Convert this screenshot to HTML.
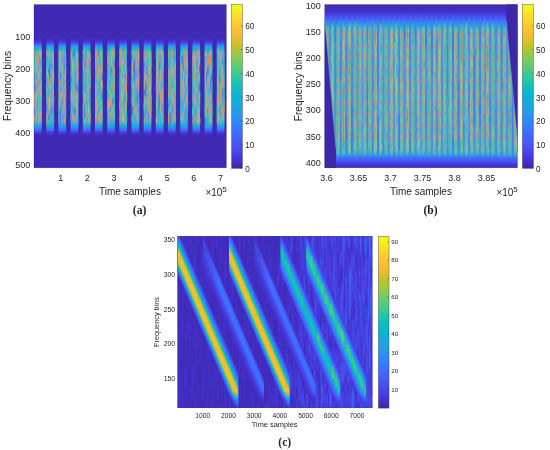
<!DOCTYPE html>
<html><head><meta charset="utf-8"><title>Spectrograms</title>
<style>html,body{margin:0;padding:0;background:#fff}svg{display:block}</style></head>
<body><svg width="550" height="450" viewBox="0 0 550 450" font-family="Liberation Sans, sans-serif">
<defs><linearGradient id="ga" x1="0" y1="0" x2="0" y2="1"><stop offset="0" stop-color="#3e26a8" stop-opacity="0"/><stop offset="0.03" stop-color="#422ebe" stop-opacity="1"/><stop offset="0.05" stop-color="#4539d9" stop-opacity="1"/><stop offset="0.07" stop-color="#484ef1" stop-opacity="1"/><stop offset="0.08" stop-color="#4367fd" stop-opacity="1"/><stop offset="0.09" stop-color="#2d88f6" stop-opacity="1"/><stop offset="0.1" stop-color="#249fe6" stop-opacity="1"/><stop offset="0.11" stop-color="#19addc" stop-opacity="1"/><stop offset="0.13" stop-color="#05b6ce" stop-opacity="1"/><stop offset="0.16" stop-color="#12beb9" stop-opacity="1"/><stop offset="0.47" stop-color="#21c1b0" stop-opacity="1"/><stop offset="0.79" stop-color="#12beb9" stop-opacity="1"/><stop offset="0.83" stop-color="#01b9c6" stop-opacity="1"/><stop offset="0.85" stop-color="#11b1d6" stop-opacity="1"/><stop offset="0.87" stop-color="#1caadf" stop-opacity="1"/><stop offset="0.89" stop-color="#259ce7" stop-opacity="1"/><stop offset="0.9" stop-color="#2e85f8" stop-opacity="1"/><stop offset="0.92" stop-color="#4367fd" stop-opacity="1"/><stop offset="0.93" stop-color="#484aee" stop-opacity="1"/><stop offset="0.95" stop-color="#4536d3" stop-opacity="1"/><stop offset="0.97" stop-color="#402bb7" stop-opacity="1"/><stop offset="1" stop-color="#3e26a8" stop-opacity="0"/></linearGradient>
<clipPath id="ca"><rect x="34" y="4.6" width="192.3" height="163.2"/></clipPath>
<filter id="bl" x="-5%" y="-5%" width="110%" height="110%"><feGaussianBlur stdDeviation="0.45 1.4"/></filter>
<filter id="bl2" x="-5%" y="-5%" width="110%" height="110%"><feGaussianBlur stdDeviation="0.5"/></filter>
<linearGradient id="cba" x1="0" y1="0" x2="0" y2="1"><stop offset="0" stop-color="#f9fb15"/><stop offset="0.06" stop-color="#f5e327"/><stop offset="0.12" stop-color="#feca33"/><stop offset="0.19" stop-color="#f1ba37"/><stop offset="0.25" stop-color="#c8c129"/><stop offset="0.31" stop-color="#94ca4a"/><stop offset="0.38" stop-color="#5ccc76"/><stop offset="0.44" stop-color="#34c79c"/><stop offset="0.5" stop-color="#12beb9"/><stop offset="0.56" stop-color="#0cb3d3"/><stop offset="0.62" stop-color="#21a3e3"/><stop offset="0.69" stop-color="#2c90f0"/><stop offset="0.75" stop-color="#347afd"/><stop offset="0.81" stop-color="#4562fc"/><stop offset="0.88" stop-color="#484cef"/><stop offset="0.94" stop-color="#4536d5"/><stop offset="1" stop-color="#3e26a8"/></linearGradient>
<linearGradient id="gb" x1="0" y1="0" x2="0" y2="1"><stop offset="0.01" stop-color="#402bb7"/><stop offset="0.04" stop-color="#4330c5"/><stop offset="0.06" stop-color="#473fe3"/><stop offset="0.09" stop-color="#465ffb"/><stop offset="0.11" stop-color="#2e85f8"/><stop offset="0.13" stop-color="#22a1e4"/><stop offset="0.15" stop-color="#0ab4d2"/><stop offset="0.17" stop-color="#04bbc2"/><stop offset="0.49" stop-color="#12beb9"/><stop offset="0.81" stop-color="#04bbc2"/><stop offset="0.87" stop-color="#01b9c6"/><stop offset="0.89" stop-color="#05b6ce"/><stop offset="0.91" stop-color="#20a4e3"/><stop offset="0.93" stop-color="#2e85f8"/><stop offset="0.94" stop-color="#4367fd"/><stop offset="0.96" stop-color="#4755f6"/><stop offset="0.97" stop-color="#4743e7"/><stop offset="0.98" stop-color="#4536d3"/><stop offset="1" stop-color="#422ebe"/></linearGradient>
<clipPath id="cpb"><rect x="324.8" y="4.6" width="192.6" height="163.2"/></clipPath>
<filter id="blb" x="-2%" y="-2%" width="104%" height="104%"><feGaussianBlur stdDeviation="0.5 1.4"/></filter>
<linearGradient id="mb" gradientUnits="userSpaceOnUse" x1="0" y1="4.5" x2="0" y2="167.8"><stop offset="0.04" stop-color="#000"/><stop offset="0.1" stop-color="#555"/><stop offset="0.155" stop-color="#fff"/><stop offset="0.89" stop-color="#fff"/><stop offset="0.945" stop-color="#000"/></linearGradient>
<mask id="mkb" maskUnits="userSpaceOnUse" x="320" y="0" width="200" height="170"><rect x="320" y="0" width="200" height="170" fill="url(#mb)"/></mask>
<linearGradient id="cbb" x1="0" y1="0" x2="0" y2="1"><stop offset="0" stop-color="#f9fb15"/><stop offset="0.06" stop-color="#f5e327"/><stop offset="0.12" stop-color="#feca33"/><stop offset="0.19" stop-color="#f1ba37"/><stop offset="0.25" stop-color="#c8c129"/><stop offset="0.31" stop-color="#94ca4a"/><stop offset="0.38" stop-color="#5ccc76"/><stop offset="0.44" stop-color="#34c79c"/><stop offset="0.5" stop-color="#12beb9"/><stop offset="0.56" stop-color="#0cb3d3"/><stop offset="0.62" stop-color="#21a3e3"/><stop offset="0.69" stop-color="#2c90f0"/><stop offset="0.75" stop-color="#347afd"/><stop offset="0.81" stop-color="#4562fc"/><stop offset="0.88" stop-color="#484cef"/><stop offset="0.94" stop-color="#4536d5"/><stop offset="1" stop-color="#3e26a8"/></linearGradient>
<clipPath id="cpc"><rect x="177.6" y="236.3" width="194.6" height="171.5"/></clipPath>
<filter id="blc" x="-5%" y="-5%" width="110%" height="110%"><feGaussianBlur stdDeviation="0.7"/></filter>
<filter id="bls" x="-5%" y="-5%" width="110%" height="110%"><feGaussianBlur stdDeviation="0.35 2"/></filter>
<linearGradient id="mg1" gradientUnits="userSpaceOnUse" x1="0" y1="391" x2="0" y2="399"><stop offset="0" stop-color="#fff"/><stop offset="1" stop-color="#000"/></linearGradient>
<linearGradient id="mg2" gradientUnits="userSpaceOnUse" x1="0" y1="396" x2="0" y2="405"><stop offset="0" stop-color="#fff"/><stop offset="1" stop-color="#000"/></linearGradient>
<linearGradient id="mg3" gradientUnits="userSpaceOnUse" x1="0" y1="402" x2="0" y2="411"><stop offset="0" stop-color="#fff"/><stop offset="1" stop-color="#000"/></linearGradient>
<mask id="mk3" maskUnits="userSpaceOnUse" x="170" y="230" width="210" height="185"><rect x="170" y="230" width="210" height="185" fill="url(#mg3)"/></mask>
<mask id="mk1" maskUnits="userSpaceOnUse" x="170" y="230" width="210" height="185"><rect x="170" y="230" width="210" height="185" fill="url(#mg1)"/></mask>
<mask id="mk2" maskUnits="userSpaceOnUse" x="170" y="230" width="210" height="185"><rect x="170" y="230" width="210" height="185" fill="url(#mg2)"/></mask>
<linearGradient id="fadeh" gradientUnits="userSpaceOnUse" x1="0" y1="0" x2="16" y2="0"><stop offset="0" stop-color="#4433cc" stop-opacity="0.7"/><stop offset="1" stop-color="#4433cc" stop-opacity="0"/></linearGradient>
<linearGradient id="gc0" x1="0" y1="0" x2="0" y2="1"><stop offset="0" stop-color="#422ebe" stop-opacity="0"/><stop offset="0.12" stop-color="#484ff2" stop-opacity="1"/><stop offset="0.22" stop-color="#327cfc" stop-opacity="1"/><stop offset="0.27" stop-color="#23a0e5" stop-opacity="1"/><stop offset="0.33" stop-color="#01b9c6" stop-opacity="1"/><stop offset="0.38" stop-color="#4ccb82" stop-opacity="1"/><stop offset="0.43" stop-color="#a8c73b" stop-opacity="1"/><stop offset="0.45" stop-color="#dabd28" stop-opacity="1"/><stop offset="0.49" stop-color="#edba34" stop-opacity="1"/><stop offset="0.53" stop-color="#fabb3d" stop-opacity="1"/><stop offset="0.56" stop-color="#fabb3d" stop-opacity="1"/><stop offset="0.59" stop-color="#fabb3d" stop-opacity="1"/><stop offset="0.64" stop-color="#edba34" stop-opacity="1"/><stop offset="0.67" stop-color="#dabd28" stop-opacity="1"/><stop offset="0.7" stop-color="#a8c73b" stop-opacity="1"/><stop offset="0.74" stop-color="#4ccb82" stop-opacity="1"/><stop offset="0.78" stop-color="#01b9c6" stop-opacity="1"/><stop offset="0.82" stop-color="#23a0e5" stop-opacity="1"/><stop offset="0.85" stop-color="#327cfc" stop-opacity="1"/><stop offset="0.92" stop-color="#484ff2" stop-opacity="1"/><stop offset="1" stop-color="#422ebe" stop-opacity="0"/></linearGradient>
<clipPath id="cc0"><rect x="177.6" y="236.3" width="60.6" height="171.5"/></clipPath>
<linearGradient id="gt0" x1="0" y1="0" x2="0" y2="1"><stop offset="0" stop-color="#03b7cb" stop-opacity="0.95"/><stop offset="0.33" stop-color="#259be8" stop-opacity="0.75"/><stop offset="0.67" stop-color="#3a73fe" stop-opacity="0.55"/><stop offset="1" stop-color="#484cef" stop-opacity="0.35"/></linearGradient>
<linearGradient id="gu0_0" x1="0" y1="0" x2="0" y2="1"><stop offset="0" stop-color="#422ebe" stop-opacity="0"/><stop offset="0.12" stop-color="#4536d3" stop-opacity="1"/><stop offset="0.22" stop-color="#4742e6" stop-opacity="1"/><stop offset="0.27" stop-color="#484df1" stop-opacity="1"/><stop offset="0.33" stop-color="#4758f8" stop-opacity="1"/><stop offset="0.38" stop-color="#4367fd" stop-opacity="1"/><stop offset="0.43" stop-color="#3b72ff" stop-opacity="1"/><stop offset="0.45" stop-color="#347afd" stop-opacity="1"/><stop offset="0.49" stop-color="#317dfc" stop-opacity="1"/><stop offset="0.53" stop-color="#3080fa" stop-opacity="1"/><stop offset="0.56" stop-color="#3080fa" stop-opacity="1"/><stop offset="0.59" stop-color="#3080fa" stop-opacity="1"/><stop offset="0.64" stop-color="#317dfc" stop-opacity="1"/><stop offset="0.67" stop-color="#347afd" stop-opacity="1"/><stop offset="0.7" stop-color="#3b72ff" stop-opacity="1"/><stop offset="0.74" stop-color="#4367fd" stop-opacity="1"/><stop offset="0.78" stop-color="#4758f8" stop-opacity="1"/><stop offset="0.82" stop-color="#484df1" stop-opacity="1"/><stop offset="0.85" stop-color="#4742e6" stop-opacity="1"/><stop offset="0.92" stop-color="#4536d3" stop-opacity="1"/><stop offset="1" stop-color="#422ebe" stop-opacity="0"/></linearGradient>
<linearGradient id="gu0_1" x1="0" y1="0" x2="0" y2="1"><stop offset="0" stop-color="#422ebe" stop-opacity="0"/><stop offset="0.12" stop-color="#473fe2" stop-opacity="1"/><stop offset="0.22" stop-color="#4757f7" stop-opacity="1"/><stop offset="0.27" stop-color="#3f6eff" stop-opacity="1"/><stop offset="0.33" stop-color="#2e84f8" stop-opacity="1"/><stop offset="0.38" stop-color="#249de7" stop-opacity="1"/><stop offset="0.43" stop-color="#18aedb" stop-opacity="1"/><stop offset="0.45" stop-color="#05b6ce" stop-opacity="1"/><stop offset="0.49" stop-color="#01b9c7" stop-opacity="1"/><stop offset="0.53" stop-color="#05bbc1" stop-opacity="1"/><stop offset="0.56" stop-color="#05bbc1" stop-opacity="1"/><stop offset="0.59" stop-color="#05bbc1" stop-opacity="1"/><stop offset="0.64" stop-color="#01b9c7" stop-opacity="1"/><stop offset="0.67" stop-color="#05b6ce" stop-opacity="1"/><stop offset="0.7" stop-color="#18aedb" stop-opacity="1"/><stop offset="0.74" stop-color="#249de7" stop-opacity="1"/><stop offset="0.78" stop-color="#2e84f8" stop-opacity="1"/><stop offset="0.82" stop-color="#3f6eff" stop-opacity="1"/><stop offset="0.85" stop-color="#4757f7" stop-opacity="1"/><stop offset="0.92" stop-color="#473fe2" stop-opacity="1"/><stop offset="1" stop-color="#422ebe" stop-opacity="0"/></linearGradient>
<linearGradient id="gc1" x1="0" y1="0" x2="0" y2="1"><stop offset="0" stop-color="#422ebe" stop-opacity="0"/><stop offset="0.08" stop-color="#463cdf" stop-opacity="1"/><stop offset="0.15" stop-color="#4756f7" stop-opacity="1"/><stop offset="0.22" stop-color="#406cfe" stop-opacity="1"/><stop offset="0.28" stop-color="#3974fe" stop-opacity="1"/><stop offset="0.39" stop-color="#3974fe" stop-opacity="1"/><stop offset="0.47" stop-color="#4465fd" stop-opacity="1"/><stop offset="0.58" stop-color="#484ff2" stop-opacity="1"/><stop offset="0.72" stop-color="#463cdf" stop-opacity="1"/><stop offset="0.86" stop-color="#4433cd" stop-opacity="1"/><stop offset="1" stop-color="#422ebe" stop-opacity="0"/></linearGradient>
<clipPath id="cc1"><rect x="203.32" y="236.3" width="60.6" height="171.5"/></clipPath>
<linearGradient id="gt1" x1="0" y1="0" x2="0" y2="1"><stop offset="0" stop-color="#484df1" stop-opacity="0.95"/><stop offset="0.33" stop-color="#4742e7" stop-opacity="0.75"/><stop offset="0.67" stop-color="#4537d7" stop-opacity="0.55"/><stop offset="1" stop-color="#4536d3" stop-opacity="0.35"/></linearGradient>
<linearGradient id="gu1_0" x1="0" y1="0" x2="0" y2="1"><stop offset="0" stop-color="#422ebe" stop-opacity="0"/><stop offset="0.08" stop-color="#4331c6" stop-opacity="1"/><stop offset="0.15" stop-color="#4435d1" stop-opacity="1"/><stop offset="0.22" stop-color="#4639d9" stop-opacity="1"/><stop offset="0.28" stop-color="#463adc" stop-opacity="1"/><stop offset="0.39" stop-color="#463adc" stop-opacity="1"/><stop offset="0.47" stop-color="#4538d7" stop-opacity="1"/><stop offset="0.58" stop-color="#4434ce" stop-opacity="1"/><stop offset="0.72" stop-color="#4331c6" stop-opacity="1"/><stop offset="0.86" stop-color="#422fc1" stop-opacity="1"/><stop offset="1" stop-color="#422ebe" stop-opacity="0"/></linearGradient>
<linearGradient id="gu1_1" x1="0" y1="0" x2="0" y2="1"><stop offset="0" stop-color="#422ebe" stop-opacity="0"/><stop offset="0.08" stop-color="#4435d1" stop-opacity="1"/><stop offset="0.15" stop-color="#4741e5" stop-opacity="1"/><stop offset="0.22" stop-color="#484cf0" stop-opacity="1"/><stop offset="0.28" stop-color="#4850f3" stop-opacity="1"/><stop offset="0.39" stop-color="#4850f3" stop-opacity="1"/><stop offset="0.47" stop-color="#4848ec" stop-opacity="1"/><stop offset="0.58" stop-color="#463de0" stop-opacity="1"/><stop offset="0.72" stop-color="#4435d1" stop-opacity="1"/><stop offset="0.86" stop-color="#4331c6" stop-opacity="1"/><stop offset="1" stop-color="#422ebe" stop-opacity="0"/></linearGradient>
<linearGradient id="gc2" x1="0" y1="0" x2="0" y2="1"><stop offset="0" stop-color="#422ebe" stop-opacity="0"/><stop offset="0.12" stop-color="#484ff2" stop-opacity="1"/><stop offset="0.22" stop-color="#327cfc" stop-opacity="1"/><stop offset="0.27" stop-color="#23a0e5" stop-opacity="1"/><stop offset="0.33" stop-color="#01b9c6" stop-opacity="1"/><stop offset="0.38" stop-color="#4ccb82" stop-opacity="1"/><stop offset="0.43" stop-color="#a8c73b" stop-opacity="1"/><stop offset="0.45" stop-color="#dabd28" stop-opacity="1"/><stop offset="0.49" stop-color="#edba34" stop-opacity="1"/><stop offset="0.53" stop-color="#fabb3d" stop-opacity="1"/><stop offset="0.56" stop-color="#fabb3d" stop-opacity="1"/><stop offset="0.59" stop-color="#fabb3d" stop-opacity="1"/><stop offset="0.64" stop-color="#edba34" stop-opacity="1"/><stop offset="0.67" stop-color="#dabd28" stop-opacity="1"/><stop offset="0.7" stop-color="#a8c73b" stop-opacity="1"/><stop offset="0.74" stop-color="#4ccb82" stop-opacity="1"/><stop offset="0.78" stop-color="#01b9c6" stop-opacity="1"/><stop offset="0.82" stop-color="#23a0e5" stop-opacity="1"/><stop offset="0.85" stop-color="#327cfc" stop-opacity="1"/><stop offset="0.92" stop-color="#484ff2" stop-opacity="1"/><stop offset="1" stop-color="#422ebe" stop-opacity="0"/></linearGradient>
<clipPath id="cc2"><rect x="229.04" y="236.3" width="60.6" height="171.5"/></clipPath>
<linearGradient id="gt2" x1="0" y1="0" x2="0" y2="1"><stop offset="0" stop-color="#03b7cb" stop-opacity="0.95"/><stop offset="0.33" stop-color="#259be8" stop-opacity="0.75"/><stop offset="0.67" stop-color="#3a73fe" stop-opacity="0.55"/><stop offset="1" stop-color="#484cef" stop-opacity="0.35"/></linearGradient>
<linearGradient id="gu2_0" x1="0" y1="0" x2="0" y2="1"><stop offset="0" stop-color="#422ebe" stop-opacity="0"/><stop offset="0.12" stop-color="#4536d3" stop-opacity="1"/><stop offset="0.22" stop-color="#4742e6" stop-opacity="1"/><stop offset="0.27" stop-color="#484df1" stop-opacity="1"/><stop offset="0.33" stop-color="#4758f8" stop-opacity="1"/><stop offset="0.38" stop-color="#4367fd" stop-opacity="1"/><stop offset="0.43" stop-color="#3b72ff" stop-opacity="1"/><stop offset="0.45" stop-color="#347afd" stop-opacity="1"/><stop offset="0.49" stop-color="#317dfc" stop-opacity="1"/><stop offset="0.53" stop-color="#3080fa" stop-opacity="1"/><stop offset="0.56" stop-color="#3080fa" stop-opacity="1"/><stop offset="0.59" stop-color="#3080fa" stop-opacity="1"/><stop offset="0.64" stop-color="#317dfc" stop-opacity="1"/><stop offset="0.67" stop-color="#347afd" stop-opacity="1"/><stop offset="0.7" stop-color="#3b72ff" stop-opacity="1"/><stop offset="0.74" stop-color="#4367fd" stop-opacity="1"/><stop offset="0.78" stop-color="#4758f8" stop-opacity="1"/><stop offset="0.82" stop-color="#484df1" stop-opacity="1"/><stop offset="0.85" stop-color="#4742e6" stop-opacity="1"/><stop offset="0.92" stop-color="#4536d3" stop-opacity="1"/><stop offset="1" stop-color="#422ebe" stop-opacity="0"/></linearGradient>
<linearGradient id="gu2_1" x1="0" y1="0" x2="0" y2="1"><stop offset="0" stop-color="#422ebe" stop-opacity="0"/><stop offset="0.12" stop-color="#473fe2" stop-opacity="1"/><stop offset="0.22" stop-color="#4757f7" stop-opacity="1"/><stop offset="0.27" stop-color="#3f6eff" stop-opacity="1"/><stop offset="0.33" stop-color="#2e84f8" stop-opacity="1"/><stop offset="0.38" stop-color="#249de7" stop-opacity="1"/><stop offset="0.43" stop-color="#18aedb" stop-opacity="1"/><stop offset="0.45" stop-color="#05b6ce" stop-opacity="1"/><stop offset="0.49" stop-color="#01b9c7" stop-opacity="1"/><stop offset="0.53" stop-color="#05bbc1" stop-opacity="1"/><stop offset="0.56" stop-color="#05bbc1" stop-opacity="1"/><stop offset="0.59" stop-color="#05bbc1" stop-opacity="1"/><stop offset="0.64" stop-color="#01b9c7" stop-opacity="1"/><stop offset="0.67" stop-color="#05b6ce" stop-opacity="1"/><stop offset="0.7" stop-color="#18aedb" stop-opacity="1"/><stop offset="0.74" stop-color="#249de7" stop-opacity="1"/><stop offset="0.78" stop-color="#2e84f8" stop-opacity="1"/><stop offset="0.82" stop-color="#3f6eff" stop-opacity="1"/><stop offset="0.85" stop-color="#4757f7" stop-opacity="1"/><stop offset="0.92" stop-color="#473fe2" stop-opacity="1"/><stop offset="1" stop-color="#422ebe" stop-opacity="0"/></linearGradient>
<linearGradient id="gc3" x1="0" y1="0" x2="0" y2="1"><stop offset="0" stop-color="#422ebe" stop-opacity="0"/><stop offset="0.08" stop-color="#463cde" stop-opacity="1"/><stop offset="0.15" stop-color="#4854f5" stop-opacity="1"/><stop offset="0.22" stop-color="#4269fe" stop-opacity="1"/><stop offset="0.28" stop-color="#3d70ff" stop-opacity="1"/><stop offset="0.39" stop-color="#3d70ff" stop-opacity="1"/><stop offset="0.47" stop-color="#4562fc" stop-opacity="1"/><stop offset="0.58" stop-color="#484df0" stop-opacity="1"/><stop offset="0.72" stop-color="#463cde" stop-opacity="1"/><stop offset="0.86" stop-color="#4433cc" stop-opacity="1"/><stop offset="1" stop-color="#422ebe" stop-opacity="0"/></linearGradient>
<clipPath id="cc3"><rect x="254.76" y="236.3" width="60.6" height="171.5"/></clipPath>
<linearGradient id="gt3" x1="0" y1="0" x2="0" y2="1"><stop offset="0" stop-color="#484bef" stop-opacity="0.95"/><stop offset="0.33" stop-color="#4741e5" stop-opacity="0.75"/><stop offset="0.67" stop-color="#4537d5" stop-opacity="0.55"/><stop offset="1" stop-color="#4536d3" stop-opacity="0.35"/></linearGradient>
<linearGradient id="gu3_0" x1="0" y1="0" x2="0" y2="1"><stop offset="0" stop-color="#422ebe" stop-opacity="0"/><stop offset="0.08" stop-color="#4331c6" stop-opacity="1"/><stop offset="0.15" stop-color="#4434d0" stop-opacity="1"/><stop offset="0.22" stop-color="#4538d8" stop-opacity="1"/><stop offset="0.28" stop-color="#4639da" stop-opacity="1"/><stop offset="0.39" stop-color="#4639da" stop-opacity="1"/><stop offset="0.47" stop-color="#4537d5" stop-opacity="1"/><stop offset="0.58" stop-color="#4433cd" stop-opacity="1"/><stop offset="0.72" stop-color="#4331c6" stop-opacity="1"/><stop offset="0.86" stop-color="#422fc1" stop-opacity="1"/><stop offset="1" stop-color="#422ebe" stop-opacity="0"/></linearGradient>
<linearGradient id="gu3_1" x1="0" y1="0" x2="0" y2="1"><stop offset="0" stop-color="#422ebe" stop-opacity="0"/><stop offset="0.08" stop-color="#4434d0" stop-opacity="1"/><stop offset="0.15" stop-color="#4740e3" stop-opacity="1"/><stop offset="0.22" stop-color="#484aee" stop-opacity="1"/><stop offset="0.28" stop-color="#484ef1" stop-opacity="1"/><stop offset="0.39" stop-color="#484ef1" stop-opacity="1"/><stop offset="0.47" stop-color="#4747eb" stop-opacity="1"/><stop offset="0.58" stop-color="#463cdf" stop-opacity="1"/><stop offset="0.72" stop-color="#4434d0" stop-opacity="1"/><stop offset="0.86" stop-color="#4330c5" stop-opacity="1"/><stop offset="1" stop-color="#422ebe" stop-opacity="0"/></linearGradient>
<linearGradient id="gc4" x1="0" y1="0" x2="0" y2="1"><stop offset="0" stop-color="#4536d3" stop-opacity="0"/><stop offset="0.11" stop-color="#4848ec" stop-opacity="1"/><stop offset="0.2" stop-color="#4466fd" stop-opacity="1"/><stop offset="0.27" stop-color="#2d88f6" stop-opacity="1"/><stop offset="0.33" stop-color="#1ea8e1" stop-opacity="1"/><stop offset="0.39" stop-color="#02bac4" stop-opacity="1"/><stop offset="0.43" stop-color="#1bc0b4" stop-opacity="1"/><stop offset="0.48" stop-color="#21c1b0" stop-opacity="1"/><stop offset="0.52" stop-color="#1bc0b4" stop-opacity="1"/><stop offset="0.57" stop-color="#02bac4" stop-opacity="1"/><stop offset="0.64" stop-color="#1ea8e1" stop-opacity="1"/><stop offset="0.7" stop-color="#2d88f6" stop-opacity="1"/><stop offset="0.8" stop-color="#4466fd" stop-opacity="1"/><stop offset="0.89" stop-color="#484cef" stop-opacity="1"/><stop offset="1" stop-color="#4536d3" stop-opacity="0"/></linearGradient>
<clipPath id="cc4"><rect x="280.48" y="236.3" width="59.6" height="171.5"/></clipPath>
<linearGradient id="gt4" x1="0" y1="0" x2="0" y2="1"><stop offset="0" stop-color="#2e87f7" stop-opacity="0.95"/><stop offset="0.33" stop-color="#3f6efe" stop-opacity="0.75"/><stop offset="0.67" stop-color="#4853f5" stop-opacity="0.55"/><stop offset="1" stop-color="#463bdd" stop-opacity="0.35"/></linearGradient>
<linearGradient id="gu4_0" x1="0" y1="0" x2="0" y2="1"><stop offset="0" stop-color="#4536d3" stop-opacity="0"/><stop offset="0.11" stop-color="#463ada" stop-opacity="1"/><stop offset="0.2" stop-color="#4740e4" stop-opacity="1"/><stop offset="0.27" stop-color="#4848ec" stop-opacity="1"/><stop offset="0.33" stop-color="#4850f3" stop-opacity="1"/><stop offset="0.39" stop-color="#4757f7" stop-opacity="1"/><stop offset="0.43" stop-color="#475af9" stop-opacity="1"/><stop offset="0.48" stop-color="#475bf9" stop-opacity="1"/><stop offset="0.52" stop-color="#475af9" stop-opacity="1"/><stop offset="0.57" stop-color="#4757f7" stop-opacity="1"/><stop offset="0.64" stop-color="#4850f3" stop-opacity="1"/><stop offset="0.7" stop-color="#4848ec" stop-opacity="1"/><stop offset="0.8" stop-color="#4740e4" stop-opacity="1"/><stop offset="0.89" stop-color="#463adc" stop-opacity="1"/><stop offset="1" stop-color="#4536d3" stop-opacity="0"/></linearGradient>
<linearGradient id="gu4_1" x1="0" y1="0" x2="0" y2="1"><stop offset="0" stop-color="#4536d3" stop-opacity="0"/><stop offset="0.11" stop-color="#473fe2" stop-opacity="1"/><stop offset="0.2" stop-color="#484ff2" stop-opacity="1"/><stop offset="0.27" stop-color="#4660fb" stop-opacity="1"/><stop offset="0.33" stop-color="#3a74fe" stop-opacity="1"/><stop offset="0.39" stop-color="#2e84f8" stop-opacity="1"/><stop offset="0.43" stop-color="#2d8bf4" stop-opacity="1"/><stop offset="0.48" stop-color="#2d8cf3" stop-opacity="1"/><stop offset="0.52" stop-color="#2d8bf4" stop-opacity="1"/><stop offset="0.57" stop-color="#2e84f8" stop-opacity="1"/><stop offset="0.64" stop-color="#3a74fe" stop-opacity="1"/><stop offset="0.7" stop-color="#4660fb" stop-opacity="1"/><stop offset="0.8" stop-color="#484ff2" stop-opacity="1"/><stop offset="0.89" stop-color="#4741e5" stop-opacity="1"/><stop offset="1" stop-color="#4536d3" stop-opacity="0"/></linearGradient>
<linearGradient id="gc5" x1="0" y1="0" x2="0" y2="1"><stop offset="0" stop-color="#4536d3" stop-opacity="0"/><stop offset="0.11" stop-color="#484bee" stop-opacity="1"/><stop offset="0.2" stop-color="#416cfe" stop-opacity="1"/><stop offset="0.27" stop-color="#2b91ef" stop-opacity="1"/><stop offset="0.33" stop-color="#12b1d6" stop-opacity="1"/><stop offset="0.39" stop-color="#20c1b1" stop-opacity="1"/><stop offset="0.43" stop-color="#33c69d" stop-opacity="1"/><stop offset="0.48" stop-color="#37c898" stop-opacity="1"/><stop offset="0.52" stop-color="#33c69d" stop-opacity="1"/><stop offset="0.57" stop-color="#20c1b1" stop-opacity="1"/><stop offset="0.64" stop-color="#12b1d6" stop-opacity="1"/><stop offset="0.7" stop-color="#2b91ef" stop-opacity="1"/><stop offset="0.8" stop-color="#416cfe" stop-opacity="1"/><stop offset="0.89" stop-color="#484ef1" stop-opacity="1"/><stop offset="1" stop-color="#4536d3" stop-opacity="0"/></linearGradient>
<clipPath id="cc5"><rect x="306.2" y="236.3" width="59.6" height="171.5"/></clipPath>
<linearGradient id="gt5" x1="0" y1="0" x2="0" y2="1"><stop offset="0" stop-color="#2c90f0" stop-opacity="0.95"/><stop offset="0.33" stop-color="#3876fe" stop-opacity="0.75"/><stop offset="0.67" stop-color="#4758f8" stop-opacity="0.55"/><stop offset="1" stop-color="#463ee1" stop-opacity="0.35"/></linearGradient>
<linearGradient id="gu5_0" x1="0" y1="0" x2="0" y2="1"><stop offset="0" stop-color="#4536d3" stop-opacity="0"/><stop offset="0.11" stop-color="#463adc" stop-opacity="1"/><stop offset="0.2" stop-color="#4742e6" stop-opacity="1"/><stop offset="0.27" stop-color="#484bee" stop-opacity="1"/><stop offset="0.33" stop-color="#4854f5" stop-opacity="1"/><stop offset="0.39" stop-color="#475cfa" stop-opacity="1"/><stop offset="0.43" stop-color="#465ffb" stop-opacity="1"/><stop offset="0.48" stop-color="#4660fc" stop-opacity="1"/><stop offset="0.52" stop-color="#465ffb" stop-opacity="1"/><stop offset="0.57" stop-color="#475cfa" stop-opacity="1"/><stop offset="0.64" stop-color="#4854f5" stop-opacity="1"/><stop offset="0.7" stop-color="#484bee" stop-opacity="1"/><stop offset="0.8" stop-color="#4742e6" stop-opacity="1"/><stop offset="0.89" stop-color="#463bdd" stop-opacity="1"/><stop offset="1" stop-color="#4536d3" stop-opacity="0"/></linearGradient>
<linearGradient id="gu5_1" x1="0" y1="0" x2="0" y2="1"><stop offset="0" stop-color="#4536d3" stop-opacity="0"/><stop offset="0.11" stop-color="#4740e4" stop-opacity="1"/><stop offset="0.2" stop-color="#4852f4" stop-opacity="1"/><stop offset="0.27" stop-color="#4465fd" stop-opacity="1"/><stop offset="0.33" stop-color="#327cfc" stop-opacity="1"/><stop offset="0.39" stop-color="#2d8df2" stop-opacity="1"/><stop offset="0.43" stop-color="#2994ed" stop-opacity="1"/><stop offset="0.48" stop-color="#2896ec" stop-opacity="1"/><stop offset="0.52" stop-color="#2994ed" stop-opacity="1"/><stop offset="0.57" stop-color="#2d8df2" stop-opacity="1"/><stop offset="0.64" stop-color="#327cfc" stop-opacity="1"/><stop offset="0.7" stop-color="#4465fd" stop-opacity="1"/><stop offset="0.8" stop-color="#4852f4" stop-opacity="1"/><stop offset="0.89" stop-color="#4742e6" stop-opacity="1"/><stop offset="1" stop-color="#4536d3" stop-opacity="0"/></linearGradient>
<linearGradient id="cbc" x1="0" y1="0" x2="0" y2="1"><stop offset="0" stop-color="#f9fb15"/><stop offset="0.06" stop-color="#f5e327"/><stop offset="0.12" stop-color="#feca33"/><stop offset="0.19" stop-color="#f1ba37"/><stop offset="0.25" stop-color="#c8c129"/><stop offset="0.31" stop-color="#94ca4a"/><stop offset="0.38" stop-color="#5ccc76"/><stop offset="0.44" stop-color="#34c79c"/><stop offset="0.5" stop-color="#12beb9"/><stop offset="0.56" stop-color="#0cb3d3"/><stop offset="0.62" stop-color="#21a3e3"/><stop offset="0.69" stop-color="#2c90f0"/><stop offset="0.75" stop-color="#347afd"/><stop offset="0.81" stop-color="#4562fc"/><stop offset="0.88" stop-color="#484cef"/><stop offset="0.94" stop-color="#4536d5"/><stop offset="1" stop-color="#3e26a8"/></linearGradient></defs>
<rect width="550" height="450" fill="#fff"/>
<g id="pa">
<rect x="34" y="4.6" width="192.3" height="163.2" fill="#402ab4"/>
<g clip-path="url(#ca)">
<g filter="url(#bl2)">
<rect x="34.12" y="36.26" width="7.6" height="102.24" fill="url(#ga)"/>
<rect x="46.3" y="36.26" width="7.6" height="102.24" fill="url(#ga)"/>
<rect x="58.48" y="36.26" width="7.6" height="102.24" fill="url(#ga)"/>
<rect x="70.66" y="36.26" width="7.6" height="102.24" fill="url(#ga)"/>
<rect x="82.84" y="36.26" width="7.6" height="102.24" fill="url(#ga)"/>
<rect x="95.02" y="36.26" width="7.6" height="102.24" fill="url(#ga)"/>
<rect x="107.2" y="36.26" width="7.6" height="102.24" fill="url(#ga)"/>
<rect x="119.38" y="36.26" width="7.6" height="102.24" fill="url(#ga)"/>
<rect x="131.56" y="36.26" width="7.6" height="102.24" fill="url(#ga)"/>
<rect x="143.74" y="36.26" width="7.6" height="102.24" fill="url(#ga)"/>
<rect x="155.92" y="36.26" width="7.6" height="102.24" fill="url(#ga)"/>
<rect x="168.1" y="36.26" width="7.6" height="102.24" fill="url(#ga)"/>
<rect x="180.28" y="36.26" width="7.6" height="102.24" fill="url(#ga)"/>
<rect x="192.46" y="36.26" width="7.6" height="102.24" fill="url(#ga)"/>
<rect x="204.64" y="36.26" width="7.6" height="102.24" fill="url(#ga)"/>
<rect x="216.82" y="36.26" width="7.6" height="102.24" fill="url(#ga)"/>
</g>
<g filter="url(#bl)">
<path fill="#38b0d0" d="M35.4 51.3h1.4v6.3h-1.4zM36.8 77.1h1.4v5.6h-1.4zM40.6 62.6h1.4v4.8h-1.4zM40.4 72.3h1.4v8h-1.4zM40.5 120.9h1.4v2.6h-1.4zM47.7 59.3h1.4v10h-1.4zM48.8 60.3h1.4v7.7h-1.4zM48.7 108.6h1.4v9.8h-1.4zM50.2 50.5h1.4v9.7h-1.4zM49.9 89.6h1.4v3.7h-1.4zM50.1 112.8h1.4v3.8h-1.4zM52.7 111.6h1.4v9.3h-1.4zM60.9 105.8h1.4v6h-1.4zM63.6 50.7h1.4v3.5h-1.4zM63.6 80.5h1.4v4.4h-1.4zM63.7 113h1.4v5.9h-1.4zM70.6 85.9h1.4v5.4h-1.4zM70.7 101.4h1.4v5.4h-1.4zM73.3 81h1.4v5.2h-1.4zM74.5 70.9h1.4v6.4h-1.4zM75.8 49.8h1.4v4.3h-1.4zM77.1 115h1.4v4.6h-1.4zM82.8 70.9h1.4v9.7h-1.4zM82.6 80.6h1.4v5.2h-1.4zM84 67.4h1.4v9.9h-1.4zM84.1 81.7h1.4v7.1h-1.4zM85.5 79.3h1.4v9.5h-1.4zM86.4 102.3h1.4v7.9h-1.4zM89 87.5h1.4v10h-1.4zM89 97.5h1.4v10.2h-1.4zM98.8 77.7h1.4v9.8h-1.4zM100.3 95.8h1.4v5h-1.4zM101.5 97.7h1.4v3.9h-1.4zM107.3 109.8h1.4v10.4h-1.4zM109.8 66.6h1.4v10.4h-1.4zM113.5 74.6h1.4v3.9h-1.4zM119.4 87.1h1.4v7.2h-1.4zM123.4 95.3h1.4v5.6h-1.4zM123 100.9h1.4v8.8h-1.4zM125.7 49.4h1.4v6.9h-1.4zM125.7 65.2h1.4v4.7h-1.4zM125.9 114.6h1.4v7.3h-1.4zM131.8 53.9h1.4v8.7h-1.4zM131.5 74.9h1.4v4.1h-1.4zM132.8 60.4h1.4v4.4h-1.4zM133 72h1.4v8.6h-1.4zM132.9 103h1.4v5.9h-1.4zM133.9 98.4h1.4v5.6h-1.4zM136.8 84.9h1.4v9.9h-1.4zM136.5 108.6h1.4v4.8h-1.4zM143.8 110.2h1.4v8.6h-1.4zM145.1 118.3h1.4v5.2h-1.4zM147.5 73.8h1.4v5h-1.4zM149 105.4h1.4v4.4h-1.4zM157.3 100.6h1.4v5.1h-1.4zM158.3 70.3h1.4v10h-1.4zM159.6 113.2h1.4v4.7h-1.4zM159.7 117.9h1.4v5.6h-1.4zM161 103h1.4v7.9h-1.4zM162.4 49.7h1.4v3.6h-1.4zM167.9 97.7h1.4v5.5h-1.4zM169.3 89.8h1.4v10.3h-1.4zM170.6 78h1.4v5.3h-1.4zM170.6 83.3h1.4v5.5h-1.4zM170.6 116h1.4v7.5h-1.4zM173.2 56.4h1.4v9.5h-1.4zM174.2 56.8h1.4v5.7h-1.4zM180.3 50.8h1.4v5.6h-1.4zM180.4 98.4h1.4v8.5h-1.4zM181.5 105h1.4v8h-1.4zM184 92.5h1.4v10.5h-1.4zM184.2 117.2h1.4v6.3h-1.4zM185.2 103.7h1.4v9.3h-1.4zM185.4 113h1.4v8.3h-1.4zM185.4 121.3h1.4v2.2h-1.4zM186.6 108h1.4v6h-1.4zM186.5 114h1.4v5.8h-1.4zM193.9 108.9h1.4v9.8h-1.4zM197.7 72.3h1.4v4h-1.4zM197.6 100.4h1.4v5.5h-1.4zM204.6 89.9h1.4v7.5h-1.4zM208.5 64.5h1.4v3.7h-1.4zM211 54.1h1.4v7.1h-1.4zM218.2 74.3h1.4v5.4h-1.4zM221.8 102.3h1.4v3.9h-1.4zM222 116.1h1.4v6.5h-1.4zM223.1 61.5h1.4v10h-1.4zM223.1 87.1h1.4v6.5h-1.4z"/>
<path fill="#46bcc0" d="M33.9 56.5h1.4v7.9h-1.4zM36.7 105.4h1.4v5.7h-1.4zM36.5 114.7h1.4v7.8h-1.4zM37.9 90.9h1.4v7.3h-1.4zM38 98.3h1.4v7.6h-1.4zM38 105.8h1.4v7.9h-1.4zM39.2 77.3h1.4v8.9h-1.4zM40.5 57.6h1.4v5.1h-1.4zM40.6 96.5h1.4v4.6h-1.4zM46.5 59.6h1.4v9.2h-1.4zM47.4 83.9h1.4v8.9h-1.4zM47.4 92.8h1.4v4.4h-1.4zM49 118.4h1.4v5.1h-1.4zM50 68.8h1.4v7.6h-1.4zM49.9 76.4h1.4v8.9h-1.4zM50.2 116.6h1.4v6.9h-1.4zM51.4 89h1.4v8.7h-1.4zM51.5 113.4h1.4v4.5h-1.4zM52.8 95.8h1.4v8.9h-1.4zM58.6 97.2h1.4v4.1h-1.4zM58.4 106.8h1.4v8.2h-1.4zM60.9 111.8h1.4v5.4h-1.4zM62.4 78h1.4v9h-1.4zM64.6 50h1.4v4.3h-1.4zM64.8 54.2h1.4v4.9h-1.4zM64.7 100.3h1.4v5.1h-1.4zM64.8 105.3h1.4v9h-1.4zM64.6 119.2h1.4v4.3h-1.4zM70.6 57.2h1.4v8.4h-1.4zM70.8 65.6h1.4v6.3h-1.4zM70.6 71.9h1.4v5h-1.4zM70.8 81.6h1.4v4.4h-1.4zM70.7 106.7h1.4v5.9h-1.4zM71.8 74.4h1.4v10.1h-1.4zM71.9 84.5h1.4v9.4h-1.4zM73.2 63.8h1.4v8.5h-1.4zM73.2 105.6h1.4v6.1h-1.4zM73.2 111.7h1.4v10.2h-1.4zM73.3 121.9h1.4v1.6h-1.4zM74.5 49.2h1.4v3.8h-1.4zM74.4 53.1h1.4v7.6h-1.4zM74.6 86.4h1.4v4.7h-1.4zM74.6 91.1h1.4v4.3h-1.4zM75.6 97.4h1.4v6.5h-1.4zM77.1 80h1.4v4.8h-1.4zM82.7 90.2h1.4v4.7h-1.4zM82.8 112.8h1.4v4.8h-1.4zM82.9 117.6h1.4v5.9h-1.4zM83.9 88.8h1.4v5.5h-1.4zM85.4 88.8h1.4v7.8h-1.4zM86.5 121h1.4v2.5h-1.4zM88 66.3h1.4v4.5h-1.4zM88.1 75.6h1.4v9.6h-1.4zM87.8 98.7h1.4v4.4h-1.4zM95 62.9h1.4v8.9h-1.4zM95.1 71.7h1.4v6.6h-1.4zM95 109.5h1.4v5.4h-1.4zM96.4 78h1.4v8.9h-1.4zM97.7 79.6h1.4v8.3h-1.4zM97.4 99.6h1.4v7.7h-1.4zM97.7 107.3h1.4v6h-1.4zM99 50.5h1.4v6.6h-1.4zM98.8 57h1.4v8.3h-1.4zM99 98.8h1.4v8h-1.4zM100.1 57.7h1.4v9.8h-1.4zM100.1 85.2h1.4v4.9h-1.4zM100 117.1h1.4v6.4h-1.4zM107.3 120.2h1.4v3.3h-1.4zM108.5 61.9h1.4v6.2h-1.4zM108.3 80.1h1.4v7.5h-1.4zM108.5 94.5h1.4v4.7h-1.4zM108.4 109.1h1.4v6.3h-1.4zM109.8 77h1.4v9.8h-1.4zM111 113.6h1.4v8.7h-1.4zM112.4 56.8h1.4v3.5h-1.4zM112.3 77.9h1.4v4.7h-1.4zM113.5 90.6h1.4v10.5h-1.4zM113.5 101.1h1.4v10.5h-1.4zM113.5 118.5h1.4v5h-1.4zM119.6 72h1.4v10.2h-1.4zM119.5 82.3h1.4v4.8h-1.4zM119.4 94.4h1.4v7.9h-1.4zM122 50.4h1.4v8.6h-1.4zM123.4 55.5h1.4v5.3h-1.4zM123.3 66.5h1.4v5.5h-1.4zM124.4 112h1.4v5.8h-1.4zM131.4 79h1.4v8.1h-1.4zM131.6 87.1h1.4v8.5h-1.4zM131.4 114.4h1.4v8.4h-1.4zM133 108.8h1.4v5.6h-1.4zM135.2 114.8h1.4v3.8h-1.4zM136.7 50.6h1.4v7.9h-1.4zM138 115.6h1.4v7.9h-1.4zM146.3 48.7h1.4v9.2h-1.4zM146.2 58h1.4v6.9h-1.4zM146.5 83.8h1.4v6.3h-1.4zM146.2 121.1h1.4v2.4h-1.4zM147.7 58.2h1.4v8.9h-1.4zM147.6 78.7h1.4v5.1h-1.4zM147.4 121.6h1.4v1.9h-1.4zM148.9 50.4h1.4v3.7h-1.4zM155.8 50.1h1.4v7.9h-1.4zM156 108.4h1.4v9.2h-1.4zM157 105.7h1.4v9.6h-1.4zM158.5 49.4h1.4v9h-1.4zM158.4 58.4h1.4v4.8h-1.4zM159.9 63.1h1.4v7.9h-1.4zM159.5 81.1h1.4v8.8h-1.4zM161 59.6h1.4v9.6h-1.4zM161.1 121.1h1.4v2.4h-1.4zM162.2 115h1.4v5.9h-1.4zM168.1 59.2h1.4v4.4h-1.4zM167.9 86.9h1.4v4.3h-1.4zM168.1 106.8h1.4v7.2h-1.4zM169.3 50.4h1.4v8.4h-1.4zM170.7 71.9h1.4v6.1h-1.4zM170.5 99.4h1.4v8.1h-1.4zM171.9 83.2h1.4v7.7h-1.4zM173.3 73.2h1.4v9.2h-1.4zM173.3 119h1.4v4.3h-1.4zM180.3 56.4h1.4v6.8h-1.4zM180.2 106.8h1.4v6.5h-1.4zM181.7 65.3h1.4v9.2h-1.4zM182.9 99.6h1.4v4.9h-1.4zM182.6 104.5h1.4v8.8h-1.4zM185.4 68.7h1.4v8.4h-1.4zM185.2 90.9h1.4v4.1h-1.4zM186.5 51.1h1.4v7.3h-1.4zM186.6 84.8h1.4v4.9h-1.4zM186.7 89.7h1.4v7.2h-1.4zM186.8 101.1h1.4v6.8h-1.4zM193.9 67.3h1.4v4.1h-1.4zM193.5 102.8h1.4v6.1h-1.4zM194.9 72.2h1.4v7.9h-1.4zM195 80.1h1.4v7.9h-1.4zM196.3 67.1h1.4v8.2h-1.4zM197.6 76.3h1.4v10.3h-1.4zM197.6 86.6h1.4v9h-1.4zM204.5 103.8h1.4v8.6h-1.4zM206 118.6h1.4v4.9h-1.4zM207.1 86.5h1.4v5.6h-1.4zM207.2 92.1h1.4v7h-1.4zM208.6 50.8h1.4v4.4h-1.4zM208.6 87.4h1.4v7.7h-1.4zM209.5 100.2h1.4v7h-1.4zM211 49.4h1.4v4.8h-1.4zM211.1 61.2h1.4v7.3h-1.4zM211 81.4h1.4v5.3h-1.4zM210.9 86.7h1.4v8.5h-1.4zM216.6 107.2h1.4v9.2h-1.4zM218 58.6h1.4v9.1h-1.4zM218.2 67.6h1.4v6.6h-1.4zM218.1 85.1h1.4v4.9h-1.4zM219.5 49.5h1.4v4.6h-1.4zM219.3 116h1.4v7.5h-1.4zM220.6 104.7h1.4v10.3h-1.4zM223 55.4h1.4v6h-1.4zM223.3 71.5h1.4v7.8h-1.4zM223.3 93.6h1.4v4h-1.4zM223.2 97.7h1.4v5.4h-1.4z"/>
<path fill="#4a7ae0" d="M34 84.2h1.4v6.8h-1.4zM35.3 72h1.4v6.6h-1.4zM36.5 82.6h1.4v3.8h-1.4zM46.2 103.7h1.4v10.1h-1.4zM47.7 69.3h1.4v3.6h-1.4zM47.6 114.5h1.4v6h-1.4zM48.8 68.1h1.4v9.1h-1.4zM51.5 64.5h1.4v5.2h-1.4zM51.5 106.5h1.4v6.9h-1.4zM59.9 71.8h1.4v8.2h-1.4zM59.6 108.8h1.4v8h-1.4zM59.6 116.9h1.4v6.6h-1.4zM63.5 66h1.4v7h-1.4zM70.6 76.9h1.4v4.7h-1.4zM72.1 52.7h1.4v3.9h-1.4zM73.3 49h1.4v8.5h-1.4zM74.6 107.1h1.4v7.8h-1.4zM75.6 83.4h1.4v8h-1.4zM84.2 60.9h1.4v6.5h-1.4zM84.3 102.3h1.4v6.8h-1.4zM84.1 109h1.4v9.2h-1.4zM97.4 49.2h1.4v6.1h-1.4zM101.2 73h1.4v8.2h-1.4zM101.3 90h1.4v7.7h-1.4zM109.6 105.9h1.4v4.7h-1.4zM110.9 66.5h1.4v4.7h-1.4zM110.9 122.2h1.4v1.3h-1.4zM112.2 97.5h1.4v6.6h-1.4zM113.6 59.7h1.4v7.7h-1.4zM119.2 67.6h1.4v4.4h-1.4zM124.3 74.4h1.4v5.7h-1.4zM131.7 105.7h1.4v8.7h-1.4zM132.7 64.8h1.4v7.2h-1.4zM134 57.9h1.4v6h-1.4zM134.1 63.8h1.4v10.1h-1.4zM134.1 74h1.4v8.1h-1.4zM136.8 94.9h1.4v8.4h-1.4zM143.6 61.4h1.4v4.9h-1.4zM143.7 89.3h1.4v6.5h-1.4zM145 81.1h1.4v9h-1.4zM144.9 90.1h1.4v5.7h-1.4zM146.2 64.9h1.4v9.7h-1.4zM147.7 112.1h1.4v9.6h-1.4zM158.4 63.2h1.4v7.1h-1.4zM158.6 92.8h1.4v6h-1.4zM158.5 98.8h1.4v9.1h-1.4zM158.5 107.9h1.4v5.7h-1.4zM167.9 103.2h1.4v3.6h-1.4zM169.3 111.8h1.4v8.7h-1.4zM169.4 120.5h1.4v3h-1.4zM172.1 105.3h1.4v9h-1.4zM181.6 55.3h1.4v10h-1.4zM181.5 74.5h1.4v5.8h-1.4zM183 65.6h1.4v4.9h-1.4zM184 77.4h1.4v7h-1.4zM186.8 119.8h1.4v3.7h-1.4zM195.1 121.3h1.4v2.2h-1.4zM196.1 59.7h1.4v7.5h-1.4zM198.8 64.9h1.4v8.5h-1.4zM198.7 83.1h1.4v8.7h-1.4zM204.8 116.2h1.4v7.3h-1.4zM206.1 72.4h1.4v9.8h-1.4zM207.2 65.8h1.4v10.5h-1.4zM207.1 109.3h1.4v4.3h-1.4zM209.7 80.6h1.4v9.5h-1.4zM210.9 73.8h1.4v7.6h-1.4zM219.2 76.5h1.4v7.5h-1.4zM222.1 58.7h1.4v5.4h-1.4zM221.7 87.8h1.4v10h-1.4z"/>
<path fill="#5cc4a8" d="M34 64.4h1.4v9.4h-1.4zM35.6 67.6h1.4v4.5h-1.4zM36.6 111h1.4v3.7h-1.4zM39.1 94.9h1.4v9.1h-1.4zM40.6 67.5h1.4v4.8h-1.4zM46.2 86.9h1.4v8.7h-1.4zM47.7 50.1h1.4v9.2h-1.4zM47.5 72.8h1.4v3.8h-1.4zM47.5 120.5h1.4v3h-1.4zM48.8 56.3h1.4v4.1h-1.4zM51.2 55.2h1.4v9.3h-1.4zM52.5 50.7h1.4v4.8h-1.4zM52.5 79.8h1.4v7.6h-1.4zM58.6 58.3h1.4v5.1h-1.4zM58.4 71.7h1.4v5.2h-1.4zM58.6 81.7h1.4v9.8h-1.4zM59.8 50.1h1.4v4.3h-1.4zM62.3 64.2h1.4v6.3h-1.4zM62.2 70.5h1.4v7.5h-1.4zM64.7 114.3h1.4v4.9h-1.4zM71.7 48.6h1.4v4.1h-1.4zM74.5 60.7h1.4v10.3h-1.4zM74.6 100.3h1.4v6.8h-1.4zM75.7 54.1h1.4v9.2h-1.4zM84.2 48.8h1.4v5.7h-1.4zM83.9 54.5h1.4v6.4h-1.4zM84 118.2h1.4v5.3h-1.4zM86.6 49.1h1.4v9.9h-1.4zM86.5 90h1.4v5.1h-1.4zM88 70.8h1.4v4.7h-1.4zM87.8 113.9h1.4v9.6h-1.4zM89.2 78.1h1.4v9.3h-1.4zM89 107.7h1.4v5.4h-1.4zM97.7 94.1h1.4v5.5h-1.4zM97.5 113.2h1.4v4.8h-1.4zM100 50.5h1.4v7.2h-1.4zM100.2 90.1h1.4v5.7h-1.4zM99.9 105.2h1.4v5h-1.4zM101.3 49.7h1.4v4.7h-1.4zM107.3 51.5h1.4v6.9h-1.4zM107 82h1.4v9.3h-1.4zM108.4 73.8h1.4v6.3h-1.4zM108.5 87.6h1.4v6.9h-1.4zM109.8 49.3h1.4v10.2h-1.4zM109.6 59.5h1.4v7.1h-1.4zM109.7 86.8h1.4v8.8h-1.4zM111 49.8h1.4v9.1h-1.4zM110.9 93.2h1.4v9.9h-1.4zM112.3 66.6h1.4v7.8h-1.4zM112.2 109.2h1.4v5.9h-1.4zM113.6 52.3h1.4v7.5h-1.4zM113.7 111.6h1.4v6.9h-1.4zM120.6 54.2h1.4v6.8h-1.4zM120.6 69.1h1.4v6.8h-1.4zM120.7 75.9h1.4v3.9h-1.4zM120.5 79.8h1.4v7.8h-1.4zM120.6 87.6h1.4v4.2h-1.4zM120.5 111.6h1.4v8.6h-1.4zM120.7 120.2h1.4v3.3h-1.4zM121.9 65.9h1.4v6.5h-1.4zM122 119.9h1.4v3.6h-1.4zM123.4 71.9h1.4v5.2h-1.4zM123.2 82.3h1.4v5.6h-1.4zM123 109.7h1.4v5.3h-1.4zM124.4 54.5h1.4v9.8h-1.4zM124.6 64.3h1.4v10.1h-1.4zM125.9 92.7h1.4v8.5h-1.4zM125.5 105.5h1.4v9.1h-1.4zM131.6 95.6h1.4v10.1h-1.4zM132.9 50.1h1.4v10.3h-1.4zM132.7 80.6h1.4v5.5h-1.4zM133.9 51.4h1.4v6.5h-1.4zM134.2 89.1h1.4v9.3h-1.4zM133.9 110.9h1.4v4.9h-1.4zM136.8 63.7h1.4v5.5h-1.4zM143.6 101.4h1.4v8.8h-1.4zM145.2 95.8h1.4v7.2h-1.4zM146.4 90.1h1.4v4h-1.4zM147.4 49.2h1.4v9.1h-1.4zM147.6 102h1.4v4.6h-1.4zM148.8 78.5h1.4v4.1h-1.4zM148.8 118.8h1.4v4.3h-1.4zM150.2 54.9h1.4v10.3h-1.4zM149.9 91h1.4v4h-1.4zM156 58h1.4v8.3h-1.4zM158.5 83.9h1.4v4.2h-1.4zM160.9 53.7h1.4v5.9h-1.4zM161.1 77.1h1.4v6.3h-1.4zM160.9 93.2h1.4v9.9h-1.4zM162.4 120.9h1.4v2.6h-1.4zM168.1 49.4h1.4v9.8h-1.4zM168.3 79.4h1.4v7.5h-1.4zM169.5 64.9h1.4v8.1h-1.4zM169.2 73h1.4v6h-1.4zM169.5 79h1.4v4.4h-1.4zM169.3 105.8h1.4v5.9h-1.4zM170.5 88.8h1.4v4.1h-1.4zM172 59.6h1.4v4.8h-1.4zM171.8 64.4h1.4v5.9h-1.4zM171.9 77.5h1.4v5.8h-1.4zM173 82.4h1.4v7.9h-1.4zM173.3 115.3h1.4v3.7h-1.4zM174.5 85.3h1.4v8.9h-1.4zM174.3 94.3h1.4v10.1h-1.4zM180.5 71.6h1.4v4.1h-1.4zM180.3 113.4h1.4v3.6h-1.4zM180.1 116.9h1.4v5.4h-1.4zM181.4 51.3h1.4v4h-1.4zM182.9 113.3h1.4v5.7h-1.4zM185.4 58.7h1.4v3.6h-1.4zM192.5 69.3h1.4v9.7h-1.4zM192.5 79.1h1.4v8.4h-1.4zM192.5 87.4h1.4v7.9h-1.4zM195.1 95.6h1.4v9.4h-1.4zM196.4 82h1.4v10.4h-1.4zM196.2 99.2h1.4v9.5h-1.4zM196.2 108.7h1.4v5.6h-1.4zM197.6 57.9h1.4v6.3h-1.4zM197.3 95.5h1.4v4.8h-1.4zM198.8 59.6h1.4v5.3h-1.4zM199 118.2h1.4v5.3h-1.4zM205.9 51h1.4v5.6h-1.4zM205.8 110.3h1.4v8.3h-1.4zM207.1 79.9h1.4v6.6h-1.4zM208.4 114.8h1.4v5.3h-1.4zM209.7 94.8h1.4v5.4h-1.4zM209.6 113.3h1.4v3.6h-1.4zM209.9 116.9h1.4v6.6h-1.4zM210.8 68.5h1.4v5.2h-1.4zM216.7 49h1.4v4.4h-1.4zM218.2 89.9h1.4v5.1h-1.4zM217.9 103.7h1.4v8.8h-1.4zM219.4 54.1h1.4v9.2h-1.4zM219.4 84h1.4v3.8h-1.4zM219.3 98.1h1.4v8.5h-1.4zM220.8 79.7h1.4v6.1h-1.4zM220.7 85.8h1.4v6.1h-1.4z"/>
<path fill="#6a98dc" d="M34.3 73.8h1.4v10.5h-1.4zM34 107.7h1.4v8.8h-1.4zM35.5 85.6h1.4v7.6h-1.4zM36.9 95h1.4v10.4h-1.4zM37.9 62.9h1.4v8h-1.4zM39.1 56.9h1.4v6.7h-1.4zM46.2 55.6h1.4v4h-1.4zM46.1 77.1h1.4v9.8h-1.4zM46.3 95.6h1.4v8.1h-1.4zM48.9 77.2h1.4v6.1h-1.4zM48.9 89.7h1.4v5.2h-1.4zM49.9 60.2h1.4v8.6h-1.4zM50.2 102.6h1.4v10.2h-1.4zM51.3 117.9h1.4v5.6h-1.4zM52.6 87.4h1.4v3.7h-1.4zM52.6 104.7h1.4v6.9h-1.4zM58.4 115h1.4v6.6h-1.4zM59.6 85.4h1.4v8.2h-1.4zM59.6 100.6h1.4v8.2h-1.4zM61.1 55.8h1.4v7.7h-1.4zM60.9 86.8h1.4v3.8h-1.4zM61.1 99.5h1.4v6.3h-1.4zM62.1 55.5h1.4v8.7h-1.4zM62.3 96.7h1.4v7.4h-1.4zM62.3 114.4h1.4v9.1h-1.4zM63.5 54.2h1.4v6.9h-1.4zM63.4 61.1h1.4v4.9h-1.4zM63.7 88.8h1.4v4h-1.4zM64.8 59.1h1.4v8.4h-1.4zM64.9 94.2h1.4v6.1h-1.4zM70.5 48.8h1.4v4.7h-1.4zM70.5 112.6h1.4v10.3h-1.4zM72.1 104.5h1.4v9.3h-1.4zM71.8 119.9h1.4v3.6h-1.4zM73.1 57.6h1.4v6.2h-1.4zM74.3 77.4h1.4v9h-1.4zM75.6 70.1h1.4v5.9h-1.4zM75.7 118.1h1.4v5.4h-1.4zM77 84.8h1.4v5.6h-1.4zM82.8 54.2h1.4v7.2h-1.4zM82.9 85.8h1.4v4.4h-1.4zM85.3 50.6h1.4v10.4h-1.4zM85.3 73.6h1.4v5.7h-1.4zM85.3 96.6h1.4v7.3h-1.4zM86.5 115.7h1.4v5.4h-1.4zM89.2 61.9h1.4v9h-1.4zM95 78.3h1.4v5.8h-1.4zM96.4 93.2h1.4v5h-1.4zM96.1 117h1.4v6.5h-1.4zM97.7 59.3h1.4v3.7h-1.4zM97.7 87.9h1.4v6.1h-1.4zM98.8 74.1h1.4v3.6h-1.4zM99 87.5h1.4v6.4h-1.4zM98.7 106.8h1.4v7.2h-1.4zM101.3 101.6h1.4v6.9h-1.4zM107.3 64.2h1.4v4.3h-1.4zM107.3 68.5h1.4v6.8h-1.4zM107.2 75.3h1.4v6.6h-1.4zM107.1 91.2h1.4v8.8h-1.4zM108.5 50.7h1.4v6h-1.4zM108.4 121.1h1.4v2.4h-1.4zM109.8 117.6h1.4v5.9h-1.4zM111.2 71.2h1.4v8.8h-1.4zM111.1 89.4h1.4v3.8h-1.4zM112.2 119.2h1.4v4.3h-1.4zM124.3 89.9h1.4v8.1h-1.4zM124.3 98h1.4v4.4h-1.4zM125.6 56.3h1.4v8.9h-1.4zM125.9 69.8h1.4v6.2h-1.4zM125.7 82.1h1.4v3.6h-1.4zM132.8 114.4h1.4v8.6h-1.4zM134.1 82.1h1.4v7h-1.4zM133.9 115.8h1.4v7.4h-1.4zM135.2 70.6h1.4v6.6h-1.4zM135.4 86.2h1.4v7.9h-1.4zM135.3 94.1h1.4v9.5h-1.4zM135.3 103.6h1.4v4h-1.4zM135.3 118.6h1.4v4.9h-1.4zM136.5 69.2h1.4v9.2h-1.4zM137.8 90.4h1.4v8h-1.4zM138.1 98.5h1.4v7.5h-1.4zM138 106h1.4v9.7h-1.4zM143.9 66.4h1.4v8.8h-1.4zM145.1 103h1.4v9.1h-1.4zM144.9 112.1h1.4v6.2h-1.4zM146.4 94.1h1.4v4.3h-1.4zM146.3 106.1h1.4v9.3h-1.4zM150 116.8h1.4v4.6h-1.4zM155.9 93.2h1.4v7.1h-1.4zM157.3 115.2h1.4v6.2h-1.4zM158.6 113.5h1.4v7.6h-1.4zM159.5 53.9h1.4v9.2h-1.4zM161 69.2h1.4v7.9h-1.4zM160.9 83.4h1.4v9.8h-1.4zM162.2 79h1.4v8.3h-1.4zM162.3 104.7h1.4v10.3h-1.4zM168 63.6h1.4v6.1h-1.4zM169.3 58.8h1.4v6.1h-1.4zM169.3 100h1.4v5.8h-1.4zM170.6 112.4h1.4v3.7h-1.4zM171.9 55.7h1.4v3.9h-1.4zM173.1 49.1h1.4v7.3h-1.4zM174.5 49.6h1.4v7.2h-1.4zM180.3 122.4h1.4v1.1h-1.4zM181.7 98.9h1.4v6.1h-1.4zM182.8 52.7h1.4v8.6h-1.4zM183 61.2h1.4v4.3h-1.4zM182.8 119h1.4v4.5h-1.4zM184.2 84.3h1.4v4h-1.4zM184.1 108h1.4v9.1h-1.4zM185.5 85.6h1.4v5.3h-1.4zM186.4 78h1.4v6.8h-1.4zM192.5 103.2h1.4v4.7h-1.4zM192.3 114.9h1.4v7.1h-1.4zM193.7 88.2h1.4v9.9h-1.4zM195 50.9h1.4v5.6h-1.4zM195 105h1.4v8.8h-1.4zM196.1 92.4h1.4v6.8h-1.4zM196.2 114.3h1.4v5.5h-1.4zM198.8 105.3h1.4v4h-1.4zM204.6 97.4h1.4v6.4h-1.4zM205.7 56.5h1.4v5.1h-1.4zM205.8 82.2h1.4v7.2h-1.4zM207.2 50.5h1.4v4.6h-1.4zM207.3 113.5h1.4v10h-1.4zM209.5 73.2h1.4v7.5h-1.4zM209.8 90.1h1.4v4.7h-1.4zM216.8 53.4h1.4v9.7h-1.4zM216.8 63.1h1.4v6.1h-1.4zM216.7 91.9h1.4v6h-1.4zM219.2 68.2h1.4v8.4h-1.4zM219.4 106.6h1.4v9.4h-1.4zM222 48.9h1.4v9.8h-1.4zM221.8 97.8h1.4v4.5h-1.4zM223.1 50.2h1.4v5.3h-1.4zM223 122.3h1.4v1.2h-1.4z"/>
<path fill="#8cc49c" d="M35.5 93.2h1.4v8.3h-1.4zM40.3 110.7h1.4v10.2h-1.4zM46.5 68.7h1.4v8.4h-1.4zM48.8 98.9h1.4v9.7h-1.4zM72.1 61.5h1.4v9.1h-1.4zM74.3 95.4h1.4v4.9h-1.4zM75.8 103.9h1.4v4.7h-1.4zM84.3 94.3h1.4v8h-1.4zM85.2 103.9h1.4v8.5h-1.4zM87.8 51.4h1.4v4.5h-1.4zM87.7 103.1h1.4v6h-1.4zM88.1 109h1.4v4.8h-1.4zM95.2 89.8h1.4v10.4h-1.4zM97.5 70.3h1.4v9.4h-1.4zM100 100.8h1.4v4.3h-1.4zM113.6 78.5h1.4v4.2h-1.4zM122 80.4h1.4v4.9h-1.4zM121.8 93.8h1.4v8.9h-1.4zM121.9 110.4h1.4v9.5h-1.4zM123.1 77.2h1.4v5.1h-1.4zM123.3 114.9h1.4v8.6h-1.4zM131.4 70.8h1.4v4.1h-1.4zM147.7 67.1h1.4v6.7h-1.4zM148.7 87h1.4v8.7h-1.4zM149.9 50.7h1.4v4.1h-1.4zM156 100.3h1.4v8.1h-1.4zM155.7 117.6h1.4v5.9h-1.4zM159.9 71h1.4v5.6h-1.4zM170.8 92.9h1.4v6.5h-1.4zM174.3 114.4h1.4v8.9h-1.4zM180.4 75.8h1.4v8.7h-1.4zM183 78.5h1.4v8.6h-1.4zM185.4 62.2h1.4v6.5h-1.4zM185.5 77.1h1.4v8.5h-1.4zM192.3 107.9h1.4v6.9h-1.4zM196.4 119.8h1.4v3.7h-1.4zM197.6 114.9h1.4v8.6h-1.4zM205.9 93.3h1.4v4.1h-1.4zM206 97.4h1.4v7.6h-1.4zM218 112.6h1.4v8.8h-1.4z"/>
<path fill="#90a8b8" d="M35.5 111.9h1.4v9.5h-1.4zM36.5 58.5h1.4v9.5h-1.4zM38.1 51.1h1.4v5.7h-1.4zM37.9 71h1.4v7.8h-1.4zM37.9 85.3h1.4v5.6h-1.4zM39.1 48.7h1.4v8.2h-1.4zM40.4 101.1h1.4v9.7h-1.4zM51.3 82h1.4v7h-1.4zM52.6 63.1h1.4v8.3h-1.4zM58.5 49.7h1.4v8.6h-1.4zM58.6 63.4h1.4v8.2h-1.4zM58.4 121.6h1.4v1.9h-1.4zM59.7 58.8h1.4v4.2h-1.4zM62.2 87h1.4v9.7h-1.4zM63.7 73h1.4v7.5h-1.4zM71.9 56.6h1.4v4.9h-1.4zM75.7 91.4h1.4v6h-1.4zM75.8 108.5h1.4v9.6h-1.4zM77 51.3h1.4v9.8h-1.4zM77.1 119.6h1.4v3.9h-1.4zM82.7 103.8h1.4v9h-1.4zM85.2 67h1.4v6.7h-1.4zM85.4 120.6h1.4v2.9h-1.4zM86.6 68.3h1.4v10.1h-1.4zM86.5 84.7h1.4v5.3h-1.4zM86.5 110.2h1.4v5.5h-1.4zM87.8 92.4h1.4v6.2h-1.4zM96.2 87h1.4v6.2h-1.4zM98.6 65.4h1.4v8.8h-1.4zM101.3 118.3h1.4v5.2h-1.4zM108.3 115.4h1.4v5.7h-1.4zM112.1 82.6h1.4v5.8h-1.4zM119.2 102.3h1.4v7.1h-1.4zM121.8 85.3h1.4v8.5h-1.4zM121.8 102.7h1.4v7.7h-1.4zM125.5 121.9h1.4v1.6h-1.4zM135.3 49h1.4v4.9h-1.4zM136.5 58.6h1.4v5.1h-1.4zM143.9 95.9h1.4v5.5h-1.4zM144.9 57.2h1.4v8.8h-1.4zM145.1 66h1.4v7.5h-1.4zM148.8 82.6h1.4v4.3h-1.4zM148.7 95.7h1.4v9.7h-1.4zM150.1 65.1h1.4v9.2h-1.4zM150 87h1.4v3.9h-1.4zM155.9 76.6h1.4v7.8h-1.4zM157.2 67h1.4v7.4h-1.4zM157.2 91.2h1.4v4.1h-1.4zM158.4 80.3h1.4v3.5h-1.4zM159.6 48.6h1.4v5.3h-1.4zM159.7 100h1.4v6.4h-1.4zM160.8 110.9h1.4v4.3h-1.4zM161.1 115.2h1.4v5.9h-1.4zM162.4 62.9h1.4v6.6h-1.4zM172.1 90.9h1.4v5.7h-1.4zM174.3 104.4h1.4v10h-1.4zM180.4 88.9h1.4v9.5h-1.4zM181.6 113h1.4v9.6h-1.4zM184 88.3h1.4v4.2h-1.4zM185.4 49.4h1.4v9.3h-1.4zM192.4 95.3h1.4v7.9h-1.4zM193.6 50.8h1.4v10.4h-1.4zM193.6 61.2h1.4v6.1h-1.4zM193.8 78.5h1.4v9.7h-1.4zM197.4 105.8h1.4v9.1h-1.4zM205.8 89.4h1.4v3.9h-1.4zM209.9 66.5h1.4v6.7h-1.4zM211 114.3h1.4v5.7h-1.4zM211.1 120.1h1.4v3.4h-1.4zM220.6 64.4h1.4v9h-1.4zM220.6 114.9h1.4v7.1h-1.4zM221.8 64.2h1.4v5.1h-1.4zM221.9 69.3h1.4v8.5h-1.4z"/>
<path fill="#a49cac" d="M33.9 99h1.4v8.7h-1.4zM35.3 101.5h1.4v10.4h-1.4zM35.3 121.5h1.4v2h-1.4zM37.8 78.8h1.4v6.5h-1.4zM37.9 113.7h1.4v6.8h-1.4zM37.7 120.5h1.4v3h-1.4zM39 104h1.4v6.5h-1.4zM48.8 48.9h1.4v7.4h-1.4zM48.8 83.3h1.4v6.4h-1.4zM50.2 93.2h1.4v9.4h-1.4zM51.4 97.7h1.4v8.8h-1.4zM52.8 120.9h1.4v2.6h-1.4zM58.6 76.9h1.4v4.8h-1.4zM59.7 62.9h1.4v8.9h-1.4zM59.9 80.1h1.4v5.4h-1.4zM61.1 70.2h1.4v4h-1.4zM61 74.2h1.4v7.3h-1.4zM60.9 117.2h1.4v6.3h-1.4zM62.4 49.1h1.4v6.4h-1.4zM62.2 104.1h1.4v10.3h-1.4zM63.6 103h1.4v10h-1.4zM64.8 84.4h1.4v9.8h-1.4zM72.1 93.9h1.4v5.8h-1.4zM72 99.8h1.4v4.7h-1.4zM73 72.2h1.4v8.8h-1.4zM73.1 95.9h1.4v9.8h-1.4zM75.6 63.3h1.4v6.7h-1.4zM75.7 76h1.4v7.4h-1.4zM76.9 90.4h1.4v3.8h-1.4zM84.2 77.3h1.4v4.4h-1.4zM86.8 95.1h1.4v7.2h-1.4zM88 55.9h1.4v10.4h-1.4zM89.1 51.4h1.4v6.9h-1.4zM95 52.4h1.4v10.4h-1.4zM97.7 63h1.4v7.2h-1.4zM101.2 67.8h1.4v5.2h-1.4zM101.2 108.5h1.4v9.8h-1.4zM107.2 58.4h1.4v5.9h-1.4zM108.5 56.7h1.4v5.2h-1.4zM108.3 68.1h1.4v5.7h-1.4zM110.9 80h1.4v9.4h-1.4zM111 103.2h1.4v10.4h-1.4zM119.3 57h1.4v3.8h-1.4zM119.6 109.4h1.4v4h-1.4zM119.4 113.3h1.4v6.5h-1.4zM120.5 48.6h1.4v5.6h-1.4zM120.8 61h1.4v8.1h-1.4zM120.6 103h1.4v8.6h-1.4zM122.1 72.4h1.4v8h-1.4zM131.5 49.6h1.4v4.2h-1.4zM132.8 95.8h1.4v7.1h-1.4zM135.2 61.4h1.4v9.2h-1.4zM136.4 78.4h1.4v6.5h-1.4zM136.8 122.1h1.4v1.4h-1.4zM137.8 62.2h1.4v10h-1.4zM138 72.2h1.4v7.1h-1.4zM143.7 51h1.4v10.4h-1.4zM143.7 118.8h1.4v4.7h-1.4zM150.3 94.9h1.4v5.5h-1.4zM155.8 84.4h1.4v8.8h-1.4zM157.3 83.5h1.4v7.7h-1.4zM157.2 121.4h1.4v2.1h-1.4zM158.6 121.1h1.4v2.4h-1.4zM162.1 69.5h1.4v9.5h-1.4zM170.6 58h1.4v10.2h-1.4zM171.8 96.6h1.4v4.4h-1.4zM172 114.3h1.4v7.4h-1.4zM173 66h1.4v7.2h-1.4zM173.2 102.1h1.4v6.6h-1.4zM174.4 72h1.4v5.6h-1.4zM181.5 89.1h1.4v5.2h-1.4zM183 48.6h1.4v4.1h-1.4zM182.9 87.2h1.4v6.3h-1.4zM182.8 93.5h1.4v6.1h-1.4zM184.1 67.2h1.4v10.2h-1.4zM186.7 68.4h1.4v9.6h-1.4zM192.3 64h1.4v5.4h-1.4zM195.1 113.8h1.4v7.5h-1.4zM196.4 75.3h1.4v6.7h-1.4zM197.6 49.6h1.4v8.3h-1.4zM198.8 54.2h1.4v5.3h-1.4zM198.8 73.3h1.4v9.8h-1.4zM204.8 56.5h1.4v9.9h-1.4zM205.8 61.6h1.4v6.2h-1.4zM205.8 67.9h1.4v4.5h-1.4zM207.1 59.2h1.4v6.7h-1.4zM207.4 99.1h1.4v10.1h-1.4zM208.6 68.2h1.4v6.1h-1.4zM208.6 74.3h1.4v3.6h-1.4zM209.7 107.2h1.4v6.1h-1.4zM210.8 95.2h1.4v8.8h-1.4zM211.1 103.9h1.4v10.4h-1.4zM219.3 63.3h1.4v4.8h-1.4zM220.5 50.1h1.4v7.5h-1.4zM223.1 79.3h1.4v7.8h-1.4z"/>
<path fill="#c49c8a" d="M34.2 49.2h1.4v7.3h-1.4zM35.3 78.6h1.4v7.1h-1.4zM36.5 51h1.4v7.5h-1.4zM36.5 68h1.4v9.1h-1.4zM36.8 86.5h1.4v8.5h-1.4zM39.1 63.6h1.4v6h-1.4zM39.1 69.7h1.4v7.7h-1.4zM39.1 86.2h1.4v8.6h-1.4zM39.3 110.6h1.4v5.8h-1.4zM40.6 80.3h1.4v4.4h-1.4zM40.4 84.7h1.4v5.4h-1.4zM40.6 90.1h1.4v6.4h-1.4zM46.2 50.1h1.4v5.5h-1.4zM46.2 119.1h1.4v4.4h-1.4zM47.5 107.5h1.4v7h-1.4zM51.4 51.3h1.4v3.9h-1.4zM51.3 69.8h1.4v6.3h-1.4zM51.2 76h1.4v6h-1.4zM52.5 55.5h1.4v7.6h-1.4zM52.8 71.4h1.4v8.4h-1.4zM52.6 91.1h1.4v4.7h-1.4zM58.5 101.3h1.4v5.5h-1.4zM59.8 93.6h1.4v7h-1.4zM61.1 51.3h1.4v4.5h-1.4zM60.9 63.5h1.4v6.7h-1.4zM61.2 81.5h1.4v5.4h-1.4zM60.9 90.6h1.4v8.9h-1.4zM63.4 84.9h1.4v3.9h-1.4zM64.8 67.5h1.4v8h-1.4zM64.7 75.6h1.4v8.8h-1.4zM70.6 91.3h1.4v10h-1.4zM72 70.6h1.4v3.7h-1.4zM71.8 113.9h1.4v6h-1.4zM74.5 114.9h1.4v8.6h-1.4zM77.2 61.2h1.4v8.9h-1.4zM77.2 70.1h1.4v9.9h-1.4zM77.1 94.2h1.4v6.5h-1.4zM76.8 100.7h1.4v8.7h-1.4zM76.8 109.4h1.4v5.6h-1.4zM82.8 49.6h1.4v4.6h-1.4zM82.8 61.4h1.4v9.5h-1.4zM85.4 112.4h1.4v8.2h-1.4zM86.5 59h1.4v9.3h-1.4zM86.5 78.5h1.4v6.2h-1.4zM87.7 85.2h1.4v7.2h-1.4zM89.3 58.2h1.4v3.6h-1.4zM89.3 113.1h1.4v10.3h-1.4zM95.1 84.1h1.4v5.7h-1.4zM95.2 100.2h1.4v9.3h-1.4zM95.1 114.9h1.4v8.6h-1.4zM96.3 104.7h1.4v6h-1.4zM96.3 110.7h1.4v6.3h-1.4zM97.5 55.3h1.4v4.1h-1.4zM98.7 93.9h1.4v4.9h-1.4zM99 119.1h1.4v4.4h-1.4zM100.2 67.5h1.4v7.8h-1.4zM100.2 110.1h1.4v7h-1.4zM101.2 54.4h1.4v8.4h-1.4zM101.4 81.2h1.4v8.8h-1.4zM109.8 95.6h1.4v10.3h-1.4zM109.9 110.5h1.4v7.1h-1.4zM110.8 58.9h1.4v7.6h-1.4zM112.3 74.3h1.4v3.5h-1.4zM112.4 88.4h1.4v9.1h-1.4zM112.3 115.1h1.4v4.2h-1.4zM113.4 48.6h1.4v3.7h-1.4zM119.3 60.8h1.4v6.8h-1.4zM121.9 59h1.4v6.8h-1.4zM123.4 60.8h1.4v5.7h-1.4zM123.2 87.9h1.4v7.4h-1.4zM124.4 80.1h1.4v9.8h-1.4zM124.3 102.4h1.4v9.6h-1.4zM124.4 117.8h1.4v5.7h-1.4zM125.7 76h1.4v6.1h-1.4zM135.4 53.9h1.4v7.5h-1.4zM135.3 77.2h1.4v9h-1.4zM135.2 107.5h1.4v7.3h-1.4zM136.5 103.2h1.4v5.4h-1.4zM136.8 113.4h1.4v8.7h-1.4zM137.9 48.6h1.4v5.4h-1.4zM137.9 79.2h1.4v6.1h-1.4zM143.9 75.2h1.4v6h-1.4zM143.8 81.2h1.4v8.1h-1.4zM146.4 74.6h1.4v9.2h-1.4zM146.4 98.4h1.4v7.6h-1.4zM146.5 115.3h1.4v5.8h-1.4zM147.7 83.8h1.4v7.4h-1.4zM148.8 109.7h1.4v9.1h-1.4zM150.2 74.4h1.4v8.4h-1.4zM150 108.3h1.4v8.5h-1.4zM150.1 121.4h1.4v2.1h-1.4zM156.1 66.4h1.4v10.3h-1.4zM157.3 49h1.4v10.3h-1.4zM157.2 59.3h1.4v7.6h-1.4zM157.3 74.4h1.4v9h-1.4zM158.5 88.1h1.4v4.7h-1.4zM159.6 76.6h1.4v4.5h-1.4zM162.4 57.1h1.4v5.8h-1.4zM162.1 87.3h1.4v7.5h-1.4zM162.1 94.8h1.4v9.9h-1.4zM168.3 69.6h1.4v5.7h-1.4zM168.2 75.3h1.4v4.1h-1.4zM170.7 107.5h1.4v4.9h-1.4zM171.8 70.3h1.4v7.1h-1.4zM173.2 108.7h1.4v6.6h-1.4zM174.5 62.6h1.4v9.4h-1.4zM174.6 77.6h1.4v7.7h-1.4zM180.1 63.2h1.4v8.4h-1.4zM180.5 84.5h1.4v4.4h-1.4zM181.5 80.4h1.4v8.7h-1.4zM181.6 94.3h1.4v4.6h-1.4zM182.7 70.5h1.4v8.1h-1.4zM184 59h1.4v8.2h-1.4zM185.4 95h1.4v8.6h-1.4zM186.6 58.4h1.4v10h-1.4zM186.4 96.9h1.4v4.2h-1.4zM192.3 54.5h1.4v9.5h-1.4zM193.6 98.1h1.4v4.8h-1.4zM194.8 56.5h1.4v9.4h-1.4zM195.1 88h1.4v7.6h-1.4zM196.3 49.9h1.4v9.8h-1.4zM197.6 64.2h1.4v8.1h-1.4zM198.9 91.8h1.4v4.7h-1.4zM198.8 96.5h1.4v8.8h-1.4zM204.5 51.5h1.4v5.1h-1.4zM204.7 66.4h1.4v9.1h-1.4zM204.6 75.5h1.4v6h-1.4zM204.7 81.5h1.4v8.4h-1.4zM204.8 112.5h1.4v3.8h-1.4zM206 105h1.4v5.3h-1.4zM207 76.3h1.4v3.6h-1.4zM208.3 95.2h1.4v8.1h-1.4zM208.6 103.3h1.4v4.8h-1.4zM208.4 120.1h1.4v3.4h-1.4zM217 69.2h1.4v8.6h-1.4zM216.8 97.9h1.4v9.3h-1.4zM218.1 79.7h1.4v5.4h-1.4zM217.9 95h1.4v8.7h-1.4zM220.6 73.4h1.4v6.4h-1.4zM220.6 91.9h1.4v3.5h-1.4zM220.4 95.4h1.4v9.2h-1.4zM220.6 122h1.4v1.5h-1.4zM221.9 77.8h1.4v10h-1.4zM221.8 106.2h1.4v9.8h-1.4z"/>
<path fill="#cca074" d="M34.1 91.1h1.4v7.9h-1.4zM34.1 116.5h1.4v3.7h-1.4zM34.2 120.2h1.4v3.3h-1.4zM35.2 57.5h1.4v10h-1.4zM39.1 116.3h1.4v6.6h-1.4zM40.4 49.5h1.4v8.1h-1.4zM46.3 113.8h1.4v5.3h-1.4zM47.4 97.2h1.4v10.3h-1.4zM50 85.4h1.4v4.2h-1.4zM59.9 54.5h1.4v4.3h-1.4zM63.6 92.8h1.4v5.8h-1.4zM63.6 98.6h1.4v4.4h-1.4zM73.2 86.2h1.4v9.6h-1.4zM95.1 48.8h1.4v3.6h-1.4zM96.5 59.6h1.4v7.2h-1.4zM96.4 98.2h1.4v6.5h-1.4zM100.2 75.3h1.4v9.9h-1.4zM107.2 100.1h1.4v9.7h-1.4zM108.5 99.2h1.4v10h-1.4zM112.1 48.9h1.4v7.9h-1.4zM119.5 48.5h1.4v8.5h-1.4zM120.7 91.8h1.4v5.3h-1.4zM125.6 101.2h1.4v4.3h-1.4zM131.6 62.6h1.4v8.2h-1.4zM138 54h1.4v8.2h-1.4zM137.7 85.3h1.4v5.1h-1.4zM144.8 73.5h1.4v7.6h-1.4zM147.5 96.1h1.4v6h-1.4zM147.4 106.6h1.4v5.4h-1.4zM148.9 54.1h1.4v9.6h-1.4zM148.9 63.7h1.4v7.4h-1.4zM150.1 82.8h1.4v4.3h-1.4zM150.2 100.4h1.4v7.9h-1.4zM159.6 89.9h1.4v4.3h-1.4zM159.6 106.3h1.4v6.8h-1.4zM161 49.5h1.4v4.2h-1.4zM168 91.2h1.4v6.6h-1.4zM172.1 101h1.4v4.3h-1.4zM171.8 121.7h1.4v1.8h-1.4zM173.1 97.9h1.4v4.2h-1.4zM184.3 103h1.4v5h-1.4zM194.9 65.9h1.4v6.3h-1.4zM198.6 109.3h1.4v8.9h-1.4zM208.4 77.8h1.4v9.6h-1.4zM208.3 108h1.4v6.8h-1.4zM209.8 50.5h1.4v6.6h-1.4zM216.9 77.8h1.4v9.4h-1.4zM218.3 49.7h1.4v8.9h-1.4zM218.1 121.3h1.4v2.2h-1.4zM223 112.7h1.4v9.6h-1.4z"/>
<path fill="#d89450" d="M37.9 56.8h1.4v6.1h-1.4zM47.6 76.7h1.4v7.2h-1.4zM48.8 94.9h1.4v4h-1.4zM58.6 91.5h1.4v5.7h-1.4zM63.6 118.9h1.4v4.6h-1.4zM70.6 53.5h1.4v3.7h-1.4zM83 94.9h1.4v8.9h-1.4zM85.5 61h1.4v6h-1.4zM89.2 70.9h1.4v7.3h-1.4zM96.3 49.3h1.4v10.3h-1.4zM96.3 66.8h1.4v7.2h-1.4zM96.4 74h1.4v4h-1.4zM97.6 118h1.4v5.5h-1.4zM99 114h1.4v5.1h-1.4zM101.4 62.8h1.4v5h-1.4zM112.5 60.3h1.4v6.2h-1.4zM112.4 104.1h1.4v5.1h-1.4zM113.5 67.5h1.4v7.2h-1.4zM113.4 82.7h1.4v7.9h-1.4zM119.4 119.8h1.4v3.7h-1.4zM120.5 97.1h1.4v5.9h-1.4zM123.4 49.8h1.4v5.7h-1.4zM124.3 50.2h1.4v4.3h-1.4zM125.7 85.7h1.4v7h-1.4zM132.8 86h1.4v9.8h-1.4zM134.2 104h1.4v6.9h-1.4zM145.1 49.6h1.4v7.6h-1.4zM147.4 91.2h1.4v4.9h-1.4zM148.6 71.1h1.4v7.4h-1.4zM157 95.2h1.4v5.3h-1.4zM159.7 94.2h1.4v5.8h-1.4zM162.4 53.3h1.4v3.8h-1.4zM168 114h1.4v9.5h-1.4zM169.6 83.4h1.4v6.4h-1.4zM170.6 48.6h1.4v9.4h-1.4zM170.6 68.2h1.4v3.7h-1.4zM172 50.3h1.4v5.4h-1.4zM173.2 90.2h1.4v7.7h-1.4zM184.1 49.5h1.4v9.5h-1.4zM192.6 50.6h1.4v3.9h-1.4zM192.4 121.9h1.4v1.6h-1.4zM193.6 71.5h1.4v7h-1.4zM193.7 118.7h1.4v4.8h-1.4zM198.7 49.5h1.4v4.7h-1.4zM207.3 55h1.4v4.1h-1.4zM208.2 55.3h1.4v9.2h-1.4zM209.7 57.2h1.4v9.3h-1.4zM217 87.2h1.4v4.7h-1.4zM216.7 116.4h1.4v6.5h-1.4zM219.5 87.8h1.4v10.3h-1.4zM220.5 57.5h1.4v6.8h-1.4zM223.3 103.1h1.4v4.4h-1.4zM223.3 107.5h1.4v5.1h-1.4z"/>
</g>
</g>
</g>
<rect x="34" y="4.6" width="192.3" height="163.2" fill="none" stroke="#1c1060" stroke-opacity="0.55" stroke-width="0.5"/>
<text x="30.2" y="39.75" font-size="9" text-anchor="end" fill="#262626">100</text>
<text x="30.2" y="71.7" font-size="9" text-anchor="end" fill="#262626">200</text>
<text x="30.2" y="103.65" font-size="9" text-anchor="end" fill="#262626">300</text>
<text x="30.2" y="135.6" font-size="9" text-anchor="end" fill="#262626">400</text>
<text x="30.2" y="167.55" font-size="9" text-anchor="end" fill="#262626">500</text>
<text x="60.72" y="180.9" font-size="9" text-anchor="middle" fill="#262626">1</text>
<text x="87.34" y="180.9" font-size="9" text-anchor="middle" fill="#262626">2</text>
<text x="113.96" y="180.9" font-size="9" text-anchor="middle" fill="#262626">3</text>
<text x="140.58" y="180.9" font-size="9" text-anchor="middle" fill="#262626">4</text>
<text x="167.2" y="180.9" font-size="9" text-anchor="middle" fill="#262626">5</text>
<text x="193.82" y="180.9" font-size="9" text-anchor="middle" fill="#262626">6</text>
<text x="220.44" y="180.9" font-size="9" text-anchor="middle" fill="#262626">7</text>
<text x="130" y="194.5" font-size="10" text-anchor="middle" fill="#262626">Time samples</text>
<text transform="translate(10.8,86) rotate(-90)" font-size="10.25" text-anchor="middle" fill="#262626">Frequency bins</text>
<text x="205.4" y="196.3" font-size="10" fill="#262626">×10<tspan dy="-4.6" font-size="8">5</tspan></text>
<rect x="231.6" y="4.5" width="10.8" height="163.8" fill="url(#cba)" stroke="#3a3a3a" stroke-width="0.4"/>
<line x1="240.9" x2="242.4" y1="168.3" y2="168.3" stroke="#262626" stroke-width="0.4"/>
<text x="245.3" y="171.74" font-size="8.2" fill="#262626">0</text>
<line x1="240.9" x2="242.4" y1="144.56" y2="144.56" stroke="#262626" stroke-width="0.4"/>
<text x="245.3" y="148" font-size="8.2" fill="#262626">10</text>
<line x1="240.9" x2="242.4" y1="120.82" y2="120.82" stroke="#262626" stroke-width="0.4"/>
<text x="245.3" y="124.27" font-size="8.2" fill="#262626">20</text>
<line x1="240.9" x2="242.4" y1="97.08" y2="97.08" stroke="#262626" stroke-width="0.4"/>
<text x="245.3" y="100.53" font-size="8.2" fill="#262626">30</text>
<line x1="240.9" x2="242.4" y1="73.34" y2="73.34" stroke="#262626" stroke-width="0.4"/>
<text x="245.3" y="76.79" font-size="8.2" fill="#262626">40</text>
<line x1="240.9" x2="242.4" y1="49.6" y2="49.6" stroke="#262626" stroke-width="0.4"/>
<text x="245.3" y="53.05" font-size="8.2" fill="#262626">50</text>
<line x1="240.9" x2="242.4" y1="25.87" y2="25.87" stroke="#262626" stroke-width="0.4"/>
<text x="245.3" y="29.31" font-size="8.2" fill="#262626">60</text>
<text x="139.6" y="213.7" font-size="11.6" font-weight="bold" text-anchor="middle" font-family="Liberation Serif, serif" fill="#222">(a)</text>
<g id="pb">
<rect x="324.8" y="4.6" width="192.6" height="163.2" fill="url(#gb)"/>
<g clip-path="url(#cpb)"><g mask="url(#mkb)"><g filter="url(#blb)">
<path fill="#48a8d0" d="M342.9 102.6h1.1v15h-1.1zM342.9 117.6h1.1v17.6h-1.1zM354.5 59.9h1.1v8.3h-1.1zM354.5 68.1h1.1v22.3h-1.1zM369.3 22h1.1v19.5h-1.1zM369.3 144.4h1.1v18.3h-1.1zM374.9 22h1.1v21.8h-1.1zM380.1 42.9h1.1v12.3h-1.1zM380.1 110h1.1v9.7h-1.1zM385.5 132h1.1v10.3h-1.1zM395.9 56.3h1.1v21.5h-1.1zM428.5 147.8h1.1v9.6h-1.1zM444.2 44.3h1.1v24.5h-1.1zM460.9 22h1.1v17.3h-1.1zM460.9 39.3h1.1v14.1h-1.1zM465.8 117.4h1.1v21h-1.1zM509.4 50.7h1.1v23.9h-1.1zM520.1 87.9h1.1v17.3h-1.1z"/>
<path fill="#4c7ce0" d="M328.6 91h2.1v49.5h-2.1zM334.4 14h2.1v25.6h-2.1zM339.6 39.8h2.2v40.7h-2.2zM345.3 115.8h2.4v24.9h-2.4zM350.8 107.3h2.6v44.4h-2.6zM366.3 78.3h1.9v20.8h-1.9zM366.3 99.1h1.9v43.8h-1.9zM377 14h2v35.8h-2zM377 49.8h2v39.6h-2zM377 116.4h2v49h-2zM392.7 151.3h2.1v43.9h-2.1zM398.1 114.3h1.9v34.7h-1.9zM403.5 14h2.2v26.6h-2.2zM414.7 14h2.1v31.3h-2.1zM424.8 14h2.6v33.6h-2.6zM430.6 14h2.4v34.4h-2.4zM435.7 40.3h2.1v21.6h-2.1zM435.7 109.8h2.1v23.2h-2.1zM435.7 133h2.1v46h-2.1zM452.1 14h1.9v48h-1.9zM452.1 135.3h1.9v31h-1.9zM457.5 83h2.3v41.9h-2.3zM462.7 122.4h2v22.2h-2zM473 54.9h2.6v36.5h-2.6zM473 91.4h2.6v35.3h-2.6zM478.7 14h2.5v32.9h-2.5zM478.7 102.5h2.5v23.5h-2.5zM489.3 97h2v27.2h-2zM500.2 14h2.5v42.6h-2.5zM511.6 79.2h2.1v41.8h-2.1zM511.6 121h2.1v46.5h-2.1zM516.8 14h2.2v36.2h-2.2zM516.8 50.2h2.2v25.7h-2.2z"/>
<path fill="#4e88dc" d="M322.8 37.7h2.6v20.9h-2.6zM322.8 58.6h2.6v36.7h-2.6zM322.8 133.6h2.6v44.2h-2.6zM328.6 46.9h2.1v22.9h-2.1zM334.4 39.6h2.1v29.4h-2.1zM339.6 14h2.2v25.8h-2.2zM339.6 121.3h2.2v26.8h-2.2zM345.3 47.2h2.4v22.5h-2.4zM350.8 62h2.6v45.3h-2.6zM350.8 151.6h2.6v38.6h-2.6zM361.2 93.3h2v23.3h-2zM361.2 158.5h2v22.8h-2zM366.3 142.9h1.9v45h-1.9zM371.8 55.1h2v39.8h-2zM387.6 14h2.2v25.5h-2.2zM398.1 14h1.9v36.5h-1.9zM398.1 50.5h1.9v37.6h-1.9zM408.9 66.8h2.2v25.3h-2.2zM419.7 14h1.9v49.6h-1.9zM424.8 96.5h2.6v35.2h-2.6zM440.7 63.3h2.4v36.1h-2.4zM446.5 148.5h2.1v26.6h-2.1zM457.5 14h2.3v42.9h-2.3zM457.5 154.7h2.3v23.7h-2.3zM462.7 144.6h2v44.3h-2zM467.8 14h2.2v36.8h-2.2zM467.8 155.4h2.2v20.3h-2.2zM478.7 46.9h2.5v34.3h-2.5zM483.8 63.3h2.2v26.5h-2.2zM489.3 124.2h2v37.5h-2zM489.3 161.7h2v44.8h-2zM494.7 14h2.5v46.4h-2.5zM494.7 105.1h2.5v41.5h-2.5zM494.7 146.7h2.5v45.5h-2.5zM500.2 163.6h2.5v38.3h-2.5zM516.8 109.4h2.2v36.1h-2.2z"/>
<path fill="#5084dc" d="M322.8 95.3h2.6v38.3h-2.6zM328.6 14h2.1v32.9h-2.1zM334.4 69h2.1v24.2h-2.1zM339.6 148.2h2.2v27.8h-2.2zM345.3 140.7h2.4v26.8h-2.4zM361.2 14h2v31.9h-2zM366.3 14h1.9v30h-1.9zM371.8 133.1h2v22.1h-2zM382.3 142.6h2.2v24.2h-2.2zM387.6 145.1h2.2v45.9h-2.2zM408.9 14h2.2v22.8h-2.2zM408.9 36.8h2.2v30h-2.2zM408.9 133.9h2.2v25.5h-2.2zM419.7 63.6h1.9v42.8h-1.9zM430.6 48.4h2.4v27.9h-2.4zM446.5 14h2.1v20.9h-2.1zM446.5 34.9h2.1v22.4h-2.1zM446.5 57.3h2.1v37.5h-2.1zM452.1 62h1.9v38.7h-1.9zM457.5 124.9h2.3v29.8h-2.3zM462.7 57.8h2v40.4h-2zM467.8 82.8h2.2v30.5h-2.2zM467.8 134.1h2.2v21.2h-2.2zM478.7 81.3h2.5v21.3h-2.5zM478.7 149.4h2.5v46.5h-2.5zM483.8 124.3h2.2v41.6h-2.2zM489.3 14h2v39.3h-2zM500.2 56.6h2.5v31.4h-2.5zM500.2 118.9h2.5v44.7h-2.5zM511.6 14h2.1v25.1h-2.1z"/>
<path fill="#52b2c4" d="M325.4 93.8h1.1v5.8h-1.1zM325.4 149.7h1.1v5.8h-1.1zM326.5 26.6h1.1v5.6h-1.1zM326.5 61.3h1.1v6h-1.1zM326.5 72.6h1.1v5.5h-1.1zM326.5 84.2h1.1v6h-1.1zM326.5 146.7h1.1v5.7h-1.1zM327.6 48.1h1.1v5.4h-1.1zM330.8 68.7h1.1v5.5h-1.1zM330.8 103.4h1.1v5.6h-1.1zM330.8 148.3h1.1v5.4h-1.1zM330.8 153.7h1.1v5.9h-1.1zM333 82.7h1.1v5.6h-1.1zM333 105.2h1.1v5.8h-1.1zM333 139.1h1.1v5.8h-1.1zM333 144.9h1.1v5.4h-1.1zM336.5 71.9h1.1v5.2h-1.1zM336.5 82.5h1.1v6h-1.1zM336.5 143.1h1.1v5.8h-1.1zM338.7 60.5h1.1v5.9h-1.1zM338.7 72.3h1.1v5.3h-1.1zM344 72h1.1v6.1h-1.1zM344 83.3h1.1v5.5h-1.1zM344 94.1h1.1v5.8h-1.1zM344 138.9h1.1v5.6h-1.1zM344 144.5h1.1v5.2h-1.1zM349.9 48.5h1.1v5.3h-1.1zM349.9 59.5h1.1v5.9h-1.1zM349.9 92.2h1.1v5.4h-1.1zM349.9 103.7h1.1v5.9h-1.1zM349.9 137.2h1.1v5.6h-1.1zM353.4 37.4h1.1v5.4h-1.1zM353.4 139.5h1.1v5.2h-1.1zM353.4 150.7h1.1v5.5h-1.1zM354.5 106.3h1.1v12.9h-1.1zM354.5 146.3h1.1v16.2h-1.1zM359.6 25.7h1.1v5.2h-1.1zM359.6 94.2h1.1v5.5h-1.1zM359.6 116.1h1.1v5.7h-1.1zM359.6 144.6h1.1v5.8h-1.1zM359.6 150.4h1.1v5.5h-1.1zM360.7 126.2h1.1v5.5h-1.1zM363.2 83.5h1.1v5.4h-1.1zM363.2 94.8h1.1v5.5h-1.1zM363.2 140.1h1.1v5.9h-1.1zM364.3 25.6h1.1v5.2h-1.1zM364.3 71.2h1.1v6.1h-1.1zM364.3 94.4h1.1v5.5h-1.1zM365.4 70.7h1.1v5.7h-1.1zM365.4 93.1h1.1v5.3h-1.1zM365.4 138h1.1v5.5h-1.1zM368.2 105.2h1.1v6.1h-1.1zM368.2 127.9h1.1v5.3h-1.1zM368.2 150.3h1.1v6h-1.1zM373.8 59.2h1.1v5.7h-1.1zM373.8 82.3h1.1v5.9h-1.1zM373.8 104.6h1.1v6h-1.1zM376 151.1h1.1v5.8h-1.1zM381.2 115.3h1.1v5.3h-1.1zM381.2 138.6h1.1v5.2h-1.1zM384.4 128.5h1.1v5.4h-1.1zM385.5 50.1h1.1v22.4h-1.1zM385.5 72.5h1.1v22.1h-1.1zM386.6 130h1.1v5.4h-1.1zM390.9 71.6h1.1v5.4h-1.1zM390.9 126h1.1v5.2h-1.1zM390.9 142.8h1.1v5.8h-1.1zM394.8 37.7h1.1v5.2h-1.1zM395.9 93.4h1.1v11.6h-1.1zM397 38h1.1v5.9h-1.1zM397 49.4h1.1v5.2h-1.1zM397 72.2h1.1v5.6h-1.1zM397 151h1.1v6.1h-1.1zM401.2 27.1h1.1v5.8h-1.1zM402.3 72.8h1.1v5.9h-1.1zM402.3 95.1h1.1v5.2h-1.1zM405.8 82.4h1.1v5.2h-1.1zM411.2 38.9h1.1v6.1h-1.1zM413.4 27.5h1.1v6.1h-1.1zM413.4 75.6h1.1v6h-1.1zM416.8 116.3h1.1v5.9h-1.1zM416.8 127.7h1.1v5.6h-1.1zM416.8 138.7h1.1v5.2h-1.1zM416.8 149.1h1.1v5.7h-1.1zM417.9 27.5h1.1v5.8h-1.1zM417.9 62.2h1.1v5.5h-1.1zM417.9 151.9h1.1v5.8h-1.1zM422.7 38.1h1.1v5.5h-1.1zM422.7 60.9h1.1v5.4h-1.1zM422.7 139.5h1.1v6h-1.1zM423.8 61h1.1v5.7h-1.1zM423.8 151.6h1.1v6.1h-1.1zM427.4 85.2h1.1v5.4h-1.1zM428.5 83.3h1.1v15.8h-1.1zM428.5 99.1h1.1v12.8h-1.1zM433 37.6h1.1v5.6h-1.1zM433 60.2h1.1v5.4h-1.1zM433 105.1h1.1v5.8h-1.1zM434.1 71.3h1.1v5.4h-1.1zM434.1 82.7h1.1v6h-1.1zM434.1 105.7h1.1v5.5h-1.1zM434.1 127.4h1.1v5.5h-1.1zM435.2 49.6h1.1v5.9h-1.1zM435.2 72h1.1v5.4h-1.1zM435.2 105.7h1.1v6h-1.1zM437.8 128.1h1.1v5.5h-1.1zM437.8 138.8h1.1v5.7h-1.1zM438.9 22h1.1v23h-1.1zM440 130h1.1v5.3h-1.1zM448.6 72.9h1.1v6h-1.1zM448.6 95.9h1.1v5.9h-1.1zM450.8 38.1h1.1v5.3h-1.1zM450.8 81.5h1.1v5.8h-1.1zM450.8 127.2h1.1v5.3h-1.1zM454 144.5h1.1v5.6h-1.1zM455.1 73.2h1.1v5.9h-1.1zM456.2 72.3h1.1v6h-1.1zM459.8 38.5h1.1v5.4h-1.1zM459.8 138.4h1.1v5.9h-1.1zM465.8 46h1.1v15.7h-1.1zM466.9 27.7h1.1v5.9h-1.1zM466.9 106.7h1.1v5.5h-1.1zM469.9 50h1.1v5.4h-1.1zM469.9 145.8h1.1v5.9h-1.1zM471 72.9h1.1v5.5h-1.1zM471 117.9h1.1v5.5h-1.1zM471 150.9h1.1v5.6h-1.1zM472.1 95.9h1.1v5.3h-1.1zM475.6 49.3h1.1v5.8h-1.1zM476.7 150.9h1.1v5.6h-1.1zM477.8 60.1h1.1v5.3h-1.1zM477.8 82.1h1.1v5.4h-1.1zM477.8 104.6h1.1v5.5h-1.1zM477.8 138.4h1.1v5.3h-1.1zM481.2 71.5h1.1v5.2h-1.1zM481.2 127.8h1.1v5.6h-1.1zM482.3 117.7h1.1v6.1h-1.1zM482.3 140.8h1.1v5.8h-1.1zM483.4 91.1h1.1v6h-1.1zM483.4 114h1.1v5.9h-1.1zM485.9 37.9h1.1v5.5h-1.1zM485.9 81.5h1.1v5.5h-1.1zM485.9 148.6h1.1v5.9h-1.1zM487 149.5h1.1v19.1h-1.1zM488.1 50h1.1v5.8h-1.1zM488.1 60.9h1.1v6.1h-1.1zM488.1 84.6h1.1v5.2h-1.1zM488.1 140.5h1.1v6h-1.1zM492.4 79.4h1.1v24h-1.1zM492.4 103.4h1.1v21.7h-1.1zM493.5 108.8h1.1v5.5h-1.1zM497.2 27.5h1.1v5.3h-1.1zM497.2 73.3h1.1v5.7h-1.1zM502.7 27.3h1.1v6.1h-1.1zM502.7 82.1h1.1v5.9h-1.1zM502.7 115.9h1.1v5.9h-1.1zM503.8 27.1h1.1v5.5h-1.1zM503.8 49h1.1v6h-1.1zM503.8 72.5h1.1v5.7h-1.1zM504.9 49.2h1.1v5.4h-1.1zM504.9 105.4h1.1v6h-1.1zM508.3 49.4h1.1v5.2h-1.1zM508.3 60.1h1.1v5.9h-1.1zM508.3 71.4h1.1v5.2h-1.1zM508.3 116.2h1.1v6h-1.1zM510.5 83.6h1.1v5.2h-1.1zM510.5 106.1h1.1v6.1h-1.1zM510.5 118.3h1.1v5.5h-1.1zM513.7 83.4h1.1v5.9h-1.1zM513.7 94.8h1.1v5.5h-1.1zM513.7 106.3h1.1v5.9h-1.1zM514.8 49.6h1.1v6.1h-1.1zM515.9 38.7h1.1v5.3h-1.1zM515.9 49.6h1.1v6.1h-1.1zM515.9 131.1h1.1v5.9h-1.1zM519 25.8h1.1v5.2h-1.1zM519 125.4h1.1v5.5h-1.1zM519 153.7h1.1v5.8h-1.1zM520.1 31.3h1.1v15.2h-1.1zM521.2 47.5h1.1v5.8h-1.1zM521.2 138.8h1.1v5.2h-1.1z"/>
<path fill="#5490d8" d="M328.6 69.8h2.1v21.2h-2.1zM339.6 80.5h2.2v40.9h-2.2zM345.3 14h2.4v33.2h-2.4zM345.3 69.7h2.4v46h-2.4zM356.2 14h2.3v23.5h-2.3zM356.2 80.7h2.3v40.8h-2.3zM356.2 121.5h2.3v27.7h-2.3zM356.2 149.1h2.3v21.9h-2.3zM361.2 116.6h2v41.8h-2zM377 89.4h2v27h-2zM382.3 14h2.2v44.7h-2.2zM387.6 39.5h2.2v40.4h-2.2zM387.6 79.9h2.2v22.7h-2.2zM387.6 102.5h2.2v42.5h-2.2zM392.7 14h2.1v44.4h-2.1zM398.1 88.1h1.9v26.2h-1.9zM403.5 40.6h2.2v24.3h-2.2zM403.5 64.9h2.2v30.6h-2.2zM403.5 95.6h2.2v47h-2.2zM403.5 142.6h2.2v41.4h-2.2zM408.9 159.4h2.2v35h-2.2zM414.7 45.3h2.1v39.6h-2.1zM414.7 84.9h2.1v37.2h-2.1zM419.7 106.3h1.9v42.2h-1.9zM424.8 47.6h2.6v48.9h-2.6zM440.7 37h2.4v26.3h-2.4zM440.7 124.3h2.4v46.2h-2.4zM446.5 94.9h2.1v22.1h-2.1zM446.5 117h2.1v31.5h-2.1zM452.1 100.7h1.9v34.6h-1.9zM462.7 14h2v43.8h-2zM462.7 98.2h2v24.2h-2zM467.8 50.8h2.2v31.9h-2.2zM467.8 113.2h2.2v20.9h-2.2zM473 14h2.6v40.9h-2.6zM473 126.7h2.6v44.6h-2.6zM478.7 126h2.5v23.4h-2.5zM483.8 14h2.2v49.3h-2.2zM494.7 60.4h2.5v44.7h-2.5zM506.1 14h2.2v33.8h-2.2zM506.1 91.2h2.2v48.7h-2.2zM511.6 39.1h2.1v40.1h-2.1zM516.8 75.8h2.2v33.6h-2.2zM516.8 145.5h2.2v48.7h-2.2z"/>
<path fill="#5898d8" d="M342.9 82.7h1.1v19.9h-1.1zM342.9 135.2h1.1v13.3h-1.1zM348.8 50.6h1.1v24.8h-1.1zM354.5 45.1h1.1v14.8h-1.1zM385.5 22h1.1v11.7h-1.1zM385.5 94.6h1.1v14.9h-1.1zM395.9 105h1.1v23.4h-1.1zM406.9 22h1.1v17.3h-1.1zM406.9 108.5h1.1v13.9h-1.1zM412.3 22h1.1v22.9h-1.1zM428.5 22h1.1v14.5h-1.1zM444.2 136.2h1.1v13.4h-1.1zM460.9 53.4h1.1v10.7h-1.1zM487 45.7h1.1v24.8h-1.1zM487 94.1h1.1v10.4h-1.1zM509.4 94.9h1.1v17.4h-1.1zM509.4 112.4h1.1v22.5h-1.1z"/>
<path fill="#5c8cd4" d="M322.8 14h2.6v23.7h-2.6zM328.6 140.5h2.1v24h-2.1zM334.4 93.2h2.1v40.9h-2.1zM334.4 134.1h2.1v45h-2.1zM350.8 14h2.6v48h-2.6zM356.2 37.5h2.3v43.2h-2.3zM361.2 45.9h2v47.4h-2zM366.3 44h1.9v34.3h-1.9zM371.8 14h2v41.1h-2zM371.8 94.9h2v38.1h-2zM371.8 155.2h2v26.4h-2zM382.3 58.7h2.2v37.9h-2.2zM382.3 96.6h2.2v46h-2.2zM392.7 58.4h2.1v46h-2.1zM392.7 104.3h2.1v46.9h-2.1zM398.1 149.1h1.9v42.5h-1.9zM408.9 92.2h2.2v41.7h-2.2zM414.7 122.1h2.1v35.8h-2.1zM414.7 157.9h2.1v27.2h-2.1zM419.7 148.5h1.9v39.1h-1.9zM424.8 131.7h2.6v36.1h-2.6zM430.6 76.3h2.4v47.5h-2.4zM430.6 123.8h2.4v46.9h-2.4zM435.7 14h2.1v26.3h-2.1zM435.7 61.9h2.1v21h-2.1zM435.7 82.9h2.1v26.9h-2.1zM440.7 14h2.4v23h-2.4zM440.7 99.4h2.4v25h-2.4zM457.5 56.9h2.3v26h-2.3zM483.8 89.9h2.2v34.4h-2.2zM489.3 53.3h2v43.8h-2zM500.2 88h2.5v30.9h-2.5zM506.1 47.8h2.2v43.4h-2.2zM506.1 139.9h2.2v33.7h-2.2z"/>
<path fill="#5cb8b8" d="M342.9 22h1.1v17.3h-1.1zM348.8 75.3h1.1v14.1h-1.1zM369.3 65.5h1.1v11.4h-1.1zM369.3 77h1.1v23.5h-1.1zM374.9 126.4h1.1v14.1h-1.1zM395.9 22h1.1v8.9h-1.1zM395.9 41.3h1.1v15h-1.1zM406.9 39.3h1.1v8.7h-1.1zM428.5 46.5h1.1v12.5h-1.1zM438.9 112.8h1.1v21.1h-1.1zM444.2 126.3h1.1v9.9h-1.1zM449.7 134.3h1.1v15.4h-1.1zM460.9 135.1h1.1v24.5h-1.1zM487 104.5h1.1v9.8h-1.1zM487 128.1h1.1v21.4h-1.1zM492.4 41.4h1.1v13.9h-1.1zM509.4 134.9h1.1v16.5h-1.1zM520.1 22h1.1v9.3h-1.1z"/>
<path fill="#60b8b4" d="M325.4 37.2h1.1v5.5h-1.1zM325.4 104.8h1.1v5.4h-1.1zM325.4 128.1h1.1v5.3h-1.1zM326.5 38h1.1v5.9h-1.1zM327.6 71h1.1v5.6h-1.1zM330.8 25.6h1.1v5.4h-1.1zM330.8 36.2h1.1v5.2h-1.1zM331.9 22h1.1v16.8h-1.1zM333 59.3h1.1v5.8h-1.1zM333 71.1h1.1v6h-1.1zM336.5 26.2h1.1v5.8h-1.1zM336.5 37.8h1.1v5.7h-1.1zM336.5 60.7h1.1v5.9h-1.1zM337.6 38.7h1.1v5.7h-1.1zM337.6 106.8h1.1v6.1h-1.1zM337.6 118.1h1.1v5.9h-1.1zM338.7 25.7h1.1v5.5h-1.1zM338.7 106.1h1.1v5.4h-1.1zM341.8 50.3h1.1v5.5h-1.1zM341.8 61.1h1.1v5.6h-1.1zM341.8 94.8h1.1v6.1h-1.1zM341.8 106.6h1.1v5.2h-1.1zM342.9 59.3h1.1v23.4h-1.1zM342.9 148.5h1.1v23h-1.1zM347.7 93.9h1.1v6h-1.1zM347.7 105.7h1.1v5.3h-1.1zM349.9 70.8h1.1v5.2h-1.1zM353.4 83.1h1.1v6.1h-1.1zM353.4 94.7h1.1v5.2h-1.1zM354.5 90.4h1.1v15.9h-1.1zM355.6 36.7h1.1v5.4h-1.1zM355.6 83.1h1.1v5.5h-1.1zM355.6 105.1h1.1v5.9h-1.1zM358.5 70.5h1.1v5.5h-1.1zM358.5 125.6h1.1v5.8h-1.1zM360.7 36.1h1.1v5.5h-1.1zM360.7 47.7h1.1v6h-1.1zM360.7 104.1h1.1v5.2h-1.1zM360.7 148.7h1.1v5.6h-1.1zM363.2 60.3h1.1v5.5h-1.1zM363.2 151.9h1.1v5.4h-1.1zM364.3 106h1.1v5.9h-1.1zM364.3 117.7h1.1v5.3h-1.1zM365.4 81.6h1.1v5.4h-1.1zM365.4 115.1h1.1v5.9h-1.1zM368.2 60.4h1.1v5.6h-1.1zM368.2 82.5h1.1v6h-1.1zM373.8 116.5h1.1v5.7h-1.1zM374.9 75.7h1.1v19.8h-1.1zM374.9 95.5h1.1v15.5h-1.1zM376 26.4h1.1v5.8h-1.1zM376 105.4h1.1v6.1h-1.1zM379 25.5h1.1v5.4h-1.1zM379 47.5h1.1v6h-1.1zM379 92.8h1.1v5.6h-1.1zM380.1 85.2h1.1v24.8h-1.1zM381.2 149.5h1.1v5.2h-1.1zM384.4 83.3h1.1v5.2h-1.1zM385.5 33.7h1.1v16.5h-1.1zM386.6 72.6h1.1v5.7h-1.1zM390.9 103.9h1.1v5.7h-1.1zM390.9 115.4h1.1v5.3h-1.1zM392 60.5h1.1v5.3h-1.1zM392 71.4h1.1v5.9h-1.1zM392 94.4h1.1v5.6h-1.1zM392 127.1h1.1v5.9h-1.1zM392 139h1.1v5.3h-1.1zM394.8 105.6h1.1v5.3h-1.1zM394.8 116.7h1.1v6h-1.1zM395.9 128.4h1.1v18.6h-1.1zM397 26.7h1.1v5.9h-1.1zM397 94.9h1.1v5.9h-1.1zM397 118.1h1.1v5.7h-1.1zM400.1 95.3h1.1v5.6h-1.1zM401.2 38.2h1.1v5.7h-1.1zM402.3 105.9h1.1v5.3h-1.1zM402.3 151.7h1.1v5.8h-1.1zM405.8 93.3h1.1v5.8h-1.1zM405.8 104.4h1.1v6h-1.1zM411.2 50.5h1.1v5.9h-1.1zM411.2 62h1.1v5.8h-1.1zM411.2 94.9h1.1v5.7h-1.1zM411.2 116.9h1.1v5.8h-1.1zM413.4 51.2h1.1v6.1h-1.1zM413.4 98.3h1.1v5.9h-1.1zM413.4 109.9h1.1v5.9h-1.1zM413.4 121h1.1v5.4h-1.1zM416.8 82.7h1.1v5.8h-1.1zM417.9 39.4h1.1v5.6h-1.1zM417.9 118.4h1.1v5.5h-1.1zM417.9 129.5h1.1v5.5h-1.1zM419 73.2h1.1v5.2h-1.1zM419 106h1.1v5.5h-1.1zM419 116.7h1.1v5.4h-1.1zM419 128.1h1.1v5.8h-1.1zM421.6 142.8h1.1v5.7h-1.1zM422.7 128h1.1v5.9h-1.1zM427.4 73.5h1.1v6.1h-1.1zM427.4 107.3h1.1v5.5h-1.1zM429.6 27.4h1.1v5.3h-1.1zM429.6 49.4h1.1v5.5h-1.1zM433 49.1h1.1v5.2h-1.1zM433 116.5h1.1v6h-1.1zM433 127.8h1.1v5.6h-1.1zM434.1 48.9h1.1v6h-1.1zM434.1 94.5h1.1v5.6h-1.1zM434.1 144.5h1.1v5.8h-1.1zM434.1 150.3h1.1v5.7h-1.1zM435.2 61.3h1.1v5.6h-1.1zM435.2 141.1h1.1v6.1h-1.1zM440 72.2h1.1v5.7h-1.1zM440 141.2h1.1v5.4h-1.1zM440 146.6h1.1v5.5h-1.1zM440 152.1h1.1v5.7h-1.1zM443.1 38h1.1v5.8h-1.1zM443.1 71.3h1.1v5.6h-1.1zM443.1 126.9h1.1v5.9h-1.1zM443.1 149.6h1.1v5.4h-1.1zM448.6 142.6h1.1v5.8h-1.1zM448.6 148.4h1.1v5.8h-1.1zM449.7 149.7h1.1v20.7h-1.1zM454 105h1.1v6.1h-1.1zM454 138.9h1.1v5.6h-1.1zM455.1 26.5h1.1v5.6h-1.1zM455.1 108.5h1.1v5.9h-1.1zM455.1 143.2h1.1v5.9h-1.1zM456.2 84.2h1.1v5.2h-1.1zM456.2 138.7h1.1v5.9h-1.1zM459.8 105.6h1.1v5.3h-1.1zM459.8 144.3h1.1v5.5h-1.1zM462 106.8h1.1v5.6h-1.1zM462 152h1.1v5.9h-1.1zM464.7 61.1h1.1v5.9h-1.1zM466.9 39.1h1.1v5.7h-1.1zM466.9 128.2h1.1v5.8h-1.1zM469.9 72.3h1.1v6h-1.1zM469.9 117.9h1.1v5.5h-1.1zM471 84.2h1.1v5.2h-1.1zM471 140.3h1.1v5.3h-1.1zM471 145.5h1.1v5.3h-1.1zM472.1 27.7h1.1v5.8h-1.1zM472.1 83.8h1.1v5.9h-1.1zM472.1 117.9h1.1v6h-1.1zM475.6 116.1h1.1v5.5h-1.1zM475.6 138.3h1.1v6h-1.1zM475.6 144.3h1.1v5.4h-1.1zM476.7 94.8h1.1v5.9h-1.1zM477.8 26.8h1.1v5.9h-1.1zM481.2 25.6h1.1v5.9h-1.1zM482.3 94.3h1.1v5.8h-1.1zM482.3 106.1h1.1v5.8h-1.1zM483.4 80.5h1.1v5.2h-1.1zM485.9 27h1.1v5.8h-1.1zM485.9 71h1.1v5.2h-1.1zM488.1 118.4h1.1v5.7h-1.1zM491.3 48.9h1.1v6h-1.1zM491.3 106.2h1.1v5.7h-1.1zM491.3 117.3h1.1v6.1h-1.1zM491.3 139.3h1.1v5.8h-1.1zM492.4 55.3h1.1v24.1h-1.1zM493.5 27.4h1.1v6.1h-1.1zM493.5 119.8h1.1v5.6h-1.1zM498.3 139.2h1.1v6h-1.1zM499.4 152.9h1.1v5.3h-1.1zM502.7 104.5h1.1v5.9h-1.1zM502.7 149.5h1.1v6h-1.1zM503.8 60.5h1.1v6.1h-1.1zM503.8 84h1.1v5.2h-1.1zM504.9 27.2h1.1v5.3h-1.1zM504.9 144.6h1.1v5.6h-1.1zM508.3 139.8h1.1v5.3h-1.1zM508.3 150.6h1.1v6h-1.1zM509.4 22h1.1v16.8h-1.1zM510.5 147.3h1.1v5.8h-1.1zM513.7 37.5h1.1v5.7h-1.1zM513.7 48.5h1.1v5.7h-1.1zM514.8 73h1.1v5.6h-1.1zM515.9 27.1h1.1v6h-1.1zM515.9 73h1.1v6.1h-1.1zM515.9 147.6h1.1v6.1h-1.1zM515.9 153.8h1.1v5.5h-1.1zM519 92.1h1.1v5.5h-1.1z"/>
<path fill="#68b4bc" d="M325.4 59.8h1.1v5.5h-1.1zM325.4 138.9h1.1v5.3h-1.1zM327.6 93.8h1.1v5.8h-1.1zM330.8 114.9h1.1v5.4h-1.1zM331.9 133.7h1.1v8.2h-1.1zM333 25.7h1.1v5.5h-1.1zM333 37h1.1v5.6h-1.1zM333 48h1.1v6h-1.1zM336.5 105.8h1.1v5.5h-1.1zM337.6 50.1h1.1v5.7h-1.1zM337.6 95.1h1.1v5.5h-1.1zM337.6 129.5h1.1v5.5h-1.1zM338.7 83h1.1v6h-1.1zM338.7 146.4h1.1v5.5h-1.1zM341.8 26.9h1.1v5.5h-1.1zM341.8 38.2h1.1v6h-1.1zM344 105.3h1.1v6.1h-1.1zM347.7 26.7h1.1v5.5h-1.1zM347.7 49.4h1.1v5.9h-1.1zM353.4 59.8h1.1v6.1h-1.1zM353.4 105.9h1.1v5.8h-1.1zM353.4 127.8h1.1v6h-1.1zM355.6 94.4h1.1v5.2h-1.1zM358.5 58.6h1.1v6h-1.1zM358.5 81.2h1.1v5.5h-1.1zM359.6 82.1h1.1v6.1h-1.1zM359.6 105.4h1.1v5.2h-1.1zM360.7 25.2h1.1v5.3h-1.1zM360.7 81.4h1.1v6.1h-1.1zM360.7 137h1.1v5.9h-1.1zM363.2 37h1.1v6.1h-1.1zM364.3 48.6h1.1v5.9h-1.1zM365.4 37.1h1.1v5.2h-1.1zM368.2 26.6h1.1v5.8h-1.1zM368.2 49.6h1.1v5.2h-1.1zM368.2 71.4h1.1v5.6h-1.1zM368.2 139.1h1.1v6h-1.1zM369.3 129.9h1.1v14.5h-1.1zM370.4 127.9h1.1v5.4h-1.1zM370.4 150.8h1.1v5.2h-1.1zM374.9 63.3h1.1v12.4h-1.1zM376 49.2h1.1v5.4h-1.1zM376 59.9h1.1v6h-1.1zM376 71.5h1.1v5.7h-1.1zM376 117.1h1.1v5.5h-1.1zM379 59.1h1.1v6h-1.1zM379 114.2h1.1v5.3h-1.1zM379 152.9h1.1v6.1h-1.1zM380.1 22h1.1v20.9h-1.1zM380.1 69.5h1.1v15.7h-1.1zM381.2 47.4h1.1v5.2h-1.1zM381.2 126.5h1.1v6h-1.1zM384.4 71.5h1.1v5.8h-1.1zM384.4 94.2h1.1v5.3h-1.1zM384.4 145.5h1.1v5.5h-1.1zM384.4 151h1.1v5.2h-1.1zM386.6 83.9h1.1v5.7h-1.1zM386.6 106.3h1.1v6h-1.1zM386.6 146h1.1v5.8h-1.1zM389.8 26.3h1.1v5.3h-1.1zM389.8 49.2h1.1v5.6h-1.1zM389.8 94.5h1.1v5.7h-1.1zM389.8 140.5h1.1v6.1h-1.1zM389.8 152h1.1v5.5h-1.1zM392 49.1h1.1v6h-1.1zM394.8 94.1h1.1v5.4h-1.1zM394.8 127.9h1.1v5.2h-1.1zM395.9 147h1.1v18.8h-1.1zM400.1 60.7h1.1v6.1h-1.1zM400.1 128.3h1.1v6.1h-1.1zM400.1 145.8h1.1v5.2h-1.1zM400.1 150.9h1.1v6h-1.1zM401.2 71.7h1.1v5.7h-1.1zM401.2 94.7h1.1v5.9h-1.1zM402.3 27.2h1.1v6.1h-1.1zM402.3 49.8h1.1v5.9h-1.1zM402.3 61.1h1.1v6h-1.1zM402.3 128.5h1.1v5.6h-1.1zM405.8 70.6h1.1v5.9h-1.1zM408 71.9h1.1v6.1h-1.1zM408 127.3h1.1v5.2h-1.1zM408 138.4h1.1v6h-1.1zM408 149.9h1.1v5.5h-1.1zM412.3 63.7h1.1v13.9h-1.1zM412.3 105.9h1.1v23.9h-1.1zM413.4 132h1.1v6h-1.1zM417.9 145.9h1.1v6.1h-1.1zM419 27.3h1.1v5.4h-1.1zM419 61.4h1.1v6.1h-1.1zM419 95h1.1v5.5h-1.1zM419 144.4h1.1v5.3h-1.1zM421.6 83.5h1.1v5.4h-1.1zM421.6 105.2h1.1v5.6h-1.1zM421.6 137.5h1.1v5.3h-1.1zM422.7 151.1h1.1v6.1h-1.1zM423.8 106.6h1.1v5.4h-1.1zM423.8 117.4h1.1v6.1h-1.1zM427.4 50h1.1v5.9h-1.1zM427.4 95.9h1.1v5.8h-1.1zM427.4 140.4h1.1v6.1h-1.1zM428.5 36.5h1.1v10h-1.1zM428.5 133.3h1.1v14.5h-1.1zM429.6 128.7h1.1v5.5h-1.1zM433 70.9h1.1v6h-1.1zM433 144.7h1.1v5.2h-1.1zM434.1 38.5h1.1v5.2h-1.1zM435.2 38.7h1.1v5.4h-1.1zM435.2 117.2h1.1v6h-1.1zM435.2 147.2h1.1v5.6h-1.1zM435.2 152.8h1.1v6.1h-1.1zM437.8 37.5h1.1v5.4h-1.1zM437.8 82.4h1.1v5.3h-1.1zM438.9 153h1.1v11.8h-1.1zM440 26.8h1.1v5.8h-1.1zM440 38.1h1.1v5.5h-1.1zM443.1 27.3h1.1v5.2h-1.1zM445.3 127.4h1.1v5.5h-1.1zM448.6 119.1h1.1v5.9h-1.1zM449.7 35.8h1.1v13.2h-1.1zM449.7 61h1.1v14.6h-1.1zM450.8 115.1h1.1v6h-1.1zM450.8 138.1h1.1v5.7h-1.1zM454 62.1h1.1v5.2h-1.1zM454 83.1h1.1v5.7h-1.1zM454 94.5h1.1v5.2h-1.1zM454 127.4h1.1v5.9h-1.1zM455.1 85.1h1.1v5.3h-1.1zM455.1 120.3h1.1v6.1h-1.1zM459.8 27.2h1.1v5.8h-1.1zM459.8 83.1h1.1v5.3h-1.1zM459.8 149.8h1.1v5.7h-1.1zM460.9 102.4h1.1v18.7h-1.1zM462 49.6h1.1v5.5h-1.1zM462 60.7h1.1v6.1h-1.1zM462 129.4h1.1v5.5h-1.1zM462 140.8h1.1v6.1h-1.1zM464.7 38.3h1.1v5.9h-1.1zM464.7 72.2h1.1v5.3h-1.1zM464.7 105h1.1v6.1h-1.1zM464.7 139.7h1.1v5.8h-1.1zM465.8 61.7h1.1v17.6h-1.1zM466.9 139.5h1.1v5.7h-1.1zM469.9 27.4h1.1v5.9h-1.1zM471 50.3h1.1v5.5h-1.1zM471 106.5h1.1v6h-1.1zM471 129.2h1.1v5.2h-1.1zM472.1 39.2h1.1v5.9h-1.1zM476.7 27.7h1.1v5.7h-1.1zM476.7 50.1h1.1v5.6h-1.1zM481.2 48.3h1.1v5.8h-1.1zM481.2 138.6h1.1v5.9h-1.1zM482.3 152.7h1.1v5.9h-1.1zM483.4 26.1h1.1v5.2h-1.1zM483.4 125.8h1.1v5.6h-1.1zM483.4 136.8h1.1v5.8h-1.1zM485.9 143.3h1.1v5.2h-1.1zM488.1 38.4h1.1v5.8h-1.1zM488.1 95.7h1.1v5.8h-1.1zM491.3 37.9h1.1v5.3h-1.1zM491.3 145.1h1.1v6h-1.1zM493.5 50.7h1.1v5.6h-1.1zM497.2 106.2h1.1v5.2h-1.1zM497.2 128.5h1.1v5.9h-1.1zM498.3 26.9h1.1v5.8h-1.1zM498.3 145.2h1.1v5.2h-1.1zM499.4 72.6h1.1v5.3h-1.1zM499.4 106.3h1.1v5.7h-1.1zM502.7 49.6h1.1v5.5h-1.1zM502.7 144.2h1.1v5.2h-1.1zM504.9 60.5h1.1v5.2h-1.1zM504.9 71h1.1v6.1h-1.1zM504.9 82.8h1.1v5.3h-1.1zM504.9 94.2h1.1v5.7h-1.1zM504.9 150.2h1.1v5.2h-1.1zM508.3 38.7h1.1v5.6h-1.1zM513.7 151.7h1.1v5.4h-1.1zM514.8 38.7h1.1v5.4h-1.1zM514.8 83.9h1.1v5.7h-1.1zM514.8 95.4h1.1v5.3h-1.1zM514.8 118h1.1v6h-1.1zM514.8 129.1h1.1v5.6h-1.1zM519 114h1.1v5.6h-1.1zM520.1 46.6h1.1v9.5h-1.1zM520.1 56.1h1.1v23.5h-1.1zM520.1 79.5h1.1v8.3h-1.1zM520.1 105.1h1.1v18.8h-1.1zM521.2 36.9h1.1v5.3h-1.1zM521.2 93.6h1.1v5.4h-1.1zM521.2 104.7h1.1v5.5h-1.1zM521.2 116.1h1.1v6h-1.1zM521.2 127.5h1.1v6.1h-1.1z"/>
<path fill="#74c0a4" d="M325.4 71.2h1.1v5.4h-1.1zM326.5 96h1.1v5.2h-1.1zM326.5 118.3h1.1v5.6h-1.1zM327.6 25.6h1.1v5.7h-1.1zM327.6 82.2h1.1v6.1h-1.1zM327.6 127.9h1.1v6.1h-1.1zM327.6 139.3h1.1v5.6h-1.1zM327.6 144.9h1.1v5.2h-1.1zM327.6 150.1h1.1v5.5h-1.1zM330.8 80.1h1.1v5.6h-1.1zM330.8 91.8h1.1v5.5h-1.1zM331.9 58.2h1.1v24.3h-1.1zM331.9 115.4h1.1v18.2h-1.1zM338.7 129.2h1.1v6h-1.1zM338.7 140.5h1.1v6h-1.1zM338.7 152h1.1v5.5h-1.1zM341.8 117.5h1.1v5.2h-1.1zM341.8 145h1.1v6h-1.1zM344 127.9h1.1v5.3h-1.1zM347.7 127.9h1.1v5.8h-1.1zM347.7 150.2h1.1v5.4h-1.1zM348.8 112.5h1.1v21.2h-1.1zM349.9 142.8h1.1v5.4h-1.1zM353.4 48.4h1.1v5.8h-1.1zM355.6 116.7h1.1v5.9h-1.1zM355.6 151.5h1.1v6.1h-1.1zM358.5 25.1h1.1v5.5h-1.1zM358.5 92.1h1.1v5.9h-1.1zM358.5 142.9h1.1v5.6h-1.1zM359.6 36.5h1.1v5.2h-1.1zM363.2 146h1.1v5.9h-1.1zM364.3 150.8h1.1v5.7h-1.1zM365.4 47.8h1.1v5.5h-1.1zM368.2 145h1.1v5.3h-1.1zM370.4 60.3h1.1v6.1h-1.1zM373.8 48.1h1.1v5.2h-1.1zM373.8 70.8h1.1v6.1h-1.1zM374.9 140.5h1.1v15.5h-1.1zM379 147.5h1.1v5.3h-1.1zM380.1 55.2h1.1v14.3h-1.1zM384.4 26.8h1.1v5.6h-1.1zM384.4 38h1.1v5.9h-1.1zM384.4 60.6h1.1v5.3h-1.1zM386.6 94.8h1.1v5.4h-1.1zM386.6 140.8h1.1v5.3h-1.1zM389.8 37.4h1.1v5.9h-1.1zM389.8 129.3h1.1v5.6h-1.1zM390.9 26.7h1.1v5.3h-1.1zM392 27.1h1.1v5.4h-1.1zM394.8 25.9h1.1v6h-1.1zM394.8 144.4h1.1v5.3h-1.1zM394.8 149.7h1.1v5.8h-1.1zM397 60.4h1.1v6h-1.1zM397 83.1h1.1v5.9h-1.1zM397 140.1h1.1v5.7h-1.1zM400.1 117.4h1.1v5.4h-1.1zM401.2 61h1.1v5.4h-1.1zM401.2 106.6h1.1v5.4h-1.1zM401.2 128.7h1.1v6h-1.1zM402.3 146h1.1v5.8h-1.1zM405.8 116.5h1.1v5.2h-1.1zM405.8 127.6h1.1v6h-1.1zM411.2 27.3h1.1v6.1h-1.1zM411.2 105.9h1.1v5.4h-1.1zM411.2 128.1h1.1v5.2h-1.1zM411.2 138.4h1.1v5.3h-1.1zM411.2 143.7h1.1v5.6h-1.1zM411.2 149.3h1.1v5.5h-1.1zM412.3 129.8h1.1v24.9h-1.1zM413.4 149h1.1v5.3h-1.1zM416.8 49.7h1.1v5.5h-1.1zM419 49.6h1.1v6.1h-1.1zM421.6 50h1.1v5.8h-1.1zM421.6 148.5h1.1v5.3h-1.1zM422.7 49.7h1.1v5.8h-1.1zM422.7 72.1h1.1v5.3h-1.1zM422.7 104.8h1.1v6.1h-1.1zM423.8 129.1h1.1v5.7h-1.1zM423.8 140.2h1.1v6h-1.1zM427.4 38.8h1.1v5.7h-1.1zM429.6 61h1.1v5.8h-1.1zM429.6 84.4h1.1v5.5h-1.1zM429.6 151.4h1.1v6.1h-1.1zM433 82.1h1.1v6h-1.1zM433 139h1.1v5.7h-1.1zM434.1 26.5h1.1v6h-1.1zM435.2 129.2h1.1v5.9h-1.1zM437.8 116.5h1.1v6h-1.1zM438.9 87.3h1.1v9.3h-1.1zM438.9 96.6h1.1v16.2h-1.1zM440 49.5h1.1v6h-1.1zM440 61.1h1.1v5.6h-1.1zM440 106.4h1.1v5.6h-1.1zM443.1 82.3h1.1v5.6h-1.1zM443.1 115.8h1.1v5.7h-1.1zM444.2 68.8h1.1v12.1h-1.1zM445.3 49.8h1.1v5.6h-1.1zM448.6 38.4h1.1v5.8h-1.1zM448.6 84.5h1.1v5.7h-1.1zM448.6 130.9h1.1v5.8h-1.1zM449.7 88.2h1.1v11.5h-1.1zM450.8 49h1.1v5.4h-1.1zM450.8 60.2h1.1v5.3h-1.1zM450.8 149.6h1.1v5.3h-1.1zM454 26.5h1.1v5.9h-1.1zM454 38.1h1.1v6h-1.1zM455.1 38h1.1v5.5h-1.1zM455.1 149.1h1.1v6.1h-1.1zM456.2 49.1h1.1v5.7h-1.1zM456.2 60.3h1.1v5.8h-1.1zM456.2 116.5h1.1v5.3h-1.1zM456.2 127.3h1.1v5.6h-1.1zM456.2 144.6h1.1v5.4h-1.1zM459.8 49.4h1.1v6.1h-1.1zM459.8 60.8h1.1v6.1h-1.1zM459.8 116.7h1.1v5.2h-1.1zM460.9 88.7h1.1v13.6h-1.1zM462 118.5h1.1v5.3h-1.1zM464.7 128.5h1.1v5.4h-1.1zM465.8 138.3h1.1v12.2h-1.1zM469.9 140h1.1v5.8h-1.1zM472.1 72.8h1.1v5.8h-1.1zM472.1 140.6h1.1v6h-1.1zM472.1 152.3h1.1v5.6h-1.1zM475.6 71.9h1.1v6.1h-1.1zM475.6 83.3h1.1v5.4h-1.1zM475.6 149.7h1.1v5.5h-1.1zM476.7 139.5h1.1v5.7h-1.1zM477.8 38.1h1.1v5.6h-1.1zM477.8 143.8h1.1v5.5h-1.1zM481.2 37.5h1.1v5.2h-1.1zM481.2 144.6h1.1v5.2h-1.1zM482.3 25.7h1.1v5.4h-1.1zM482.3 48.7h1.1v5.8h-1.1zM482.3 60.2h1.1v5.6h-1.1zM482.3 71.2h1.1v5.8h-1.1zM482.3 129.7h1.1v5.7h-1.1zM483.4 69.2h1.1v5.5h-1.1zM483.4 148.5h1.1v5.3h-1.1zM485.9 92.7h1.1v5.9h-1.1zM485.9 137.8h1.1v5.5h-1.1zM488.1 130h1.1v5.2h-1.1zM488.1 146.5h1.1v5.2h-1.1zM491.3 27.2h1.1v5.4h-1.1zM491.3 83.2h1.1v5.4h-1.1zM492.4 22h1.1v19.4h-1.1zM492.4 140.6h1.1v23.2h-1.1zM493.5 74h1.1v6h-1.1zM497.2 38.6h1.1v5.7h-1.1zM497.2 146h1.1v5.5h-1.1zM498.3 83.1h1.1v5.9h-1.1zM498.3 105.5h1.1v5.8h-1.1zM498.3 150.4h1.1v5.4h-1.1zM499.4 140.7h1.1v6.1h-1.1zM503.8 38.2h1.1v5.2h-1.1zM509.4 151.3h1.1v19.9h-1.1zM510.5 129.3h1.1v6h-1.1zM510.5 141.3h1.1v6h-1.1zM510.5 153.1h1.1v5.9h-1.1zM513.7 59.8h1.1v5.6h-1.1zM513.7 118h1.1v5.8h-1.1zM513.7 145.9h1.1v5.8h-1.1zM514.8 61.6h1.1v6h-1.1zM519 69.6h1.1v5.3h-1.1zM519 80.7h1.1v5.3h-1.1zM519 102.8h1.1v5.6h-1.1zM519 136.6h1.1v6.1h-1.1zM520.1 123.9h1.1v8.3h-1.1zM521.2 70.6h1.1v5.9h-1.1zM521.2 149.9h1.1v5.3h-1.1z"/>
<path fill="#78bcac" d="M326.5 49.5h1.1v6.1h-1.1zM330.8 46.7h1.1v5.4h-1.1zM331.9 38.8h1.1v19.5h-1.1zM331.9 93.9h1.1v21.5h-1.1zM333 127.9h1.1v5.2h-1.1zM336.5 94.4h1.1v6.1h-1.1zM337.6 26.7h1.1v6h-1.1zM337.6 61.2h1.1v5.2h-1.1zM337.6 71.9h1.1v6h-1.1zM337.6 83.6h1.1v6.1h-1.1zM337.6 146.2h1.1v5.2h-1.1zM337.6 151.4h1.1v5.3h-1.1zM338.7 37.2h1.1v5.5h-1.1zM341.8 128.1h1.1v5.2h-1.1zM344 149.6h1.1v5.7h-1.1zM348.8 42h1.1v8.6h-1.1zM348.8 133.7h1.1v21.1h-1.1zM349.9 25.8h1.1v5.7h-1.1zM349.9 114.8h1.1v5.2h-1.1zM349.9 148.1h1.1v5.7h-1.1zM355.6 25.3h1.1v5.8h-1.1zM355.6 47.9h1.1v5.5h-1.1zM358.5 36.4h1.1v5.5h-1.1zM358.5 103.7h1.1v5.2h-1.1zM359.6 139.4h1.1v5.2h-1.1zM360.7 69.7h1.1v5.8h-1.1zM360.7 93.4h1.1v5.3h-1.1zM363.2 117.5h1.1v5.7h-1.1zM364.3 36.7h1.1v5.9h-1.1zM365.4 59h1.1v6.1h-1.1zM365.4 104.5h1.1v5.2h-1.1zM365.4 143.5h1.1v6h-1.1zM365.4 149.5h1.1v6.1h-1.1zM369.3 41.5h1.1v24h-1.1zM369.3 100.5h1.1v14.3h-1.1zM369.3 114.8h1.1v15.2h-1.1zM370.4 38h1.1v5.9h-1.1zM370.4 94.7h1.1v5.3h-1.1zM370.4 117.3h1.1v5.5h-1.1zM370.4 139.2h1.1v5.7h-1.1zM373.8 138.9h1.1v5.4h-1.1zM374.9 43.8h1.1v19.5h-1.1zM379 37h1.1v5.3h-1.1zM379 103.8h1.1v5.2h-1.1zM379 136.4h1.1v5.3h-1.1zM379 141.7h1.1v5.8h-1.1zM381.2 69.7h1.1v5.3h-1.1zM385.5 142.3h1.1v12.6h-1.1zM386.6 38.4h1.1v5.2h-1.1zM386.6 49.6h1.1v5.9h-1.1zM386.6 151.9h1.1v5.3h-1.1zM390.9 60.6h1.1v5.8h-1.1zM390.9 148.7h1.1v5.2h-1.1zM390.9 153.8h1.1v6h-1.1zM392 83.1h1.1v5.3h-1.1zM392 116.4h1.1v5.2h-1.1zM392 144.3h1.1v6h-1.1zM394.8 82.6h1.1v6.1h-1.1zM400.1 27.7h1.1v5.5h-1.1zM400.1 72h1.1v5.6h-1.1zM400.1 140.2h1.1v5.5h-1.1zM401.2 152h1.1v5.7h-1.1zM402.3 116.8h1.1v6.1h-1.1zM402.3 140h1.1v6h-1.1zM405.8 150.7h1.1v5.2h-1.1zM406.9 48.1h1.1v10.3h-1.1zM406.9 145.1h1.1v9.6h-1.1zM412.3 44.9h1.1v9.3h-1.1zM413.4 63.4h1.1v6.1h-1.1zM413.4 143.3h1.1v5.6h-1.1zM416.8 38.1h1.1v6h-1.1zM416.8 72h1.1v5.5h-1.1zM416.8 105.1h1.1v5.8h-1.1zM417.9 51.1h1.1v5.6h-1.1zM417.9 73.8h1.1v5.8h-1.1zM421.6 116.2h1.1v5.2h-1.1zM421.6 126.9h1.1v5.4h-1.1zM421.6 153.8h1.1v5.6h-1.1zM422.7 93.8h1.1v5.5h-1.1zM422.7 145.5h1.1v5.6h-1.1zM423.8 26.6h1.1v6.1h-1.1zM423.8 38.2h1.1v5.6h-1.1zM423.8 83.2h1.1v5.7h-1.1zM423.8 146.3h1.1v5.4h-1.1zM427.4 118.2h1.1v5.9h-1.1zM427.4 129.5h1.1v5.2h-1.1zM428.5 111.9h1.1v21.3h-1.1zM433 26.4h1.1v5.8h-1.1zM434.1 138.8h1.1v5.7h-1.1zM437.8 59.3h1.1v6h-1.1zM437.8 105h1.1v6.1h-1.1zM438.9 133.9h1.1v19.1h-1.1zM443.1 49.6h1.1v5.6h-1.1zM443.1 105h1.1v5.6h-1.1zM443.1 144.2h1.1v5.4h-1.1zM444.2 80.9h1.1v15.2h-1.1zM444.2 112.2h1.1v14.1h-1.1zM444.2 149.5h1.1v10.3h-1.1zM445.3 26.8h1.1v5.8h-1.1zM445.3 38.6h1.1v5.8h-1.1zM445.3 72.4h1.1v5.5h-1.1zM445.3 83.2h1.1v5.6h-1.1zM445.3 94.6h1.1v5.4h-1.1zM445.3 105.5h1.1v5.4h-1.1zM445.3 138.8h1.1v5.3h-1.1zM445.3 150h1.1v5.8h-1.1zM448.6 50h1.1v6.1h-1.1zM449.7 22h1.1v13.8h-1.1zM450.8 27.1h1.1v5.5h-1.1zM450.8 143.8h1.1v5.8h-1.1zM454 50.2h1.1v6.1h-1.1zM454 116.7h1.1v5.4h-1.1zM454 150.1h1.1v5.9h-1.1zM455.1 49.3h1.1v6h-1.1zM455.1 96.5h1.1v6h-1.1zM460.9 121.1h1.1v14h-1.1zM462 26.7h1.1v5.7h-1.1zM462 38.4h1.1v5.8h-1.1zM462 72.2h1.1v6.1h-1.1zM462 95.9h1.1v5.3h-1.1zM464.7 49.8h1.1v5.3h-1.1zM464.7 83.1h1.1v5.6h-1.1zM465.8 30.3h1.1v15.7h-1.1zM465.8 79.3h1.1v23.9h-1.1zM465.8 103.2h1.1v14.2h-1.1zM465.8 150.5h1.1v10.7h-1.1zM466.9 50h1.1v6.1h-1.1zM466.9 73.5h1.1v6.1h-1.1zM466.9 85.4h1.1v5.6h-1.1zM466.9 96.1h1.1v5.2h-1.1zM466.9 117.7h1.1v5.3h-1.1zM469.9 128.9h1.1v5.4h-1.1zM471 95.1h1.1v6.1h-1.1zM472.1 50.7h1.1v5.3h-1.1zM472.1 106.7h1.1v5.6h-1.1zM475.6 60.9h1.1v5.4h-1.1zM475.6 105.6h1.1v5.4h-1.1zM476.7 39.3h1.1v5.5h-1.1zM476.7 61.4h1.1v5.7h-1.1zM476.7 106.5h1.1v5.6h-1.1zM476.7 117.4h1.1v5.6h-1.1zM477.8 70.8h1.1v5.7h-1.1zM481.2 82.6h1.1v5.5h-1.1zM481.2 93.9h1.1v5.7h-1.1zM481.2 105.5h1.1v5.7h-1.1zM481.2 116.9h1.1v5.5h-1.1zM483.4 58.6h1.1v5.2h-1.1zM485.9 48.8h1.1v5.6h-1.1zM485.9 59.8h1.1v5.8h-1.1zM487 22h1.1v23.7h-1.1zM487 114.3h1.1v13.8h-1.1zM488.1 73h1.1v5.9h-1.1zM491.3 71.5h1.1v5.9h-1.1zM491.3 94.6h1.1v5.7h-1.1zM491.3 128.6h1.1v5.5h-1.1zM493.5 62.4h1.1v6h-1.1zM493.5 98h1.1v5.5h-1.1zM493.5 142.8h1.1v5.5h-1.1zM497.2 49.6h1.1v6h-1.1zM497.2 117.2h1.1v5.3h-1.1zM497.2 151.5h1.1v5.3h-1.1zM498.3 49.3h1.1v5.5h-1.1zM498.3 60.8h1.1v5.7h-1.1zM498.3 72.1h1.1v5.8h-1.1zM498.3 94.2h1.1v5.6h-1.1zM499.4 128.7h1.1v5.9h-1.1zM502.7 60.7h1.1v5.2h-1.1zM502.7 127.8h1.1v5.9h-1.1zM503.8 95.4h1.1v5.9h-1.1zM503.8 106.5h1.1v5.8h-1.1zM503.8 117.8h1.1v5.5h-1.1zM504.9 117.3h1.1v5.8h-1.1zM504.9 128.3h1.1v5.4h-1.1zM504.9 139.4h1.1v5.2h-1.1zM508.3 105.3h1.1v5.7h-1.1zM508.3 145.1h1.1v5.5h-1.1zM509.4 38.8h1.1v11.9h-1.1zM510.5 49.4h1.1v5.8h-1.1zM510.5 61.1h1.1v5.8h-1.1zM513.7 26.4h1.1v5.4h-1.1zM513.7 71.5h1.1v6h-1.1zM513.7 129.8h1.1v5.2h-1.1zM513.7 140.5h1.1v5.4h-1.1zM514.8 146.4h1.1v5.8h-1.1zM514.8 152.3h1.1v5.9h-1.1zM515.9 96h1.1v6.1h-1.1zM519 36.5h1.1v5.3h-1.1zM519 47.6h1.1v5.5h-1.1zM521.2 25.4h1.1v5.6h-1.1zM521.2 82.5h1.1v5.9h-1.1z"/>
<path fill="#84c0a0" d="M325.4 25.4h1.1v6h-1.1zM325.4 48.8h1.1v5.5h-1.1zM325.4 81.9h1.1v5.9h-1.1zM325.4 116.3h1.1v5.9h-1.1zM326.5 129.8h1.1v5.7h-1.1zM327.6 115.9h1.1v5.9h-1.1zM333 93.9h1.1v5.7h-1.1zM336.5 49.5h1.1v6h-1.1zM336.5 148.8h1.1v5.4h-1.1zM338.7 94.9h1.1v5.5h-1.1zM338.7 117.1h1.1v6h-1.1zM341.8 72.5h1.1v5.6h-1.1zM341.8 84.2h1.1v5.2h-1.1zM341.8 139.1h1.1v5.9h-1.1zM342.9 50.7h1.1v8.6h-1.1zM344 48.9h1.1v6h-1.1zM344 117.4h1.1v5.3h-1.1zM347.7 38.2h1.1v5.4h-1.1zM347.7 116.8h1.1v5.4h-1.1zM347.7 145.1h1.1v5.2h-1.1zM349.9 37.4h1.1v5.6h-1.1zM349.9 81.3h1.1v5.5h-1.1zM349.9 125.8h1.1v5.7h-1.1zM349.9 153.8h1.1v5.4h-1.1zM353.4 26.1h1.1v5.5h-1.1zM353.4 117.1h1.1v5.5h-1.1zM354.5 119.2h1.1v17.9h-1.1zM355.6 71.2h1.1v5.9h-1.1zM355.6 140.2h1.1v5.9h-1.1zM358.5 148.5h1.1v6.1h-1.1zM359.6 47.1h1.1v5.8h-1.1zM359.6 58.5h1.1v5.5h-1.1zM359.6 70.1h1.1v6h-1.1zM360.7 143h1.1v5.7h-1.1zM363.2 26.3h1.1v5.5h-1.1zM363.2 105.9h1.1v5.8h-1.1zM363.2 128.7h1.1v5.7h-1.1zM364.3 82.9h1.1v6.1h-1.1zM364.3 145.1h1.1v5.7h-1.1zM365.4 26h1.1v5.7h-1.1zM368.2 38.4h1.1v5.3h-1.1zM368.2 94.3h1.1v5.3h-1.1zM368.2 116.7h1.1v5.9h-1.1zM370.4 27.4h1.1v5.3h-1.1zM370.4 49.2h1.1v5.5h-1.1zM370.4 71.9h1.1v6h-1.1zM370.4 105.8h1.1v5.4h-1.1zM370.4 144.9h1.1v6h-1.1zM373.8 37.2h1.1v5.5h-1.1zM373.8 128.1h1.1v5.3h-1.1zM376 82.8h1.1v5.5h-1.1zM376 127.9h1.1v6.1h-1.1zM376 140h1.1v5.7h-1.1zM376 145.7h1.1v5.4h-1.1zM379 70.2h1.1v6h-1.1zM380.1 119.7h1.1v22.6h-1.1zM381.2 25.8h1.1v5.5h-1.1zM381.2 36.6h1.1v5.6h-1.1zM381.2 80.5h1.1v5.9h-1.1zM381.2 92.4h1.1v5.7h-1.1zM381.2 103.5h1.1v6h-1.1zM384.4 49.4h1.1v5.6h-1.1zM384.4 105.5h1.1v5.7h-1.1zM384.4 116.8h1.1v6.1h-1.1zM386.6 118h1.1v6.1h-1.1zM389.8 72.3h1.1v5.4h-1.1zM389.8 106.2h1.1v6h-1.1zM390.9 48.6h1.1v6.1h-1.1zM390.9 92.9h1.1v5.3h-1.1zM390.9 137.3h1.1v5.5h-1.1zM392 38h1.1v5.5h-1.1zM392 150.2h1.1v5.8h-1.1zM394.8 59.9h1.1v6.1h-1.1zM395.9 77.7h1.1v15.7h-1.1zM397 129.2h1.1v5.2h-1.1zM397 145.7h1.1v5.3h-1.1zM400.1 38.7h1.1v5.7h-1.1zM400.1 83.2h1.1v6.1h-1.1zM401.2 82.9h1.1v6.1h-1.1zM401.2 140.5h1.1v5.7h-1.1zM402.3 39.2h1.1v5.2h-1.1zM402.3 84.4h1.1v5.2h-1.1zM405.8 36.9h1.1v5.7h-1.1zM406.9 66.9h1.1v21.8h-1.1zM406.9 122.4h1.1v22.7h-1.1zM408 26.7h1.1v6.1h-1.1zM408 38.6h1.1v5.3h-1.1zM408 60.6h1.1v6h-1.1zM408 83.4h1.1v5.8h-1.1zM408 105.5h1.1v5.2h-1.1zM408 144.4h1.1v5.5h-1.1zM411.2 84.2h1.1v5.2h-1.1zM412.3 54.2h1.1v9.5h-1.1zM412.3 87.6h1.1v18.3h-1.1zM416.8 27.1h1.1v5.8h-1.1zM416.8 93.9h1.1v5.5h-1.1zM417.9 95.6h1.1v5.7h-1.1zM419 84.4h1.1v5.3h-1.1zM421.6 27.3h1.1v6h-1.1zM421.6 38.5h1.1v5.7h-1.1zM421.6 71.8h1.1v5.9h-1.1zM421.6 94.4h1.1v5.5h-1.1zM422.7 26.6h1.1v5.9h-1.1zM422.7 83.4h1.1v5.2h-1.1zM423.8 72.1h1.1v6h-1.1zM428.5 59h1.1v24.4h-1.1zM429.6 38.2h1.1v5.5h-1.1zM429.6 72.4h1.1v5.9h-1.1zM429.6 95.4h1.1v5.5h-1.1zM429.6 117.2h1.1v5.9h-1.1zM429.6 140h1.1v5.5h-1.1zM429.6 145.5h1.1v5.9h-1.1zM435.2 94.8h1.1v5.3h-1.1zM437.8 48.2h1.1v5.8h-1.1zM437.8 93.2h1.1v6h-1.1zM437.8 144.5h1.1v6h-1.1zM440 95.3h1.1v5.4h-1.1zM440 117.8h1.1v6.1h-1.1zM443.1 60.4h1.1v5.3h-1.1zM443.1 93.9h1.1v5.3h-1.1zM443.1 138.1h1.1v6.1h-1.1zM445.3 60.9h1.1v6.1h-1.1zM448.6 26.9h1.1v6h-1.1zM448.6 61.8h1.1v5.9h-1.1zM449.7 49h1.1v12h-1.1zM449.7 75.6h1.1v12.6h-1.1zM449.7 116.6h1.1v17.7h-1.1zM455.1 61.3h1.1v5.9h-1.1zM455.1 132h1.1v5.4h-1.1zM456.2 38.4h1.1v5.4h-1.1zM456.2 94.9h1.1v5.2h-1.1zM456.2 105.3h1.1v5.8h-1.1zM460.9 64h1.1v24.7h-1.1zM462 84.2h1.1v5.6h-1.1zM464.7 94.1h1.1v5.7h-1.1zM466.9 62h1.1v5.8h-1.1zM469.9 61.2h1.1v5.5h-1.1zM469.9 94.9h1.1v6.1h-1.1zM469.9 151.7h1.1v5.2h-1.1zM471 27.7h1.1v5.4h-1.1zM471 39h1.1v5.9h-1.1zM472.1 129h1.1v5.8h-1.1zM475.6 38.1h1.1v5.9h-1.1zM475.6 94.6h1.1v5.5h-1.1zM475.6 127.1h1.1v5.2h-1.1zM476.7 72.5h1.1v5.5h-1.1zM476.7 83.7h1.1v5.3h-1.1zM476.7 128.5h1.1v5.8h-1.1zM476.7 145.2h1.1v5.7h-1.1zM477.8 149.3h1.1v5.5h-1.1zM482.3 146.6h1.1v6.1h-1.1zM483.4 48.1h1.1v5.3h-1.1zM483.4 102.4h1.1v5.5h-1.1zM483.4 142.6h1.1v5.9h-1.1zM485.9 104.1h1.1v5.9h-1.1zM485.9 115.5h1.1v5.3h-1.1zM487 70.5h1.1v23.6h-1.1zM488.1 151.7h1.1v5.7h-1.1zM491.3 151.1h1.1v5.5h-1.1zM492.4 125.1h1.1v15.5h-1.1zM493.5 39.6h1.1v5.6h-1.1zM493.5 86.1h1.1v6h-1.1zM493.5 130.8h1.1v6.1h-1.1zM493.5 148.3h1.1v6.1h-1.1zM497.2 95.1h1.1v5.4h-1.1zM497.2 139.9h1.1v6.1h-1.1zM498.3 116.7h1.1v6.1h-1.1zM498.3 128.1h1.1v5.8h-1.1zM499.4 27.4h1.1v5.9h-1.1zM499.4 39.1h1.1v5.5h-1.1zM499.4 50.6h1.1v5.7h-1.1zM499.4 146.9h1.1v6h-1.1zM502.7 139h1.1v5.2h-1.1zM503.8 128.9h1.1v5.8h-1.1zM503.8 140.4h1.1v5.2h-1.1zM503.8 145.6h1.1v5.9h-1.1zM508.3 27.2h1.1v5.5h-1.1zM508.3 82.5h1.1v6.1h-1.1zM509.4 74.6h1.1v20.3h-1.1zM510.5 27.1h1.1v5.2h-1.1zM514.8 106.4h1.1v5.7h-1.1zM515.9 61.5h1.1v5.3h-1.1zM515.9 142.4h1.1v5.3h-1.1zM519 58.6h1.1v5.6h-1.1zM519 147.9h1.1v5.8h-1.1zM520.1 132.3h1.1v11.6h-1.1z"/>
<path fill="#88c49c" d="M325.4 144.2h1.1v5.5h-1.1zM326.5 106.5h1.1v5.8h-1.1zM326.5 141h1.1v5.6h-1.1zM326.5 152.4h1.1v5.6h-1.1zM327.6 36.8h1.1v5.3h-1.1zM327.6 59.5h1.1v5.7h-1.1zM327.6 105h1.1v5.2h-1.1zM330.8 58.1h1.1v5.3h-1.1zM330.8 126.4h1.1v5.5h-1.1zM330.8 137.3h1.1v5.2h-1.1zM330.8 142.5h1.1v5.8h-1.1zM331.9 82.5h1.1v11.4h-1.1zM331.9 141.8h1.1v21.1h-1.1zM333 117.1h1.1v5.4h-1.1zM333 150.3h1.1v5.4h-1.1zM336.5 116.8h1.1v5.3h-1.1zM336.5 127.3h1.1v5.2h-1.1zM336.5 137.6h1.1v5.4h-1.1zM337.6 140.9h1.1v5.4h-1.1zM338.7 48.7h1.1v5.7h-1.1zM341.8 151h1.1v6.1h-1.1zM342.9 39.3h1.1v11.4h-1.1zM344 26.5h1.1v6.1h-1.1zM344 37.7h1.1v5.9h-1.1zM344 60.2h1.1v6.1h-1.1zM347.7 60.5h1.1v5.8h-1.1zM347.7 72.4h1.1v5.8h-1.1zM347.7 83.4h1.1v5.2h-1.1zM347.7 139.1h1.1v6h-1.1zM348.8 22h1.1v20h-1.1zM348.8 89.4h1.1v23.1h-1.1zM353.4 71.9h1.1v5.6h-1.1zM353.4 144.7h1.1v6h-1.1zM354.5 22h1.1v23.1h-1.1zM354.5 137.1h1.1v9.1h-1.1zM355.6 59.4h1.1v5.7h-1.1zM355.6 128.3h1.1v6.1h-1.1zM355.6 146.1h1.1v5.4h-1.1zM358.5 47.2h1.1v6.1h-1.1zM358.5 114.3h1.1v5.6h-1.1zM358.5 137.1h1.1v5.7h-1.1zM359.6 127.3h1.1v5.9h-1.1zM360.7 59.1h1.1v5.3h-1.1zM360.7 114.7h1.1v5.8h-1.1zM363.2 48.8h1.1v5.7h-1.1zM363.2 71.9h1.1v5.9h-1.1zM364.3 60h1.1v5.5h-1.1zM364.3 128.6h1.1v5.5h-1.1zM364.3 139.3h1.1v5.8h-1.1zM365.4 127h1.1v5.4h-1.1zM370.4 83.3h1.1v5.8h-1.1zM373.8 25.7h1.1v5.9h-1.1zM373.8 93.7h1.1v5.4h-1.1zM373.8 144.3h1.1v5.6h-1.1zM373.8 149.9h1.1v5.2h-1.1zM374.9 111h1.1v15.4h-1.1zM376 37.8h1.1v5.8h-1.1zM376 93.6h1.1v5.8h-1.1zM379 81.4h1.1v5.6h-1.1zM379 125.4h1.1v5.9h-1.1zM380.1 142.3h1.1v13.2h-1.1zM381.2 58.8h1.1v5.4h-1.1zM381.2 143.7h1.1v5.8h-1.1zM384.4 140h1.1v5.5h-1.1zM385.5 109.5h1.1v22.6h-1.1zM386.6 27.1h1.1v5.7h-1.1zM386.6 61.5h1.1v5.6h-1.1zM389.8 60.2h1.1v6h-1.1zM389.8 82.9h1.1v5.5h-1.1zM389.8 118h1.1v5.3h-1.1zM389.8 146.7h1.1v5.3h-1.1zM390.9 37.2h1.1v5.7h-1.1zM390.9 82.6h1.1v5.2h-1.1zM392 105.1h1.1v5.9h-1.1zM394.8 49h1.1v5.4h-1.1zM394.8 71.6h1.1v5.7h-1.1zM394.8 138.4h1.1v6h-1.1zM395.9 30.9h1.1v10.4h-1.1zM397 106.8h1.1v5.5h-1.1zM400.1 49.8h1.1v5.4h-1.1zM400.1 106.1h1.1v5.7h-1.1zM401.2 49.8h1.1v5.9h-1.1zM401.2 117.9h1.1v5.3h-1.1zM401.2 146.2h1.1v5.8h-1.1zM405.8 26.3h1.1v5.2h-1.1zM405.8 47.9h1.1v5.7h-1.1zM405.8 59.7h1.1v5.4h-1.1zM405.8 139.1h1.1v5.8h-1.1zM405.8 144.9h1.1v5.8h-1.1zM406.9 58.3h1.1v8.5h-1.1zM406.9 88.7h1.1v19.9h-1.1zM408 49.4h1.1v5.8h-1.1zM408 94.9h1.1v5.2h-1.1zM408 115.9h1.1v5.4h-1.1zM411.2 73.1h1.1v5.5h-1.1zM412.3 77.5h1.1v10h-1.1zM413.4 39.5h1.1v5.9h-1.1zM413.4 87.4h1.1v5.4h-1.1zM416.8 60.9h1.1v5.3h-1.1zM416.8 143.9h1.1v5.2h-1.1zM417.9 84.8h1.1v5.5h-1.1zM417.9 107h1.1v5.7h-1.1zM417.9 140.6h1.1v5.3h-1.1zM419 38.7h1.1v5.7h-1.1zM419 139.2h1.1v5.2h-1.1zM419 149.7h1.1v5.7h-1.1zM421.6 61h1.1v5.6h-1.1zM422.7 116.5h1.1v6h-1.1zM423.8 49.9h1.1v5.9h-1.1zM423.8 95.1h1.1v6.1h-1.1zM427.4 27.3h1.1v5.9h-1.1zM427.4 61.9h1.1v6h-1.1zM427.4 146.5h1.1v5.5h-1.1zM427.4 152h1.1v5.3h-1.1zM429.6 106.3h1.1v5.4h-1.1zM433 93.7h1.1v5.6h-1.1zM433 149.9h1.1v5.3h-1.1zM434.1 60.6h1.1v5.3h-1.1zM434.1 116.5h1.1v5.7h-1.1zM435.2 26.5h1.1v6h-1.1zM435.2 83.2h1.1v6.1h-1.1zM437.8 26.3h1.1v5.9h-1.1zM437.8 70.7h1.1v6h-1.1zM437.8 150.5h1.1v6.1h-1.1zM438.9 45h1.1v23.5h-1.1zM438.9 68.4h1.1v18.8h-1.1zM440 83.4h1.1v6h-1.1zM444.2 22h1.1v22.3h-1.1zM444.2 96.1h1.1v16.1h-1.1zM445.3 116.2h1.1v5.3h-1.1zM445.3 144.2h1.1v5.8h-1.1zM448.6 107.7h1.1v5.9h-1.1zM449.7 99.8h1.1v16.8h-1.1zM450.8 70.9h1.1v5.3h-1.1zM450.8 92.7h1.1v5.7h-1.1zM450.8 103.9h1.1v5.7h-1.1zM454 72.5h1.1v5.2h-1.1zM456.2 27h1.1v6h-1.1zM456.2 150.1h1.1v6.1h-1.1zM459.8 72.1h1.1v5.6h-1.1zM459.8 94.1h1.1v6.1h-1.1zM459.8 127.5h1.1v5.3h-1.1zM462 146.8h1.1v5.2h-1.1zM464.7 27.2h1.1v5.5h-1.1zM464.7 117.1h1.1v6.1h-1.1zM464.7 145.5h1.1v5.5h-1.1zM464.7 151.1h1.1v5.2h-1.1zM465.8 22h1.1v8.3h-1.1zM466.9 145.1h1.1v5.2h-1.1zM466.9 150.4h1.1v5.8h-1.1zM469.9 39.1h1.1v5.6h-1.1zM469.9 84.1h1.1v5.2h-1.1zM469.9 106.6h1.1v6.1h-1.1zM471 61.3h1.1v5.6h-1.1zM472.1 61.2h1.1v5.6h-1.1zM472.1 146.6h1.1v5.7h-1.1zM475.6 26.7h1.1v5.9h-1.1zM477.8 49.4h1.1v5.3h-1.1zM477.8 93h1.1v5.6h-1.1zM477.8 116h1.1v5.2h-1.1zM477.8 126.7h1.1v6h-1.1zM481.2 59.8h1.1v5.6h-1.1zM481.2 149.7h1.1v6h-1.1zM482.3 36.6h1.1v6.1h-1.1zM482.3 82.6h1.1v5.9h-1.1zM483.4 37.3h1.1v5.3h-1.1zM483.4 153.8h1.1v5.8h-1.1zM485.9 126.9h1.1v5.2h-1.1zM488.1 27.6h1.1v5.4h-1.1zM488.1 106.8h1.1v5.9h-1.1zM491.3 60.7h1.1v5.5h-1.1zM497.2 61.6h1.1v6.1h-1.1zM497.2 84.3h1.1v5.5h-1.1zM498.3 37.9h1.1v6h-1.1zM499.4 62h1.1v5.2h-1.1zM499.4 83.5h1.1v5.9h-1.1zM499.4 94.8h1.1v5.9h-1.1zM499.4 117.3h1.1v6h-1.1zM502.7 38.6h1.1v5.6h-1.1zM502.7 71.3h1.1v5.5h-1.1zM502.7 93.7h1.1v5.2h-1.1zM503.8 151.5h1.1v5.6h-1.1zM504.9 37.9h1.1v5.6h-1.1zM508.3 94.6h1.1v5.4h-1.1zM508.3 128.3h1.1v5.4h-1.1zM510.5 37.9h1.1v5.4h-1.1zM510.5 72.2h1.1v5.5h-1.1zM510.5 94.7h1.1v5.6h-1.1zM514.8 27h1.1v5.7h-1.1zM514.8 140.7h1.1v5.7h-1.1zM515.9 84.6h1.1v5.2h-1.1zM515.9 108h1.1v5.6h-1.1zM515.9 119.4h1.1v6.1h-1.1zM519 142.7h1.1v5.2h-1.1zM520.1 143.9h1.1v21.8h-1.1zM521.2 59.1h1.1v6h-1.1zM521.2 144h1.1v5.9h-1.1z"/>
<path fill="#a898a4" d="M326.5 135.5h1.1v5.6h-1.1zM327.6 31.3h1.1v5.4h-1.1zM327.6 121.8h1.1v6.1h-1.1zM330.8 41.3h1.1v5.4h-1.1zM330.8 63.3h1.1v5.3h-1.1zM330.8 85.7h1.1v6.1h-1.1zM330.8 131.9h1.1v5.4h-1.1zM333 31.2h1.1v5.8h-1.1zM333 54h1.1v5.3h-1.1zM333 99.5h1.1v5.7h-1.1zM333 111h1.1v6.1h-1.1zM336.5 132.4h1.1v5.2h-1.1zM337.6 66.4h1.1v5.5h-1.1zM337.6 124h1.1v5.5h-1.1zM338.7 111.5h1.1v5.6h-1.1zM341.8 32.4h1.1v5.8h-1.1zM341.8 66.7h1.1v5.8h-1.1zM344 43.6h1.1v5.2h-1.1zM344 88.8h1.1v5.3h-1.1zM344 122.7h1.1v5.2h-1.1zM353.4 31.7h1.1v5.8h-1.1zM353.4 42.8h1.1v5.6h-1.1zM353.4 99.9h1.1v6h-1.1zM353.4 133.8h1.1v5.6h-1.1zM355.6 42.1h1.1v5.8h-1.1zM355.6 65.1h1.1v6.1h-1.1zM355.6 134.4h1.1v5.8h-1.1zM358.5 53.3h1.1v5.2h-1.1zM359.6 76.1h1.1v6h-1.1zM359.6 88.2h1.1v6.1h-1.1zM359.6 99.7h1.1v5.7h-1.1zM359.6 121.8h1.1v5.5h-1.1zM363.2 100.3h1.1v5.6h-1.1zM364.3 77.3h1.1v5.6h-1.1zM364.3 88.9h1.1v5.5h-1.1zM364.3 123h1.1v5.6h-1.1zM365.4 87h1.1v6.1h-1.1zM365.4 109.7h1.1v5.4h-1.1zM365.4 121h1.1v6h-1.1zM368.2 43.7h1.1v5.9h-1.1zM368.2 122.7h1.1v5.3h-1.1zM368.2 133.2h1.1v5.8h-1.1zM370.4 43.9h1.1v5.3h-1.1zM370.4 54.6h1.1v5.7h-1.1zM376 111.5h1.1v5.6h-1.1zM379 76.2h1.1v5.2h-1.1zM379 87h1.1v5.8h-1.1zM381.2 86.4h1.1v6h-1.1zM384.4 66h1.1v5.5h-1.1zM386.6 67.1h1.1v5.5h-1.1zM386.6 89.6h1.1v5.2h-1.1zM386.6 135.4h1.1v5.4h-1.1zM389.8 112.2h1.1v5.8h-1.1zM390.9 42.9h1.1v5.8h-1.1zM390.9 77h1.1v5.5h-1.1zM392 32.5h1.1v5.4h-1.1zM397 66.4h1.1v5.8h-1.1zM397 100.8h1.1v6h-1.1zM400.1 44.4h1.1v5.4h-1.1zM400.1 66.8h1.1v5.2h-1.1zM400.1 111.8h1.1v5.5h-1.1zM401.2 43.9h1.1v5.9h-1.1zM402.3 44.4h1.1v5.4h-1.1zM402.3 55.7h1.1v5.4h-1.1zM402.3 67.1h1.1v5.7h-1.1zM402.3 78.7h1.1v5.7h-1.1zM402.3 111.2h1.1v5.6h-1.1zM405.8 42.6h1.1v5.3h-1.1zM405.8 76.5h1.1v5.8h-1.1zM405.8 133.5h1.1v5.6h-1.1zM408 66.5h1.1v5.4h-1.1zM411.2 56.4h1.1v5.6h-1.1zM413.4 45.3h1.1v5.9h-1.1zM416.8 55.2h1.1v5.7h-1.1zM416.8 122.2h1.1v5.5h-1.1zM416.8 133.2h1.1v5.5h-1.1zM417.9 90.3h1.1v5.3h-1.1zM419 67.5h1.1v5.8h-1.1zM419 133.8h1.1v5.4h-1.1zM421.6 77.7h1.1v5.8h-1.1zM422.7 66.4h1.1v5.7h-1.1zM422.7 110.9h1.1v5.6h-1.1zM423.8 88.9h1.1v6.1h-1.1zM423.8 134.8h1.1v5.4h-1.1zM427.4 68h1.1v5.5h-1.1zM427.4 79.6h1.1v5.6h-1.1zM427.4 90.7h1.1v5.2h-1.1zM429.6 43.7h1.1v5.7h-1.1zM429.6 123.1h1.1v5.6h-1.1zM433 43.2h1.1v5.9h-1.1zM434.1 76.8h1.1v5.9h-1.1zM434.1 122.2h1.1v5.2h-1.1zM435.2 44h1.1v5.5h-1.1zM435.2 100.1h1.1v5.7h-1.1zM437.8 87.7h1.1v5.5h-1.1zM437.8 111.1h1.1v5.4h-1.1zM440 77.9h1.1v5.5h-1.1zM443.1 32.5h1.1v5.5h-1.1zM443.1 99.2h1.1v5.8h-1.1zM445.3 67h1.1v5.4h-1.1zM445.3 100h1.1v5.5h-1.1zM445.3 111h1.1v5.3h-1.1zM448.6 78.9h1.1v5.6h-1.1zM448.6 101.8h1.1v5.9h-1.1zM448.6 125h1.1v5.9h-1.1zM448.6 136.7h1.1v5.9h-1.1zM454 88.8h1.1v5.6h-1.1zM455.1 114.5h1.1v5.9h-1.1zM455.1 126.4h1.1v5.6h-1.1zM456.2 33h1.1v5.4h-1.1zM456.2 66.2h1.1v6.1h-1.1zM456.2 78.3h1.1v5.8h-1.1zM456.2 121.8h1.1v5.5h-1.1zM459.8 100.2h1.1v5.5h-1.1zM462 89.8h1.1v6.1h-1.1zM462 112.4h1.1v6.1h-1.1zM464.7 123.2h1.1v5.3h-1.1zM471 33.1h1.1v5.9h-1.1zM471 66.8h1.1v6.1h-1.1zM471 101.2h1.1v5.4h-1.1zM471 112.5h1.1v5.4h-1.1zM472.1 89.8h1.1v6.1h-1.1zM475.6 44h1.1v5.3h-1.1zM475.6 110.9h1.1v5.2h-1.1zM476.7 123.1h1.1v5.5h-1.1zM477.8 76.5h1.1v5.5h-1.1zM477.8 110.1h1.1v5.9h-1.1zM477.8 132.7h1.1v5.7h-1.1zM481.2 122.4h1.1v5.4h-1.1zM482.3 76.9h1.1v5.6h-1.1zM483.4 31.3h1.1v6h-1.1zM485.9 120.8h1.1v6.1h-1.1zM485.9 132.1h1.1v5.7h-1.1zM488.1 32.9h1.1v5.5h-1.1zM488.1 89.9h1.1v5.9h-1.1zM488.1 135.2h1.1v5.3h-1.1zM491.3 66.2h1.1v5.4h-1.1zM493.5 33.6h1.1v6h-1.1zM493.5 80h1.1v6.1h-1.1zM493.5 92h1.1v6h-1.1zM497.2 32.9h1.1v5.7h-1.1zM498.3 32.6h1.1v5.3h-1.1zM498.3 134h1.1v5.2h-1.1zM499.4 33.3h1.1v5.9h-1.1zM499.4 89.4h1.1v5.4h-1.1zM499.4 100.7h1.1v5.6h-1.1zM502.7 88h1.1v5.7h-1.1zM503.8 32.6h1.1v5.6h-1.1zM503.8 78.2h1.1v5.8h-1.1zM504.9 43.5h1.1v5.7h-1.1zM504.9 133.7h1.1v5.6h-1.1zM508.3 66h1.1v5.4h-1.1zM510.5 55.2h1.1v5.9h-1.1zM513.7 54.2h1.1v5.6h-1.1zM513.7 100.3h1.1v6h-1.1zM513.7 135h1.1v5.5h-1.1zM514.8 67.7h1.1v5.3h-1.1zM515.9 66.8h1.1v6.1h-1.1zM515.9 113.6h1.1v5.8h-1.1zM521.2 88.4h1.1v5.2h-1.1z"/>
<path fill="#b09a98" d="M325.4 99.6h1.1v5.2h-1.1zM327.6 88.3h1.1v5.5h-1.1zM327.6 99.6h1.1v5.4h-1.1zM327.6 110.3h1.1v5.7h-1.1zM330.8 31h1.1v5.2h-1.1zM330.8 97.3h1.1v6.1h-1.1zM333 122.6h1.1v5.3h-1.1zM336.5 88.5h1.1v5.9h-1.1zM337.6 32.8h1.1v5.9h-1.1zM337.6 77.9h1.1v5.7h-1.1zM337.6 100.7h1.1v6.1h-1.1zM338.7 77.6h1.1v5.4h-1.1zM338.7 123.1h1.1v6.1h-1.1zM341.8 89.4h1.1v5.4h-1.1zM341.8 111.7h1.1v5.8h-1.1zM347.7 43.6h1.1v5.8h-1.1zM347.7 133.7h1.1v5.3h-1.1zM355.6 88.5h1.1v5.9h-1.1zM358.5 41.8h1.1v5.4h-1.1zM358.5 76h1.1v5.2h-1.1zM358.5 119.9h1.1v5.7h-1.1zM359.6 110.6h1.1v5.6h-1.1zM360.7 30.5h1.1v5.7h-1.1zM360.7 87.5h1.1v5.9h-1.1zM360.7 98.7h1.1v5.4h-1.1zM360.7 131.6h1.1v5.4h-1.1zM363.2 88.8h1.1v5.9h-1.1zM363.2 111.7h1.1v5.9h-1.1zM363.2 123.2h1.1v5.5h-1.1zM364.3 42.6h1.1v6h-1.1zM364.3 65.5h1.1v5.7h-1.1zM364.3 112h1.1v5.8h-1.1zM368.2 88.5h1.1v5.7h-1.1zM370.4 32.7h1.1v5.3h-1.1zM370.4 122.8h1.1v5.2h-1.1zM373.8 31.6h1.1v5.6h-1.1zM376 65.8h1.1v5.6h-1.1zM379 119.5h1.1v5.9h-1.1zM381.2 42.1h1.1v5.3h-1.1zM381.2 75h1.1v5.5h-1.1zM381.2 132.5h1.1v6.1h-1.1zM384.4 111.3h1.1v5.6h-1.1zM386.6 55.6h1.1v5.9h-1.1zM389.8 88.5h1.1v6h-1.1zM389.8 134.9h1.1v5.6h-1.1zM390.9 66.4h1.1v5.2h-1.1zM392 99.9h1.1v5.2h-1.1zM392 121.6h1.1v5.5h-1.1zM392 133.1h1.1v5.9h-1.1zM394.8 122.7h1.1v5.3h-1.1zM394.8 133.2h1.1v5.2h-1.1zM397 112.2h1.1v5.9h-1.1zM400.1 101h1.1v5.2h-1.1zM400.1 122.8h1.1v5.5h-1.1zM402.3 100.3h1.1v5.6h-1.1zM405.8 87.6h1.1v5.7h-1.1zM405.8 99.1h1.1v5.3h-1.1zM408 32.9h1.1v5.7h-1.1zM408 89.2h1.1v5.7h-1.1zM411.2 111.2h1.1v5.7h-1.1zM413.4 104.2h1.1v5.7h-1.1zM416.8 88.5h1.1v5.5h-1.1zM416.8 99.4h1.1v5.7h-1.1zM416.8 111h1.1v5.3h-1.1zM417.9 67.8h1.1v6h-1.1zM417.9 79.6h1.1v5.2h-1.1zM421.6 55.8h1.1v5.2h-1.1zM421.6 121.4h1.1v5.5h-1.1zM422.7 32.6h1.1v5.5h-1.1zM422.7 99.3h1.1v5.5h-1.1zM427.4 33.2h1.1v5.7h-1.1zM427.4 55.9h1.1v6.1h-1.1zM429.6 32.7h1.1v5.6h-1.1zM429.6 111.7h1.1v5.5h-1.1zM433 32.1h1.1v5.4h-1.1zM433 122.5h1.1v5.3h-1.1zM434.1 100.1h1.1v5.6h-1.1zM437.8 122.5h1.1v5.6h-1.1zM440 32.5h1.1v5.6h-1.1zM440 111.9h1.1v5.8h-1.1zM443.1 55.2h1.1v5.2h-1.1zM443.1 65.7h1.1v5.6h-1.1zM443.1 110.6h1.1v5.2h-1.1zM445.3 77.8h1.1v5.4h-1.1zM445.3 121.5h1.1v5.9h-1.1zM450.8 32.6h1.1v5.6h-1.1zM450.8 109.6h1.1v5.4h-1.1zM455.1 90.3h1.1v6.1h-1.1zM456.2 111.1h1.1v5.4h-1.1zM459.8 66.9h1.1v5.2h-1.1zM459.8 121.9h1.1v5.7h-1.1zM462 101.2h1.1v5.6h-1.1zM462 123.8h1.1v5.6h-1.1zM464.7 55.1h1.1v5.9h-1.1zM464.7 77.5h1.1v5.6h-1.1zM464.7 111.1h1.1v6h-1.1zM469.9 33.3h1.1v5.7h-1.1zM469.9 134.4h1.1v5.6h-1.1zM472.1 33.4h1.1v5.7h-1.1zM472.1 45h1.1v5.7h-1.1zM472.1 66.8h1.1v6h-1.1zM475.6 100.2h1.1v5.4h-1.1zM476.7 33.4h1.1v5.9h-1.1zM476.7 44.8h1.1v5.3h-1.1zM476.7 89h1.1v5.8h-1.1zM477.8 121.3h1.1v5.4h-1.1zM481.2 76.8h1.1v5.9h-1.1zM481.2 99.7h1.1v5.9h-1.1zM482.3 31.1h1.1v5.5h-1.1zM482.3 42.7h1.1v5.9h-1.1zM482.3 100.1h1.1v6h-1.1zM482.3 111.9h1.1v5.8h-1.1zM482.3 135.4h1.1v5.4h-1.1zM483.4 42.6h1.1v5.5h-1.1zM483.4 53.4h1.1v5.2h-1.1zM485.9 54.4h1.1v5.5h-1.1zM488.1 55.7h1.1v5.2h-1.1zM488.1 101.5h1.1v5.3h-1.1zM491.3 32.6h1.1v5.3h-1.1zM491.3 54.8h1.1v5.9h-1.1zM491.3 77.4h1.1v5.8h-1.1zM497.2 44.3h1.1v5.3h-1.1zM497.2 122.5h1.1v6h-1.1zM498.3 43.9h1.1v5.4h-1.1zM498.3 122.8h1.1v5.3h-1.1zM499.4 67.2h1.1v5.5h-1.1zM499.4 123.3h1.1v5.4h-1.1zM502.7 33.4h1.1v5.2h-1.1zM502.7 110.4h1.1v5.5h-1.1zM503.8 89.2h1.1v6.1h-1.1zM503.8 123.3h1.1v5.5h-1.1zM503.8 134.7h1.1v5.7h-1.1zM504.9 32.5h1.1v5.4h-1.1zM504.9 65.8h1.1v5.2h-1.1zM504.9 111.3h1.1v6h-1.1zM508.3 32.7h1.1v5.9h-1.1zM508.3 122.2h1.1v6.1h-1.1zM510.5 32.3h1.1v5.6h-1.1zM513.7 123.8h1.1v6h-1.1zM514.8 32.7h1.1v6h-1.1zM514.8 55.7h1.1v5.9h-1.1zM515.9 44h1.1v5.5h-1.1zM515.9 89.9h1.1v6.1h-1.1zM519 41.8h1.1v5.8h-1.1zM519 130.9h1.1v5.7h-1.1z"/>
<path fill="#b0a494" d="M325.4 31.4h1.1v5.8h-1.1zM325.4 65.3h1.1v5.9h-1.1zM325.4 76.6h1.1v5.3h-1.1zM325.4 110.2h1.1v6.1h-1.1zM325.4 133.4h1.1v5.5h-1.1zM326.5 55.6h1.1v5.7h-1.1zM326.5 78.1h1.1v6.1h-1.1zM330.8 74.2h1.1v5.9h-1.1zM333 42.6h1.1v5.4h-1.1zM336.5 100.5h1.1v5.2h-1.1zM337.6 44.3h1.1v5.7h-1.1zM337.6 55.7h1.1v5.5h-1.1zM337.6 135h1.1v5.8h-1.1zM338.7 135.2h1.1v5.3h-1.1zM341.8 78.1h1.1v6.1h-1.1zM344 111.4h1.1v6h-1.1zM347.7 122.2h1.1v5.7h-1.1zM349.9 53.8h1.1v5.7h-1.1zM349.9 109.6h1.1v5.2h-1.1zM353.4 65.9h1.1v6h-1.1zM355.6 53.4h1.1v6h-1.1zM359.6 133.3h1.1v6.1h-1.1zM360.7 75.5h1.1v5.9h-1.1zM360.7 109.3h1.1v5.4h-1.1zM364.3 134.1h1.1v5.2h-1.1zM365.4 42.4h1.1v5.4h-1.1zM365.4 65h1.1v5.7h-1.1zM365.4 98.4h1.1v6.1h-1.1zM365.4 132.4h1.1v5.6h-1.1zM368.2 54.8h1.1v5.6h-1.1zM368.2 77h1.1v5.5h-1.1zM368.2 111.2h1.1v5.5h-1.1zM373.8 76.9h1.1v5.4h-1.1zM376 134h1.1v6h-1.1zM379 53.5h1.1v5.5h-1.1zM381.2 120.6h1.1v5.9h-1.1zM384.4 54.9h1.1v5.7h-1.1zM384.4 123h1.1v5.6h-1.1zM384.4 134h1.1v6h-1.1zM386.6 32.8h1.1v5.6h-1.1zM386.6 124.1h1.1v5.9h-1.1zM390.9 109.6h1.1v5.8h-1.1zM390.9 131.2h1.1v6.1h-1.1zM392 88.4h1.1v6h-1.1zM392 111h1.1v5.4h-1.1zM394.8 42.9h1.1v6.1h-1.1zM397 123.7h1.1v5.5h-1.1zM400.1 77.6h1.1v5.6h-1.1zM400.1 89.3h1.1v6h-1.1zM401.2 32.9h1.1v5.3h-1.1zM401.2 100.5h1.1v6.1h-1.1zM401.2 134.8h1.1v5.8h-1.1zM405.8 31.5h1.1v5.4h-1.1zM408 121.3h1.1v6h-1.1zM411.2 33.4h1.1v5.5h-1.1zM413.4 57.3h1.1v6.1h-1.1zM413.4 92.8h1.1v5.6h-1.1zM416.8 44.1h1.1v5.6h-1.1zM416.8 66.2h1.1v5.8h-1.1zM417.9 101.3h1.1v5.7h-1.1zM417.9 135.1h1.1v5.5h-1.1zM421.6 66.6h1.1v5.2h-1.1zM421.6 88.9h1.1v5.5h-1.1zM421.6 110.8h1.1v5.4h-1.1zM422.7 77.4h1.1v6h-1.1zM422.7 133.9h1.1v5.6h-1.1zM423.8 32.7h1.1v5.5h-1.1zM423.8 43.9h1.1v6h-1.1zM427.4 112.8h1.1v5.4h-1.1zM429.6 100.9h1.1v5.4h-1.1zM433 65.6h1.1v5.3h-1.1zM433 76.9h1.1v5.2h-1.1zM435.2 66.8h1.1v5.2h-1.1zM435.2 135.1h1.1v6h-1.1zM437.8 99.2h1.1v5.8h-1.1zM440 123.9h1.1v6.1h-1.1zM445.3 55.3h1.1v5.6h-1.1zM448.6 32.9h1.1v5.5h-1.1zM450.8 43.4h1.1v5.6h-1.1zM450.8 98.4h1.1v5.5h-1.1zM456.2 100.1h1.1v5.2h-1.1zM459.8 43.8h1.1v5.5h-1.1zM459.8 110.9h1.1v5.8h-1.1zM464.7 88.7h1.1v5.4h-1.1zM464.7 133.9h1.1v5.8h-1.1zM466.9 33.6h1.1v5.5h-1.1zM466.9 56.1h1.1v5.9h-1.1zM469.9 55.4h1.1v5.8h-1.1zM469.9 78.3h1.1v5.8h-1.1zM469.9 89.4h1.1v5.6h-1.1zM471 44.9h1.1v5.3h-1.1zM471 134.4h1.1v5.8h-1.1zM472.1 78.6h1.1v5.2h-1.1zM472.1 112.3h1.1v5.6h-1.1zM475.6 66.3h1.1v5.7h-1.1zM476.7 55.7h1.1v5.7h-1.1zM476.7 100.6h1.1v5.8h-1.1zM476.7 134.3h1.1v5.2h-1.1zM477.8 32.8h1.1v5.4h-1.1zM477.8 65.4h1.1v5.4h-1.1zM482.3 65.8h1.1v5.4h-1.1zM483.4 131.3h1.1v5.5h-1.1zM491.3 111.9h1.1v5.4h-1.1zM493.5 45.2h1.1v5.4h-1.1zM493.5 125.4h1.1v5.4h-1.1zM497.2 134.3h1.1v5.6h-1.1zM498.3 66.5h1.1v5.6h-1.1zM498.3 77.9h1.1v5.2h-1.1zM499.4 77.9h1.1v5.6h-1.1zM499.4 112h1.1v5.3h-1.1zM502.7 44.2h1.1v5.5h-1.1zM503.8 55.1h1.1v5.4h-1.1zM503.8 101.2h1.1v5.3h-1.1zM503.8 112.3h1.1v5.5h-1.1zM504.9 99.9h1.1v5.4h-1.1zM508.3 44.2h1.1v5.2h-1.1zM508.3 100h1.1v5.3h-1.1zM508.3 133.7h1.1v6.1h-1.1zM510.5 43.3h1.1v6.1h-1.1zM510.5 112.2h1.1v6.1h-1.1zM510.5 123.8h1.1v5.5h-1.1zM510.5 135.4h1.1v5.9h-1.1zM513.7 43.2h1.1v5.3h-1.1zM513.7 65.4h1.1v6.1h-1.1zM513.7 77.4h1.1v5.9h-1.1zM514.8 44.1h1.1v5.5h-1.1zM514.8 134.7h1.1v6h-1.1zM515.9 125.5h1.1v5.6h-1.1zM519 31.1h1.1v5.4h-1.1zM519 53.1h1.1v5.5h-1.1zM521.2 53.2h1.1v5.9h-1.1z"/>
<path fill="#b89c8c" d="M326.5 32.2h1.1v5.8h-1.1zM326.5 44h1.1v5.6h-1.1zM326.5 90.2h1.1v5.8h-1.1zM326.5 112.3h1.1v6h-1.1zM327.6 134h1.1v5.3h-1.1zM330.8 109h1.1v5.8h-1.1zM333 77.1h1.1v5.6h-1.1zM333 88.4h1.1v5.5h-1.1zM336.5 66.6h1.1v5.3h-1.1zM337.6 89.7h1.1v5.4h-1.1zM338.7 31.2h1.1v6.1h-1.1zM338.7 42.8h1.1v5.9h-1.1zM338.7 54.4h1.1v6.1h-1.1zM338.7 66.4h1.1v5.9h-1.1zM338.7 89h1.1v5.9h-1.1zM341.8 55.8h1.1v5.3h-1.1zM344 66.3h1.1v5.7h-1.1zM344 99.9h1.1v5.4h-1.1zM347.7 55.3h1.1v5.2h-1.1zM347.7 78.2h1.1v5.2h-1.1zM349.9 43.1h1.1v5.5h-1.1zM349.9 76h1.1v5.3h-1.1zM349.9 131.5h1.1v5.7h-1.1zM353.4 54.2h1.1v5.6h-1.1zM353.4 122.6h1.1v5.2h-1.1zM355.6 77.1h1.1v5.9h-1.1zM355.6 99.6h1.1v5.6h-1.1zM355.6 111.1h1.1v5.7h-1.1zM358.5 98h1.1v5.7h-1.1zM359.6 30.8h1.1v5.7h-1.1zM359.6 64h1.1v6.1h-1.1zM360.7 64.5h1.1v5.3h-1.1zM364.3 30.8h1.1v5.9h-1.1zM365.4 76.4h1.1v5.2h-1.1zM368.2 32.5h1.1v6h-1.1zM370.4 77.9h1.1v5.3h-1.1zM370.4 89.1h1.1v5.6h-1.1zM370.4 99.9h1.1v5.8h-1.1zM373.8 64.9h1.1v5.8h-1.1zM373.8 88.1h1.1v5.6h-1.1zM376 32.2h1.1v5.5h-1.1zM376 43.6h1.1v5.6h-1.1zM376 54.6h1.1v5.3h-1.1zM376 77.1h1.1v5.7h-1.1zM379 30.9h1.1v6.1h-1.1zM379 42.3h1.1v5.2h-1.1zM379 65h1.1v5.2h-1.1zM379 109h1.1v5.2h-1.1zM381.2 64.1h1.1v5.6h-1.1zM381.2 98.2h1.1v5.3h-1.1zM384.4 99.5h1.1v6h-1.1zM386.6 43.6h1.1v6h-1.1zM389.8 31.6h1.1v5.8h-1.1zM392 65.8h1.1v5.6h-1.1zM394.8 54.5h1.1v5.5h-1.1zM394.8 77.3h1.1v5.3h-1.1zM397 32.6h1.1v5.4h-1.1zM397 54.6h1.1v5.7h-1.1zM397 88.9h1.1v6h-1.1zM397 134.4h1.1v5.7h-1.1zM400.1 55.2h1.1v5.5h-1.1zM400.1 134.3h1.1v5.9h-1.1zM401.2 66.4h1.1v5.3h-1.1zM401.2 77.4h1.1v5.5h-1.1zM401.2 89h1.1v5.6h-1.1zM401.2 112h1.1v5.8h-1.1zM402.3 33.3h1.1v5.9h-1.1zM405.8 53.6h1.1v6.1h-1.1zM408 43.9h1.1v5.5h-1.1zM408 55.2h1.1v5.4h-1.1zM408 100.1h1.1v5.4h-1.1zM408 110.7h1.1v5.2h-1.1zM411.2 67.9h1.1v5.3h-1.1zM411.2 78.6h1.1v5.6h-1.1zM411.2 89.4h1.1v5.5h-1.1zM411.2 122.8h1.1v5.3h-1.1zM411.2 133.3h1.1v5.2h-1.1zM413.4 33.5h1.1v5.9h-1.1zM413.4 126.4h1.1v5.6h-1.1zM413.4 138h1.1v5.3h-1.1zM417.9 123.9h1.1v5.6h-1.1zM419 78.5h1.1v6h-1.1zM419 122h1.1v6.1h-1.1zM421.6 44.2h1.1v5.8h-1.1zM422.7 43.5h1.1v6.1h-1.1zM423.8 123.5h1.1v5.6h-1.1zM427.4 44.5h1.1v5.5h-1.1zM427.4 124.1h1.1v5.4h-1.1zM429.6 89.9h1.1v5.6h-1.1zM429.6 134.2h1.1v5.8h-1.1zM433 110.9h1.1v5.6h-1.1zM434.1 43.7h1.1v5.2h-1.1zM434.1 88.7h1.1v5.7h-1.1zM434.1 111.2h1.1v5.3h-1.1zM435.2 32.6h1.1v6.1h-1.1zM435.2 55.4h1.1v5.8h-1.1zM435.2 111.7h1.1v5.5h-1.1zM435.2 123.2h1.1v5.9h-1.1zM437.8 42.9h1.1v5.3h-1.1zM440 55.6h1.1v5.5h-1.1zM440 66.7h1.1v5.5h-1.1zM440 135.3h1.1v6h-1.1zM443.1 77h1.1v5.3h-1.1zM445.3 44.4h1.1v5.3h-1.1zM445.3 88.9h1.1v5.7h-1.1zM448.6 56h1.1v5.7h-1.1zM448.6 113.6h1.1v5.5h-1.1zM454 32.4h1.1v5.7h-1.1zM454 67.3h1.1v5.2h-1.1zM454 77.7h1.1v5.4h-1.1zM454 111.1h1.1v5.5h-1.1zM455.1 32h1.1v5.9h-1.1zM455.1 43.5h1.1v5.8h-1.1zM455.1 79.1h1.1v6h-1.1zM455.1 102.5h1.1v6h-1.1zM455.1 137.3h1.1v5.9h-1.1zM459.8 77.7h1.1v5.3h-1.1zM459.8 132.8h1.1v5.6h-1.1zM462 32.4h1.1v6h-1.1zM462 44.3h1.1v5.3h-1.1zM462 134.9h1.1v5.9h-1.1zM464.7 32.7h1.1v5.6h-1.1zM466.9 67.8h1.1v5.7h-1.1zM466.9 112.3h1.1v5.4h-1.1zM466.9 134h1.1v5.5h-1.1zM472.1 123.9h1.1v5.2h-1.1zM472.1 134.8h1.1v5.7h-1.1zM475.6 55.1h1.1v5.8h-1.1zM475.6 121.6h1.1v5.6h-1.1zM475.6 132.4h1.1v5.9h-1.1zM476.7 78h1.1v5.7h-1.1zM477.8 43.7h1.1v5.7h-1.1zM481.2 31.5h1.1v6h-1.1zM481.2 42.7h1.1v5.6h-1.1zM481.2 88.2h1.1v5.8h-1.1zM483.4 63.8h1.1v5.4h-1.1zM483.4 107.9h1.1v6.1h-1.1zM483.4 119.9h1.1v5.9h-1.1zM485.9 43.5h1.1v5.3h-1.1zM485.9 87.1h1.1v5.7h-1.1zM485.9 110h1.1v5.5h-1.1zM488.1 44.2h1.1v5.7h-1.1zM488.1 124.1h1.1v5.9h-1.1zM491.3 88.6h1.1v6h-1.1zM493.5 137h1.1v5.8h-1.1zM497.2 55.6h1.1v6h-1.1zM497.2 100.5h1.1v5.6h-1.1zM498.3 54.8h1.1v6h-1.1zM502.7 55.2h1.1v5.5h-1.1zM502.7 76.8h1.1v5.3h-1.1zM502.7 98.9h1.1v5.5h-1.1zM503.8 43.4h1.1v5.7h-1.1zM504.9 123.1h1.1v5.2h-1.1zM508.3 88.6h1.1v6h-1.1zM513.7 112.2h1.1v5.8h-1.1zM514.8 89.6h1.1v5.8h-1.1zM514.8 124h1.1v5.2h-1.1zM515.9 55.6h1.1v5.8h-1.1zM515.9 102h1.1v6h-1.1zM515.9 137h1.1v5.4h-1.1zM519 64.2h1.1v5.4h-1.1zM521.2 42.2h1.1v5.2h-1.1zM521.2 110.3h1.1v5.8h-1.1zM521.2 133.6h1.1v5.3h-1.1z"/>
<path fill="#bca284" d="M325.4 122.2h1.1v5.9h-1.1zM326.5 101.2h1.1v5.3h-1.1zM327.6 65.2h1.1v5.9h-1.1zM327.6 76.7h1.1v5.5h-1.1zM330.8 52.1h1.1v6h-1.1zM333 65.1h1.1v6h-1.1zM336.5 31.9h1.1v5.9h-1.1zM336.5 55.5h1.1v5.2h-1.1zM336.5 122.1h1.1v5.2h-1.1zM337.6 112.9h1.1v5.2h-1.1zM341.8 133.2h1.1v5.8h-1.1zM344 32.6h1.1v5.2h-1.1zM347.7 32.2h1.1v6h-1.1zM347.7 66.3h1.1v6.1h-1.1zM347.7 110.9h1.1v5.8h-1.1zM349.9 31.5h1.1v5.9h-1.1zM349.9 65.4h1.1v5.4h-1.1zM349.9 97.6h1.1v6.1h-1.1zM355.6 122.6h1.1v5.7h-1.1zM358.5 64.5h1.1v6h-1.1zM358.5 108.8h1.1v5.4h-1.1zM359.6 41.7h1.1v5.3h-1.1zM360.7 53.7h1.1v5.5h-1.1zM363.2 31.8h1.1v5.3h-1.1zM363.2 54.4h1.1v5.9h-1.1zM363.2 65.8h1.1v6.1h-1.1zM363.2 77.7h1.1v5.7h-1.1zM364.3 54.5h1.1v5.4h-1.1zM365.4 53.3h1.1v5.7h-1.1zM368.2 66h1.1v5.5h-1.1zM368.2 99.6h1.1v5.6h-1.1zM370.4 66.4h1.1v5.5h-1.1zM370.4 133.3h1.1v5.9h-1.1zM373.8 42.7h1.1v5.4h-1.1zM376 122.6h1.1v5.3h-1.1zM379 98.5h1.1v5.4h-1.1zM379 131.2h1.1v5.2h-1.1zM381.2 31.2h1.1v5.3h-1.1zM381.2 52.7h1.1v6.1h-1.1zM384.4 32.3h1.1v5.7h-1.1zM384.4 44h1.1v5.4h-1.1zM386.6 78.3h1.1v5.6h-1.1zM386.6 100.2h1.1v6.1h-1.1zM389.8 66.3h1.1v6.1h-1.1zM389.8 77.7h1.1v5.2h-1.1zM390.9 32h1.1v5.2h-1.1zM390.9 98.2h1.1v5.7h-1.1zM392 43.5h1.1v5.6h-1.1zM392 55h1.1v5.5h-1.1zM392 77.3h1.1v5.8h-1.1zM394.8 66h1.1v5.6h-1.1zM400.1 33.3h1.1v5.5h-1.1zM401.2 55.7h1.1v5.3h-1.1zM401.2 123.2h1.1v5.5h-1.1zM402.3 134.1h1.1v5.9h-1.1zM405.8 65.1h1.1v5.6h-1.1zM405.8 110.5h1.1v6.1h-1.1zM405.8 121.7h1.1v5.8h-1.1zM411.2 45h1.1v5.5h-1.1zM413.4 69.5h1.1v6.1h-1.1zM413.4 81.6h1.1v5.7h-1.1zM416.8 32.8h1.1v5.3h-1.1zM417.9 45h1.1v6.1h-1.1zM417.9 112.7h1.1v5.7h-1.1zM419 55.7h1.1v5.7h-1.1zM419 89.8h1.1v5.2h-1.1zM419 100.5h1.1v5.5h-1.1zM419 111.4h1.1v5.2h-1.1zM421.6 33.2h1.1v5.3h-1.1zM421.6 99.8h1.1v5.3h-1.1zM422.7 55.5h1.1v5.4h-1.1zM422.7 122.5h1.1v5.6h-1.1zM423.8 55.7h1.1v5.3h-1.1zM423.8 66.7h1.1v5.4h-1.1zM423.8 78.1h1.1v5.2h-1.1zM423.8 111.9h1.1v5.5h-1.1zM427.4 101.6h1.1v5.6h-1.1zM429.6 54.9h1.1v6.1h-1.1zM429.6 66.9h1.1v5.6h-1.1zM429.6 78.3h1.1v6h-1.1zM433 99.2h1.1v5.8h-1.1zM434.1 54.8h1.1v5.8h-1.1zM434.1 65.9h1.1v5.4h-1.1zM435.2 77.4h1.1v5.8h-1.1zM435.2 89.4h1.1v5.4h-1.1zM437.8 32.3h1.1v5.3h-1.1zM437.8 76.7h1.1v5.7h-1.1zM440 43.6h1.1v5.9h-1.1zM440 89.4h1.1v5.9h-1.1zM443.1 43.8h1.1v5.7h-1.1zM443.1 87.9h1.1v6h-1.1zM443.1 121.5h1.1v5.5h-1.1zM443.1 132.9h1.1v5.2h-1.1zM445.3 32.6h1.1v6.1h-1.1zM445.3 132.9h1.1v6h-1.1zM450.8 76.2h1.1v5.3h-1.1zM450.8 87.2h1.1v5.4h-1.1zM450.8 132.4h1.1v5.7h-1.1zM454 56.3h1.1v5.8h-1.1zM454 99.7h1.1v5.3h-1.1zM454 133.3h1.1v5.6h-1.1zM455.1 55.3h1.1v6h-1.1zM456.2 43.9h1.1v5.2h-1.1zM456.2 89.3h1.1v5.6h-1.1zM464.7 67h1.1v5.3h-1.1zM464.7 99.8h1.1v5.2h-1.1zM466.9 44.8h1.1v5.3h-1.1zM466.9 79.7h1.1v5.7h-1.1zM469.9 66.7h1.1v5.6h-1.1zM471 55.8h1.1v5.4h-1.1zM471 89.4h1.1v5.7h-1.1zM471 123.4h1.1v5.8h-1.1zM475.6 32.6h1.1v5.5h-1.1zM475.6 78.1h1.1v5.2h-1.1zM475.6 88.6h1.1v6h-1.1zM476.7 112h1.1v5.4h-1.1zM477.8 54.7h1.1v5.5h-1.1zM477.8 87.4h1.1v5.5h-1.1zM477.8 98.6h1.1v6h-1.1zM481.2 111.2h1.1v5.6h-1.1zM482.3 88.5h1.1v5.8h-1.1zM483.4 74.8h1.1v5.7h-1.1zM483.4 85.7h1.1v5.4h-1.1zM483.4 97.1h1.1v5.4h-1.1zM485.9 76.2h1.1v5.4h-1.1zM485.9 98.6h1.1v5.5h-1.1zM488.1 67h1.1v6h-1.1zM488.1 112.7h1.1v5.6h-1.1zM491.3 43.2h1.1v5.7h-1.1zM491.3 100.3h1.1v5.9h-1.1zM491.3 134.1h1.1v5.2h-1.1zM497.2 67.7h1.1v5.6h-1.1zM499.4 44.6h1.1v6h-1.1zM499.4 134.6h1.1v6.1h-1.1zM502.7 65.9h1.1v5.4h-1.1zM502.7 121.8h1.1v6h-1.1zM502.7 133.7h1.1v5.3h-1.1zM503.8 66.6h1.1v5.9h-1.1zM504.9 54.6h1.1v6h-1.1zM504.9 77.1h1.1v5.8h-1.1zM508.3 54.6h1.1v5.4h-1.1zM508.3 76.6h1.1v5.9h-1.1zM510.5 88.8h1.1v5.9h-1.1zM510.5 100.3h1.1v5.8h-1.1zM513.7 89.3h1.1v5.5h-1.1zM514.8 78.6h1.1v5.3h-1.1zM514.8 112.1h1.1v5.9h-1.1zM519 86.1h1.1v6h-1.1zM519 97.6h1.1v5.2h-1.1zM519 108.3h1.1v5.7h-1.1zM519 119.6h1.1v5.8h-1.1zM521.2 65.2h1.1v5.5h-1.1z"/>
<path fill="#c09e80" d="M325.4 42.7h1.1v6.1h-1.1zM325.4 54.2h1.1v5.6h-1.1zM325.4 87.8h1.1v6.1h-1.1zM326.5 67.3h1.1v5.3h-1.1zM326.5 123.9h1.1v6h-1.1zM327.6 42.1h1.1v6h-1.1zM327.6 53.5h1.1v5.9h-1.1zM330.8 120.3h1.1v6.1h-1.1zM333 133h1.1v6.1h-1.1zM336.5 43.5h1.1v5.9h-1.1zM336.5 77h1.1v5.4h-1.1zM336.5 111.2h1.1v5.6h-1.1zM338.7 100.4h1.1v5.7h-1.1zM341.8 44.2h1.1v6.1h-1.1zM341.8 100.9h1.1v5.6h-1.1zM341.8 122.8h1.1v5.3h-1.1zM344 54.8h1.1v5.3h-1.1zM344 78.1h1.1v5.2h-1.1zM344 133.2h1.1v5.7h-1.1zM347.7 88.6h1.1v5.3h-1.1zM347.7 100h1.1v5.7h-1.1zM349.9 86.8h1.1v5.5h-1.1zM349.9 119.9h1.1v5.9h-1.1zM353.4 77.5h1.1v5.6h-1.1zM353.4 89.1h1.1v5.5h-1.1zM353.4 111.7h1.1v5.4h-1.1zM355.6 31.1h1.1v5.6h-1.1zM358.5 30.5h1.1v5.9h-1.1zM358.5 86.8h1.1v5.4h-1.1zM358.5 131.5h1.1v5.7h-1.1zM359.6 52.8h1.1v5.6h-1.1zM360.7 41.6h1.1v6.1h-1.1zM360.7 120.5h1.1v5.7h-1.1zM363.2 43.1h1.1v5.6h-1.1zM363.2 134.4h1.1v5.7h-1.1zM364.3 100h1.1v6.1h-1.1zM365.4 31.8h1.1v5.4h-1.1zM370.4 111.2h1.1v6.1h-1.1zM373.8 53.2h1.1v6h-1.1zM373.8 99.2h1.1v5.4h-1.1zM373.8 110.5h1.1v6h-1.1zM373.8 122.3h1.1v5.9h-1.1zM373.8 133.4h1.1v5.5h-1.1zM376 88.2h1.1v5.4h-1.1zM376 99.4h1.1v6.1h-1.1zM381.2 109.4h1.1v5.9h-1.1zM384.4 77.3h1.1v6h-1.1zM384.4 88.5h1.1v5.7h-1.1zM386.6 112.3h1.1v5.7h-1.1zM389.8 43.3h1.1v5.9h-1.1zM389.8 54.8h1.1v5.4h-1.1zM389.8 100.2h1.1v6h-1.1zM389.8 123.3h1.1v6h-1.1zM390.9 54.7h1.1v5.9h-1.1zM390.9 87.7h1.1v5.2h-1.1zM390.9 120.7h1.1v5.3h-1.1zM394.8 31.9h1.1v5.8h-1.1zM394.8 88.7h1.1v5.4h-1.1zM394.8 99.5h1.1v6h-1.1zM394.8 110.9h1.1v5.8h-1.1zM397 44h1.1v5.4h-1.1zM397 77.8h1.1v5.3h-1.1zM402.3 89.6h1.1v5.6h-1.1zM402.3 122.8h1.1v5.6h-1.1zM408 78h1.1v5.4h-1.1zM408 132.5h1.1v5.9h-1.1zM411.2 100.6h1.1v5.3h-1.1zM413.4 115.9h1.1v5.2h-1.1zM416.8 77.5h1.1v5.2h-1.1zM417.9 33.3h1.1v6.1h-1.1zM417.9 56.7h1.1v5.5h-1.1zM419 32.8h1.1v5.9h-1.1zM419 44.4h1.1v5.2h-1.1zM421.6 132.3h1.1v5.2h-1.1zM422.7 88.6h1.1v5.3h-1.1zM423.8 101.1h1.1v5.4h-1.1zM427.4 134.7h1.1v5.7h-1.1zM433 54.3h1.1v5.9h-1.1zM433 88h1.1v5.7h-1.1zM433 133.3h1.1v5.7h-1.1zM434.1 32.5h1.1v6h-1.1zM434.1 132.8h1.1v5.9h-1.1zM437.8 53.9h1.1v5.4h-1.1zM437.8 65.3h1.1v5.4h-1.1zM437.8 133.6h1.1v5.2h-1.1zM440 100.7h1.1v5.7h-1.1zM448.6 44.2h1.1v5.7h-1.1zM448.6 67.7h1.1v5.3h-1.1zM448.6 90.2h1.1v5.7h-1.1zM450.8 54.5h1.1v5.7h-1.1zM450.8 65.5h1.1v5.4h-1.1zM450.8 121h1.1v6.1h-1.1zM454 44.1h1.1v6.1h-1.1zM454 122.1h1.1v5.3h-1.1zM455.1 67.2h1.1v6h-1.1zM456.2 54.8h1.1v5.6h-1.1zM456.2 132.9h1.1v5.8h-1.1zM459.8 33h1.1v5.5h-1.1zM459.8 55.4h1.1v5.4h-1.1zM459.8 88.3h1.1v5.8h-1.1zM462 55.1h1.1v5.6h-1.1zM462 66.8h1.1v5.4h-1.1zM462 78.3h1.1v5.9h-1.1zM464.7 44.1h1.1v5.7h-1.1zM466.9 90.9h1.1v5.2h-1.1zM466.9 101.4h1.1v5.3h-1.1zM466.9 122.9h1.1v5.3h-1.1zM469.9 44.6h1.1v5.4h-1.1zM469.9 101h1.1v5.6h-1.1zM469.9 112.7h1.1v5.2h-1.1zM469.9 123.4h1.1v5.5h-1.1zM471 78.4h1.1v5.8h-1.1zM472.1 56h1.1v5.2h-1.1zM472.1 101.1h1.1v5.5h-1.1zM476.7 67.1h1.1v5.4h-1.1zM481.2 54.1h1.1v5.7h-1.1zM481.2 65.4h1.1v6.1h-1.1zM481.2 133.4h1.1v5.3h-1.1zM482.3 54.4h1.1v5.8h-1.1zM482.3 123.8h1.1v5.9h-1.1zM485.9 32.8h1.1v5.2h-1.1zM485.9 65.6h1.1v5.4h-1.1zM488.1 78.9h1.1v5.7h-1.1zM491.3 123.3h1.1v5.3h-1.1zM493.5 56.3h1.1v6h-1.1zM493.5 68.3h1.1v5.7h-1.1zM493.5 103.6h1.1v5.3h-1.1zM493.5 114.3h1.1v5.6h-1.1zM497.2 79.1h1.1v5.2h-1.1zM497.2 89.8h1.1v5.3h-1.1zM497.2 111.4h1.1v5.8h-1.1zM498.3 89h1.1v5.3h-1.1zM498.3 99.9h1.1v5.6h-1.1zM498.3 111.3h1.1v5.4h-1.1zM499.4 56.3h1.1v5.8h-1.1zM504.9 88.1h1.1v6.1h-1.1zM508.3 111h1.1v5.2h-1.1zM510.5 66.9h1.1v5.3h-1.1zM510.5 77.7h1.1v5.9h-1.1zM513.7 31.9h1.1v5.7h-1.1zM514.8 100.7h1.1v5.7h-1.1zM515.9 33h1.1v5.7h-1.1zM515.9 79.1h1.1v5.5h-1.1zM519 74.9h1.1v5.9h-1.1zM521.2 31h1.1v5.9h-1.1zM521.2 76.5h1.1v6h-1.1zM521.2 99h1.1v5.7h-1.1zM521.2 122.2h1.1v5.3h-1.1z"/>
</g></g></g>
<polygon points="324.8,18 336,148.5 336,167.8 324.8,167.8" fill="#3e26a8"/>
<polygon points="506,4.6 517.4,4.6 517.4,141 506,19" fill="#3e26a8"/>
<path d="M324.9 21L336 148.5" stroke="#a0c8a0" stroke-width="0.8" opacity="0.55" fill="none"/>
<path d="M506.2 20L517.4 141" stroke="#7cc8c0" stroke-width="0.8" opacity="0.6" fill="none"/>
<path d="M394.8 42 C394.3 47 395 52 396 58 C397 64 394 70 395 78 C396.5 88 397.5 98 396 110 C395 120 396.5 128 396 140" stroke="#9ed07c" stroke-width="0.9" opacity="0.75" fill="none" filter="url(#bl2)"/>
</g>
<rect x="324.8" y="4.6" width="192.6" height="163.2" fill="none" stroke="#1c1060" stroke-opacity="0.55" stroke-width="0.5"/>
<text x="320.9" y="8.9" font-size="9" text-anchor="end" fill="#262626">100</text>
<text x="320.9" y="35.02" font-size="9" text-anchor="end" fill="#262626">150</text>
<text x="320.9" y="61.14" font-size="9" text-anchor="end" fill="#262626">200</text>
<text x="320.9" y="87.26" font-size="9" text-anchor="end" fill="#262626">250</text>
<text x="320.9" y="113.38" font-size="9" text-anchor="end" fill="#262626">300</text>
<text x="320.9" y="139.5" font-size="9" text-anchor="end" fill="#262626">350</text>
<text x="320.9" y="165.62" font-size="9" text-anchor="end" fill="#262626">400</text>
<text x="326.6" y="180.9" font-size="9" text-anchor="middle" fill="#262626">3.6</text>
<text x="358.6" y="180.9" font-size="9" text-anchor="middle" fill="#262626">3.65</text>
<text x="390.6" y="180.9" font-size="9" text-anchor="middle" fill="#262626">3.7</text>
<text x="422.6" y="180.9" font-size="9" text-anchor="middle" fill="#262626">3.75</text>
<text x="454.6" y="180.9" font-size="9" text-anchor="middle" fill="#262626">3.8</text>
<text x="486.6" y="180.9" font-size="9" text-anchor="middle" fill="#262626">3.85</text>
<text x="421" y="194.5" font-size="10" text-anchor="middle" fill="#262626">Time samples</text>
<text transform="translate(301.6,86.3) rotate(-90)" font-size="10.25" text-anchor="middle" fill="#262626">Frequency bins</text>
<text x="496.4" y="196.3" font-size="10" fill="#262626">×10<tspan dy="-4.6" font-size="8">5</tspan></text>
<rect x="522.4" y="4.5" width="11" height="163.8" fill="url(#cbb)" stroke="#3a3a3a" stroke-width="0.4"/>
<line x1="531.9" x2="533.4" y1="168.3" y2="168.3" stroke="#262626" stroke-width="0.4"/>
<text x="536.1" y="171.74" font-size="8.2" fill="#262626">0</text>
<line x1="531.9" x2="533.4" y1="144.56" y2="144.56" stroke="#262626" stroke-width="0.4"/>
<text x="536.1" y="148" font-size="8.2" fill="#262626">10</text>
<line x1="531.9" x2="533.4" y1="120.82" y2="120.82" stroke="#262626" stroke-width="0.4"/>
<text x="536.1" y="124.27" font-size="8.2" fill="#262626">20</text>
<line x1="531.9" x2="533.4" y1="97.08" y2="97.08" stroke="#262626" stroke-width="0.4"/>
<text x="536.1" y="100.53" font-size="8.2" fill="#262626">30</text>
<line x1="531.9" x2="533.4" y1="73.34" y2="73.34" stroke="#262626" stroke-width="0.4"/>
<text x="536.1" y="76.79" font-size="8.2" fill="#262626">40</text>
<line x1="531.9" x2="533.4" y1="49.6" y2="49.6" stroke="#262626" stroke-width="0.4"/>
<text x="536.1" y="53.05" font-size="8.2" fill="#262626">50</text>
<line x1="531.9" x2="533.4" y1="25.87" y2="25.87" stroke="#262626" stroke-width="0.4"/>
<text x="536.1" y="29.31" font-size="8.2" fill="#262626">60</text>
<text x="430.6" y="213.7" font-size="11.6" font-weight="bold" text-anchor="middle" font-family="Liberation Serif, serif" fill="#222">(b)</text>
<g id="pc">
<rect x="177.6" y="236.3" width="194.6" height="171.5" fill="#422ebe"/>
<g clip-path="url(#cpc)">
<g filter="url(#bls)">
<path fill="#2a93ee" d="M366.6 325.9h1.1v24.4h-1.1z"/>
<path fill="#2e83f9" d="M365.6 233.3h1.1v25.6h-1.1z"/>
<path fill="#2e84f8" d="M360.6 233.3h1.1v22.9h-1.1z"/>
<path fill="#2e84f9" d="M345.6 361.3h1.1v9.3h-1.1z"/>
<path fill="#2e87f7" d="M369.6 297.3h1.1v20.1h-1.1z"/>
<path fill="#3080fb" d="M367.6 307.4h1.1v18.9h-1.1z"/>
<path fill="#317dfc" d="M349.6 269.1h1.1v24.7h-1.1z"/>
<path fill="#317efb" d="M352.6 346.2h1.1v9.4h-1.1z"/>
<path fill="#327bfc" d="M355.6 346.5h1.1v21.5h-1.1z"/>
<path fill="#327cfc" d="M366.6 387.2h1.1v16.5h-1.1z"/>
<path fill="#347afd" d="M365.6 354.9h1.1v17.5h-1.1z"/>
<path fill="#3677fe" d="M369.6 248.6h1.1v7.8h-1.1z"/>
<path fill="#3776fe" d="M344.6 305.3h1.1v26.3h-1.1zM355.6 233.3h1.1v16.5h-1.1zM369.6 233.3h1.1v15.3h-1.1z"/>
<path fill="#3777fe" d="M342.6 260.2h1.1v26.6h-1.1z"/>
<path fill="#3876fe" d="M359.6 292.7h1.1v10h-1.1z"/>
<path fill="#3975fe" d="M368.6 233.3h1.1v24.1h-1.1z"/>
<path fill="#3a74fe" d="M345.6 397.8h1.1v10.5h-1.1z"/>
<path fill="#3b72ff" d="M344.6 385.1h1.1v8h-1.1z"/>
<path fill="#3c71ff" d="M331.6 307.9h1.1v18.8h-1.1zM349.6 293.8h1.1v27.6h-1.1zM353.6 392.4h1.1v16h-1.1zM363.6 233.3h1.1v12.5h-1.1z"/>
<path fill="#3c72ff" d="M361.6 305.2h1.1v16.6h-1.1z"/>
<path fill="#3d70ff" d="M351.6 355.3h1.1v6.5h-1.1z"/>
<path fill="#3e6fff" d="M320.6 385.5h1.1v26.6h-1.1zM346.6 233.3h1.1v11.5h-1.1zM358.6 269.3h1.1v12.4h-1.1zM363.6 293.8h1.1v23.9h-1.1z"/>
<path fill="#3e70ff" d="M321.6 324h1.1v21.1h-1.1zM334.6 233.3h1.1v8.8h-1.1z"/>
<path fill="#3f6dfe" d="M345.6 311.1h1.1v22.3h-1.1z"/>
<path fill="#3f6efe" d="M368.6 257.4h1.1v18.9h-1.1z"/>
<path fill="#3f6eff" d="M343.6 233.3h1.1v9.5h-1.1zM344.6 370.9h1.1v6.1h-1.1zM348.6 306.8h1.1v11.2h-1.1z"/>
<path fill="#402bb7" d="M177.6 271.4h1.1v20h-1.1zM179.6 278.1h1.1v14h-1.1zM179.6 363.6h1.1v10.6h-1.1zM180.6 233.3h1.1v13.2h-1.1zM180.6 284.9h1.1v27.5h-1.1zM180.6 320.5h1.1v23.3h-1.1zM180.6 360.8h1.1v16.7h-1.1zM181.6 339.2h1.1v14.4h-1.1zM182.6 330.1h1.1v14.3h-1.1zM183.6 288.6h1.1v18.1h-1.1zM183.6 339h1.1v12h-1.1zM183.6 397.6h1.1v25.9h-1.1zM184.6 294.4h1.1v13.5h-1.1zM184.6 307.9h1.1v19.2h-1.1zM184.6 327.1h1.1v16.1h-1.1zM184.6 343.2h1.1v23.6h-1.1zM186.6 329.6h1.1v22h-1.1zM186.6 351.6h1.1v11.1h-1.1zM186.6 362.8h1.1v15h-1.1zM186.6 397.9h1.1v9.1h-1.1zM187.6 261.2h1.1v21.3h-1.1zM187.6 336.4h1.1v23.2h-1.1zM187.6 384.1h1.1v23.9h-1.1zM188.6 369.5h1.1v14h-1.1zM189.6 304.7h1.1v10.8h-1.1zM190.6 287.7h1.1v23.9h-1.1zM190.6 351.1h1.1v13.7h-1.1zM191.6 233.3h1.1v19.6h-1.1zM191.6 276.3h1.1v27.6h-1.1zM191.6 400.1h1.1v6.2h-1.1zM192.6 299.4h1.1v16.8h-1.1zM192.6 385h1.1v26.6h-1.1zM193.6 301.3h1.1v23.3h-1.1zM194.6 358.5h1.1v7.1h-1.1zM194.6 381.5h1.1v10.6h-1.1zM196.6 291.5h1.1v8.9h-1.1zM197.6 301h1.1v19.8h-1.1zM198.6 350.5h1.1v7.3h-1.1zM198.6 370.3h1.1v15.2h-1.1zM198.6 385.5h1.1v12.5h-1.1zM199.6 254.6h1.1v19.4h-1.1zM199.6 366.3h1.1v16.2h-1.1zM199.6 382.5h1.1v24h-1.1zM200.6 305.8h1.1v24.7h-1.1zM200.6 355.2h1.1v24.7h-1.1zM201.6 233.3h1.1v12.8h-1.1zM201.6 265.4h1.1v16h-1.1zM201.6 332.5h1.1v27.8h-1.1zM201.6 375.2h1.1v8.7h-1.1zM201.6 383.9h1.1v13.8h-1.1zM202.6 347.9h1.1v8.2h-1.1zM202.6 397.7h1.1v24.8h-1.1zM203.6 340.8h1.1v21.5h-1.1zM203.6 396.6h1.1v17.1h-1.1zM204.6 335.4h1.1v24.6h-1.1zM205.6 272h1.1v12h-1.1zM206.6 270.8h1.1v7h-1.1zM207.6 297.6h1.1v23.9h-1.1zM207.6 397.7h1.1v22.8h-1.1zM208.6 233.3h1.1v25.8h-1.1zM208.6 259.1h1.1v13.8h-1.1zM209.6 233.3h1.1v6.1h-1.1zM209.6 297.9h1.1v8.3h-1.1zM211.6 358.6h1.1v8.3h-1.1zM212.6 265.1h1.1v18.9h-1.1zM212.6 355.1h1.1v18.2h-1.1zM213.6 250.5h1.1v27.4h-1.1zM214.6 242.7h1.1v24.1h-1.1zM214.6 294.7h1.1v20.3h-1.1zM214.6 384.3h1.1v12.2h-1.1zM215.6 313.3h1.1v20.4h-1.1zM215.6 333.7h1.1v17.3h-1.1zM215.6 391h1.1v17.3h-1.1zM216.6 369.1h1.1v22.9h-1.1zM217.6 253.2h1.1v19.5h-1.1zM217.6 272.7h1.1v8.4h-1.1zM218.6 233.3h1.1v26.1h-1.1zM218.6 373.7h1.1v19.3h-1.1zM219.6 301.9h1.1v21.7h-1.1zM219.6 323.6h1.1v23h-1.1zM219.6 346.6h1.1v12.5h-1.1zM219.6 359.1h1.1v22.5h-1.1zM221.6 281.2h1.1v13.7h-1.1zM221.6 309.8h1.1v14.6h-1.1zM221.6 393.5h1.1v17.1h-1.1zM222.6 233.3h1.1v16h-1.1zM222.6 276.8h1.1v19.2h-1.1zM223.6 278.7h1.1v26.2h-1.1zM224.6 233.3h1.1v26.1h-1.1zM225.6 233.3h1.1v16.8h-1.1zM226.6 233.3h1.1v28h-1.1zM226.6 329.6h1.1v14.7h-1.1zM226.6 373.8h1.1v22.4h-1.1zM226.6 396.2h1.1v11h-1.1zM227.6 262.3h1.1v20.7h-1.1zM228.6 315.3h1.1v27.8h-1.1zM229.6 243.4h1.1v6.8h-1.1zM229.6 272.7h1.1v26.4h-1.1zM229.6 299.2h1.1v17.1h-1.1zM229.6 324h1.1v6.3h-1.1zM230.6 344.5h1.1v11.3h-1.1zM233.6 304h1.1v18.7h-1.1zM233.6 344.1h1.1v22.1h-1.1zM233.6 395.8h1.1v15h-1.1zM234.6 248.8h1.1v26.9h-1.1zM234.6 275.7h1.1v24h-1.1zM234.6 299.7h1.1v8.8h-1.1zM235.6 233.3h1.1v11.3h-1.1zM235.6 244.6h1.1v19.4h-1.1zM235.6 281.9h1.1v15.9h-1.1zM235.6 353.1h1.1v12.9h-1.1zM236.6 246.7h1.1v23.1h-1.1zM236.6 337h1.1v10.4h-1.1zM237.6 242.6h1.1v26.5h-1.1zM238.6 280.6h1.1v9.8h-1.1zM238.6 405.7h1.1v16.5h-1.1zM239.6 309.1h1.1v20.8h-1.1zM240.6 333.8h1.1v7.5h-1.1zM240.6 360.8h1.1v17.1h-1.1zM240.6 405.7h1.1v7.8h-1.1zM241.6 323.3h1.1v13.7h-1.1zM241.6 337h1.1v22.5h-1.1zM241.6 387.1h1.1v14.5h-1.1zM241.6 401.7h1.1v13.8h-1.1zM242.6 233.3h1.1v18.1h-1.1zM242.6 263.2h1.1v7.4h-1.1zM242.6 303.5h1.1v20.1h-1.1zM242.6 323.6h1.1v18.4h-1.1zM242.6 342h1.1v26.4h-1.1zM242.6 377.4h1.1v16.8h-1.1zM242.6 394.3h1.1v9.7h-1.1zM244.6 259h1.1v14h-1.1zM244.6 294.1h1.1v10.8h-1.1zM244.6 353.5h1.1v7.7h-1.1zM245.6 233.3h1.1v24.2h-1.1zM245.6 327h1.1v13h-1.1zM246.6 233.3h1.1v10.8h-1.1zM246.6 307.1h1.1v23.1h-1.1zM246.6 390.1h1.1v26.2h-1.1zM247.6 262.1h1.1v27.7h-1.1zM247.6 341.9h1.1v12.7h-1.1zM247.6 381.1h1.1v27.7h-1.1zM248.6 288.2h1.1v27.5h-1.1zM249.6 269.6h1.1v22.2h-1.1zM250.6 253h1.1v25.1h-1.1zM250.6 326.8h1.1v27.5h-1.1zM250.6 354.3h1.1v8.2h-1.1zM250.6 400.9h1.1v26.8h-1.1zM251.6 375.9h1.1v16.6h-1.1zM253.6 233.3h1.1v24h-1.1zM253.6 314.1h1.1v18.4h-1.1zM254.6 333.3h1.1v26.7h-1.1zM255.6 306.5h1.1v20.5h-1.1zM255.6 344.7h1.1v10.9h-1.1zM256.6 289h1.1v17.5h-1.1zM256.6 382.3h1.1v23.7h-1.1zM256.6 406h1.1v18.4h-1.1zM257.6 233.3h1.1v21.8h-1.1zM257.6 268.9h1.1v17.4h-1.1zM257.6 346.4h1.1v21.4h-1.1zM257.6 367.8h1.1v27.1h-1.1zM258.6 233.3h1.1v27.8h-1.1zM258.6 286h1.1v27.5h-1.1zM258.6 328.4h1.1v22h-1.1zM259.6 233.3h1.1v9.8h-1.1zM259.6 265.4h1.1v27.7h-1.1zM259.6 329.8h1.1v18.6h-1.1zM259.6 364.2h1.1v22.1h-1.1zM260.6 241.9h1.1v22.6h-1.1zM260.6 264.5h1.1v10.6h-1.1zM262.6 278.8h1.1v13.3h-1.1zM262.6 398.8h1.1v21h-1.1zM263.6 233.3h1.1v9.3h-1.1zM263.6 268.5h1.1v15.5h-1.1zM263.6 284h1.1v18.3h-1.1zM263.6 395.5h1.1v8.5h-1.1zM264.6 290.2h1.1v17.2h-1.1zM264.6 307.4h1.1v11.5h-1.1zM264.6 318.9h1.1v13.4h-1.1zM264.6 374.2h1.1v26.8h-1.1zM265.6 346.4h1.1v8.9h-1.1zM265.6 388.5h1.1v19.3h-1.1z"/>
<path fill="#402bb8" d="M177.6 233.3h1.1v6.3h-1.1zM178.6 371.3h1.1v7.4h-1.1zM179.6 346.4h1.1v17.2h-1.1zM181.6 269.9h1.1v16.7h-1.1zM182.6 255.5h1.1v13.2h-1.1zM182.6 371.3h1.1v23.5h-1.1zM183.6 306.7h1.1v25.8h-1.1zM183.6 381.4h1.1v16.2h-1.1zM184.6 399.4h1.1v7.7h-1.1zM185.6 293.6h1.1v26.1h-1.1zM186.6 301.7h1.1v28h-1.1zM186.6 383.9h1.1v14h-1.1zM188.6 271.5h1.1v17.2h-1.1zM189.6 259h1.1v12.4h-1.1zM189.6 271.4h1.1v10.7h-1.1zM189.6 315.5h1.1v18.4h-1.1zM190.6 380.1h1.1v10h-1.1zM191.6 311h1.1v26.4h-1.1zM192.6 348.1h1.1v23h-1.1zM195.6 260.1h1.1v11.9h-1.1zM196.6 321.5h1.1v7.3h-1.1zM198.6 233.3h1.1v26.3h-1.1zM198.6 307.3h1.1v26.1h-1.1zM198.6 398h1.1v14.5h-1.1zM200.6 402.1h1.1v15h-1.1zM201.6 397.7h1.1v18.6h-1.1zM202.6 250.7h1.1v23.3h-1.1zM204.6 254.7h1.1v11.6h-1.1zM204.6 368.5h1.1v11.5h-1.1zM205.6 376.8h1.1v12.9h-1.1zM207.6 233.3h1.1v20.5h-1.1zM209.6 239.4h1.1v13.4h-1.1zM209.6 280h1.1v17.9h-1.1zM209.6 306.2h1.1v10.1h-1.1zM209.6 316.4h1.1v24.8h-1.1zM209.6 397.4h1.1v13.3h-1.1zM210.6 302.4h1.1v17.8h-1.1zM210.6 388.6h1.1v10.2h-1.1zM211.6 233.3h1.1v8.6h-1.1zM211.6 282.1h1.1v23.7h-1.1zM211.6 336.4h1.1v22.2h-1.1zM212.6 398.2h1.1v16.1h-1.1zM213.6 233.3h1.1v17.2h-1.1zM213.6 316.4h1.1v21.5h-1.1zM214.6 396.4h1.1v12.7h-1.1zM215.6 288.2h1.1v25.1h-1.1zM216.6 306.5h1.1v24.2h-1.1zM216.6 330.7h1.1v11.3h-1.1zM216.6 342h1.1v27.2h-1.1zM217.6 233.3h1.1v19.9h-1.1zM217.6 318.3h1.1v27.3h-1.1zM220.6 285.4h1.1v20.3h-1.1zM220.6 394h1.1v23.6h-1.1zM221.6 339.4h1.1v21.5h-1.1zM223.6 304.9h1.1v13.1h-1.1zM224.6 351h1.1v6.8h-1.1zM224.6 357.8h1.1v10.6h-1.1zM224.6 368.5h1.1v20.2h-1.1zM225.6 323.2h1.1v20.1h-1.1zM226.6 261.3h1.1v8.2h-1.1zM229.6 330.3h1.1v22.2h-1.1zM230.6 273.3h1.1v7.1h-1.1zM230.6 307h1.1v24.6h-1.1zM230.6 338.4h1.1v6.1h-1.1zM231.6 233.3h1.1v26.1h-1.1zM231.6 314.3h1.1v10.8h-1.1zM231.6 325.1h1.1v8h-1.1zM231.6 360.9h1.1v21.2h-1.1zM232.6 344.8h1.1v13.9h-1.1zM232.6 358.6h1.1v11.5h-1.1zM232.6 383.6h1.1v16.3h-1.1zM233.6 289.3h1.1v14.6h-1.1zM234.6 329.7h1.1v22.8h-1.1zM234.6 387h1.1v26h-1.1zM235.6 393.6h1.1v18.9h-1.1zM236.6 322.5h1.1v14.6h-1.1zM236.6 347.4h1.1v27.5h-1.1zM236.6 393h1.1v9.5h-1.1zM237.6 304h1.1v14h-1.1zM237.6 355.4h1.1v13h-1.1zM237.6 389.2h1.1v19.6h-1.1zM238.6 290.4h1.1v25.9h-1.1zM238.6 316.4h1.1v25.5h-1.1zM239.6 294h1.1v15.1h-1.1zM239.6 354.8h1.1v27h-1.1zM240.6 288.8h1.1v9h-1.1zM240.6 341.3h1.1v9.1h-1.1zM242.6 403.9h1.1v18.3h-1.1zM243.6 251.6h1.1v24.3h-1.1zM244.6 272.9h1.1v21.2h-1.1zM244.6 329.3h1.1v10.5h-1.1zM245.6 257.5h1.1v20.9h-1.1zM245.6 381h1.1v18.5h-1.1zM246.6 357.4h1.1v11.6h-1.1zM249.6 340h1.1v21.3h-1.1zM249.6 361.3h1.1v9.1h-1.1zM249.6 407.5h1.1v12.5h-1.1zM251.6 355.8h1.1v20.1h-1.1zM252.6 251.6h1.1v21h-1.1zM252.6 359.6h1.1v14.9h-1.1zM252.6 374.5h1.1v20.6h-1.1zM253.6 290.9h1.1v13.9h-1.1zM253.6 362.9h1.1v22.5h-1.1zM254.6 273.1h1.1v7.1h-1.1zM255.6 271.5h1.1v26.2h-1.1zM256.6 279.5h1.1v9.5h-1.1zM260.6 233.3h1.1v8.6h-1.1zM260.6 289.5h1.1v18.5h-1.1zM261.6 267h1.1v15.7h-1.1zM261.6 315.8h1.1v25.5h-1.1zM261.6 377.1h1.1v12.5h-1.1zM262.6 305.4h1.1v26.3h-1.1zM262.6 368.5h1.1v11.5h-1.1zM263.6 360.3h1.1v8.6h-1.1zM264.6 233.3h1.1v21.4h-1.1zM264.6 254.7h1.1v7.8h-1.1zM264.6 363.5h1.1v10.7h-1.1zM265.6 327.6h1.1v18.7h-1.1zM265.6 355.3h1.1v6.7h-1.1zM266.6 243.3h1.1v24h-1.1zM267.6 233.3h1.1v12.7h-1.1zM267.6 246h1.1v13.6h-1.1zM267.6 312.3h1.1v8.6h-1.1zM267.6 377.1h1.1v19.9h-1.1zM268.6 272.9h1.1v9h-1.1zM268.6 339.3h1.1v24.8h-1.1zM268.6 364.1h1.1v16.8h-1.1zM268.6 396.6h1.1v6.3h-1.1zM268.6 402.8h1.1v12.8h-1.1z"/>
<path fill="#402cb8" d="M181.6 353.5h1.1v17.4h-1.1zM186.6 292.8h1.1v8.9h-1.1zM193.6 233.3h1.1v16.9h-1.1zM197.6 354h1.1v24.3h-1.1zM201.6 360.3h1.1v14.9h-1.1zM205.6 262.2h1.1v9.8h-1.1zM205.6 310.9h1.1v16.8h-1.1zM210.6 342.5h1.1v13.3h-1.1zM219.6 381.6h1.1v26.7h-1.1zM221.6 260.3h1.1v11h-1.1zM222.6 266.8h1.1v10h-1.1zM222.6 397.9h1.1v25.1h-1.1zM224.6 286.2h1.1v27.6h-1.1zM231.6 307.3h1.1v7h-1.1zM239.6 258.3h1.1v15.1h-1.1zM242.6 270.6h1.1v14.7h-1.1zM262.6 356.3h1.1v12.3h-1.1zM269.6 247.7h1.1v10.5h-1.1z"/>
<path fill="#406dfe" d="M368.6 355.3h1.1v17.8h-1.1zM369.6 317.4h1.1v7.2h-1.1zM371.6 289.5h1.1v17.5h-1.1z"/>
<path fill="#412cb8" d="M182.6 233.3h1.1v22.2h-1.1zM182.6 299.5h1.1v16.8h-1.1zM186.6 254.8h1.1v21.8h-1.1zM191.6 406.3h1.1v17.7h-1.1zM193.6 286.8h1.1v14.5h-1.1zM193.6 352.5h1.1v11.2h-1.1zM202.6 312.2h1.1v21.8h-1.1zM202.6 334.1h1.1v13.8h-1.1zM205.6 240.2h1.1v22h-1.1zM206.6 314.8h1.1v6.6h-1.1zM207.6 260.3h1.1v16h-1.1zM210.6 355.9h1.1v9.9h-1.1zM212.6 303.4h1.1v15.8h-1.1zM215.6 256.3h1.1v7.6h-1.1zM220.6 270.6h1.1v14.8h-1.1zM223.6 355.1h1.1v11.6h-1.1zM228.6 247.7h1.1v16.9h-1.1zM229.6 352.5h1.1v15.9h-1.1zM229.6 406.8h1.1v7.5h-1.1zM233.6 233.3h1.1v13.7h-1.1zM233.6 366.2h1.1v21.6h-1.1zM240.6 377.8h1.1v27.9h-1.1zM244.6 389.9h1.1v20.2h-1.1zM245.6 363.3h1.1v17.7h-1.1zM248.6 375.1h1.1v21.6h-1.1zM250.6 284.5h1.1v19.9h-1.1zM259.6 402.6h1.1v24.1h-1.1zM262.6 292.1h1.1v13.4h-1.1zM262.6 331.7h1.1v8.5h-1.1zM262.6 386.4h1.1v12.4h-1.1zM263.6 326.7h1.1v14.4h-1.1zM264.6 351.8h1.1v11.8h-1.1zM266.6 326.2h1.1v19.5h-1.1zM267.6 259.7h1.1v26.3h-1.1zM267.6 359.2h1.1v17.8h-1.1zM268.6 233.3h1.1v13h-1.1zM269.6 271.2h1.1v16.4h-1.1zM270.6 270.6h1.1v6h-1.1zM270.6 288.4h1.1v24.2h-1.1z"/>
<path fill="#412cb9" d="M178.6 347.6h1.1v23.7h-1.1zM179.6 233.3h1.1v26.4h-1.1zM179.6 301.4h1.1v12.3h-1.1zM180.6 246.5h1.1v24.6h-1.1zM180.6 271h1.1v13.8h-1.1zM183.6 252.6h1.1v11.9h-1.1zM184.6 407h1.1v7.8h-1.1zM187.6 307.8h1.1v13.1h-1.1zM188.6 395.8h1.1v28h-1.1zM189.6 241.3h1.1v9.4h-1.1zM189.6 342.7h1.1v19.7h-1.1zM191.6 252.9h1.1v23.4h-1.1zM194.6 349.9h1.1v8.7h-1.1zM195.6 284.8h1.1v25.7h-1.1zM195.6 386.1h1.1v18.7h-1.1zM196.6 264.9h1.1v14.3h-1.1zM197.6 396.5h1.1v12.5h-1.1zM198.6 259.6h1.1v9.4h-1.1zM198.6 357.8h1.1v12.5h-1.1zM202.6 356.1h1.1v11.3h-1.1zM203.6 306.7h1.1v13.5h-1.1zM203.6 376h1.1v20.6h-1.1zM204.6 315.6h1.1v19.9h-1.1zM205.6 350h1.1v9.2h-1.1zM206.6 365.9h1.1v26.5h-1.1zM207.6 276.3h1.1v21.2h-1.1zM207.6 321.5h1.1v6.5h-1.1zM208.6 301.2h1.1v14.2h-1.1zM211.6 256.5h1.1v25.6h-1.1zM211.6 305.8h1.1v11.4h-1.1zM212.6 373.3h1.1v24.8h-1.1zM213.6 277.9h1.1v14.2h-1.1zM214.6 341.8h1.1v18.4h-1.1zM215.6 248.6h1.1v7.7h-1.1zM217.6 301.8h1.1v16.5h-1.1zM220.6 379.4h1.1v14.6h-1.1zM222.6 296h1.1v13.7h-1.1zM222.6 332.9h1.1v6.3h-1.1zM222.6 357.6h1.1v13h-1.1zM227.6 254.6h1.1v7.7h-1.1zM227.6 283h1.1v15.7h-1.1zM227.6 298.7h1.1v12.2h-1.1zM228.6 296.5h1.1v18.8h-1.1zM228.6 359h1.1v16h-1.1zM230.6 382.6h1.1v15.6h-1.1zM236.6 269.9h1.1v11.7h-1.1zM237.6 380.1h1.1v9.1h-1.1zM241.6 359.5h1.1v14.5h-1.1zM243.6 348.8h1.1v20.5h-1.1zM246.6 330.1h1.1v27.2h-1.1zM251.6 328.6h1.1v19.2h-1.1zM251.6 407.7h1.1v9h-1.1zM254.6 256.3h1.1v16.8h-1.1zM254.6 280.2h1.1v22.9h-1.1zM254.6 303.1h1.1v17.3h-1.1zM254.6 387.5h1.1v18.7h-1.1zM254.6 406.1h1.1v14.8h-1.1zM255.6 233.3h1.1v16.3h-1.1zM256.6 346.4h1.1v15.6h-1.1zM256.6 362h1.1v20.3h-1.1zM259.6 243.1h1.1v22.2h-1.1zM259.6 293h1.1v20.7h-1.1zM260.6 389.1h1.1v25.7h-1.1zM261.6 301.4h1.1v14.5h-1.1zM261.6 341.4h1.1v9.7h-1.1zM263.6 350.8h1.1v9.5h-1.1zM265.6 300.4h1.1v27.2h-1.1zM267.6 285.9h1.1v14.6h-1.1zM267.6 348.2h1.1v11.1h-1.1zM269.6 233.3h1.1v14.4h-1.1zM269.6 258.3h1.1v13h-1.1zM270.6 379h1.1v24.4h-1.1zM271.6 307.4h1.1v7.9h-1.1zM271.6 367.6h1.1v26.2h-1.1zM272.6 252.2h1.1v22.5h-1.1zM272.6 318.4h1.1v7.8h-1.1zM272.6 326.3h1.1v25.7h-1.1zM272.6 352h1.1v14h-1.1zM273.6 257.5h1.1v14.2h-1.1zM274.6 314.5h1.1v23.2h-1.1zM275.6 257.3h1.1v9.2h-1.1zM275.6 322.4h1.1v27.7h-1.1z"/>
<path fill="#412cba" d="M178.6 274.3h1.1v22.4h-1.1zM182.6 268.7h1.1v9.7h-1.1zM182.6 278.4h1.1v21h-1.1zM183.6 359.9h1.1v21.5h-1.1zM184.6 390.6h1.1v8.7h-1.1zM185.6 233.3h1.1v9.3h-1.1zM186.6 407h1.1v13.2h-1.1zM188.6 302.8h1.1v15.7h-1.1zM193.6 335.4h1.1v17.1h-1.1zM194.6 298.6h1.1v15.5h-1.1zM196.6 354.2h1.1v20.8h-1.1zM197.6 254.4h1.1v24.2h-1.1zM197.6 320.8h1.1v6.9h-1.1zM200.6 233.3h1.1v13h-1.1zM200.6 379.9h1.1v15.9h-1.1zM202.6 281.4h1.1v6.2h-1.1zM206.6 263h1.1v7.8h-1.1zM209.6 385.5h1.1v12h-1.1zM212.6 294h1.1v9.4h-1.1zM213.6 292.2h1.1v24.2h-1.1zM214.6 315h1.1v15.9h-1.1zM215.6 351h1.1v21.6h-1.1zM216.6 398.8h1.1v10.3h-1.1zM221.6 360.9h1.1v11.6h-1.1zM222.6 339.2h1.1v18.4h-1.1zM225.6 283.8h1.1v26.3h-1.1zM225.6 389.8h1.1v11.1h-1.1zM226.6 344.3h1.1v9.9h-1.1zM227.6 328.6h1.1v24.4h-1.1zM231.6 298.8h1.1v8.5h-1.1zM231.6 395.3h1.1v26.3h-1.1zM232.6 233.3h1.1v8.1h-1.1zM234.6 352.5h1.1v20.1h-1.1zM234.6 372.6h1.1v14.4h-1.1zM237.6 331.6h1.1v14.7h-1.1zM241.6 297.3h1.1v26h-1.1zM242.6 251.4h1.1v11.8h-1.1zM242.6 285.3h1.1v18.2h-1.1zM244.6 383.2h1.1v6.7h-1.1zM246.6 244.1h1.1v10.3h-1.1zM246.6 274.3h1.1v19.7h-1.1zM249.6 248.2h1.1v9.1h-1.1zM249.6 312h1.1v28h-1.1zM249.6 396.6h1.1v10.9h-1.1zM253.6 284.3h1.1v6.7h-1.1zM253.6 338.7h1.1v24.2h-1.1zM256.6 306.5h1.1v23.6h-1.1zM258.6 350.5h1.1v25h-1.1zM259.6 313.7h1.1v9h-1.1zM260.6 381.7h1.1v7.5h-1.1zM263.6 368.9h1.1v26.6h-1.1zM266.6 370.8h1.1v8.9h-1.1zM267.6 300.5h1.1v11.8h-1.1zM269.6 362.5h1.1v9.4h-1.1zM270.6 339.9h1.1v13.9h-1.1zM270.6 403.5h1.1v25.2h-1.1zM271.6 233.3h1.1v10.9h-1.1zM272.6 233.3h1.1v18.9h-1.1zM273.6 233.3h1.1v24.2h-1.1zM273.6 322.1h1.1v21.9h-1.1zM273.6 344h1.1v19.6h-1.1zM274.6 233.3h1.1v19h-1.1zM274.6 292.7h1.1v21.8h-1.1zM275.6 250.9h1.1v6.3h-1.1zM275.6 266.4h1.1v13.7h-1.1zM275.6 303.8h1.1v18.5h-1.1zM275.6 404.3h1.1v21.4h-1.1zM276.6 233.3h1.1v17.4h-1.1zM276.6 321.9h1.1v21.9h-1.1zM277.6 233.3h1.1v9.5h-1.1zM277.6 285.4h1.1v20.1h-1.1zM277.6 305.5h1.1v22.5h-1.1zM277.6 385h1.1v18.1h-1.1zM278.6 233.3h1.1v9.9h-1.1zM278.6 279.8h1.1v23.5h-1.1zM279.6 320h1.1v19.3h-1.1zM280.6 269h1.1v20.4h-1.1zM280.6 397.5h1.1v16.7h-1.1z"/>
<path fill="#412cbb" d="M182.6 363.7h1.1v7.5h-1.1zM188.6 288.6h1.1v14.2h-1.1zM200.6 330.5h1.1v14.4h-1.1zM202.6 296h1.1v16.3h-1.1zM221.6 233.3h1.1v27h-1.1zM222.6 370.5h1.1v27.4h-1.1zM229.6 368.4h1.1v12.1h-1.1zM258.6 313.5h1.1v14.9h-1.1zM258.6 391.3h1.1v11.1h-1.1zM261.6 351h1.1v26.1h-1.1zM265.6 257h1.1v7.3h-1.1zM265.6 273.4h1.1v27h-1.1zM274.6 273.1h1.1v19.6h-1.1zM278.6 389.8h1.1v26.8h-1.1zM279.6 233.3h1.1v16.3h-1.1zM281.6 369.3h1.1v14.8h-1.1z"/>
<path fill="#412dbb" d="M179.6 292.1h1.1v9.3h-1.1zM180.6 312.4h1.1v8.1h-1.1zM180.6 390.7h1.1v14.9h-1.1zM181.6 371h1.1v19.2h-1.1zM185.6 242.6h1.1v23.4h-1.1zM187.6 359.6h1.1v24.5h-1.1zM188.6 360.6h1.1v8.9h-1.1zM189.6 233.3h1.1v8h-1.1zM189.6 362.4h1.1v26.1h-1.1zM189.6 388.5h1.1v19.4h-1.1zM190.6 256.7h1.1v9.8h-1.1zM190.6 333.7h1.1v17.4h-1.1zM192.6 233.3h1.1v9.9h-1.1zM193.6 274.8h1.1v12h-1.1zM196.6 243.7h1.1v21.1h-1.1zM196.6 391.4h1.1v27.4h-1.1zM204.6 387.9h1.1v24.8h-1.1zM206.6 233.3h1.1v18.2h-1.1zM211.6 402.7h1.1v22.9h-1.1zM214.6 233.3h1.1v9.4h-1.1zM219.6 266.6h1.1v16.2h-1.1zM221.6 324.5h1.1v14.9h-1.1zM223.6 335.3h1.1v19.9h-1.1zM223.6 379.6h1.1v8.1h-1.1zM225.6 310.2h1.1v13h-1.1zM227.6 233.3h1.1v21.3h-1.1zM227.6 400.3h1.1v26.5h-1.1zM228.6 289.2h1.1v7.3h-1.1zM236.6 281.6h1.1v25.6h-1.1zM236.6 307.2h1.1v15.3h-1.1zM236.6 402.5h1.1v7.9h-1.1zM239.6 341.8h1.1v13h-1.1zM241.6 247.2h1.1v23.1h-1.1zM250.6 233.3h1.1v19.7h-1.1zM251.6 233.3h1.1v7.9h-1.1zM252.6 243.6h1.1v8h-1.1zM255.6 355.6h1.1v22.2h-1.1zM258.6 261.1h1.1v14.3h-1.1zM260.6 314.5h1.1v15.1h-1.1zM260.6 341h1.1v26.5h-1.1zM263.6 404h1.1v7.5h-1.1zM275.6 233.3h1.1v17.6h-1.1zM276.6 343.8h1.1v16.4h-1.1zM277.6 328h1.1v16.9h-1.1zM282.6 290.9h1.1v15.4h-1.1zM283.6 290.5h1.1v8.6h-1.1zM283.6 319.3h1.1v10.8h-1.1zM283.6 384.2h1.1v7.9h-1.1zM284.6 233.3h1.1v16.1h-1.1zM284.6 346.2h1.1v26.3h-1.1zM284.6 372.5h1.1v15h-1.1zM285.6 385.2h1.1v15.1h-1.1z"/>
<path fill="#412dbc" d="M177.6 310.7h1.1v26.2h-1.1zM178.6 405.1h1.1v27h-1.1zM179.6 339h1.1v7.4h-1.1zM181.6 251.4h1.1v12.1h-1.1zM181.6 263.5h1.1v6.3h-1.1zM182.6 344.4h1.1v19.3h-1.1zM185.6 401.4h1.1v7.3h-1.1zM187.6 250.2h1.1v11h-1.1zM190.6 390.1h1.1v18.4h-1.1zM194.6 275.7h1.1v22.8h-1.1zM197.6 327.7h1.1v26.3h-1.1zM202.6 287.6h1.1v8.4h-1.1zM205.6 327.7h1.1v8.6h-1.1zM206.6 277.8h1.1v23h-1.1zM207.6 253.8h1.1v6.5h-1.1zM210.6 233.3h1.1v22.7h-1.1zM210.6 269.7h1.1v8.7h-1.1zM210.6 365.7h1.1v22.8h-1.1zM211.6 366.9h1.1v9.3h-1.1zM213.6 337.9h1.1v22.5h-1.1zM213.6 385.7h1.1v14.5h-1.1zM215.6 263.8h1.1v24.4h-1.1zM216.6 248.8h1.1v20.4h-1.1zM218.6 277.5h1.1v23.4h-1.1zM223.6 387.7h1.1v24.2h-1.1zM230.6 398.1h1.1v15.6h-1.1zM232.6 294.6h1.1v16.4h-1.1zM235.6 347h1.1v6h-1.1zM237.6 294.6h1.1v9.5h-1.1zM238.6 394.9h1.1v10.8h-1.1zM240.6 233.3h1.1v27.6h-1.1zM240.6 307h1.1v26.8h-1.1zM244.6 233.3h1.1v25.7h-1.1zM244.6 339.8h1.1v13.8h-1.1zM250.6 362.6h1.1v10.8h-1.1zM255.6 377.8h1.1v27.3h-1.1zM257.6 311.9h1.1v6.7h-1.1zM265.6 264.3h1.1v9.1h-1.1zM269.6 371.9h1.1v11.8h-1.1zM270.6 233.3h1.1v23.5h-1.1zM278.6 365.3h1.1v24.5h-1.1zM279.6 375.7h1.1v23.7h-1.1zM281.6 397.2h1.1v14.8h-1.1zM282.6 233.3h1.1v23.8h-1.1zM283.6 278.4h1.1v12.1h-1.1zM284.6 270.3h1.1v11h-1.1zM284.6 281.3h1.1v23.5h-1.1zM284.6 304.8h1.1v23.4h-1.1zM285.6 290.3h1.1v10.7h-1.1zM285.6 301h1.1v20.7h-1.1zM286.6 281.9h1.1v17.9h-1.1zM286.6 299.8h1.1v7.5h-1.1zM286.6 368.9h1.1v19.7h-1.1zM286.6 388.6h1.1v23.7h-1.1zM287.6 337.6h1.1v25.1h-1.1zM287.6 405.5h1.1v17.5h-1.1zM288.6 298.8h1.1v7.2h-1.1zM288.6 353h1.1v19.9h-1.1zM288.6 372.9h1.1v14.1h-1.1zM290.6 257.1h1.1v19.7h-1.1zM290.6 312.1h1.1v23.5h-1.1zM290.6 388.2h1.1v24.1h-1.1z"/>
<path fill="#412dbd" d="M178.6 318.3h1.1v9.9h-1.1zM186.6 276.6h1.1v16.2h-1.1zM187.6 233.3h1.1v8h-1.1zM188.6 246.4h1.1v25.1h-1.1zM189.6 250.6h1.1v8.4h-1.1zM199.6 233.3h1.1v15.1h-1.1zM203.6 280.5h1.1v26.2h-1.1zM203.6 320.2h1.1v20.5h-1.1zM205.6 359.2h1.1v17.7h-1.1zM209.6 341.2h1.1v16.8h-1.1zM214.6 266.9h1.1v27.8h-1.1zM218.6 393.1h1.1v19.8h-1.1zM220.6 363.8h1.1v15.5h-1.1zM226.6 288.1h1.1v27h-1.1zM227.6 353h1.1v26.2h-1.1zM227.6 379.2h1.1v21h-1.1zM232.6 310.9h1.1v18.2h-1.1zM232.6 399.9h1.1v15.4h-1.1zM236.6 233.3h1.1v13.4h-1.1zM236.6 374.9h1.1v18.1h-1.1zM241.6 374h1.1v13.1h-1.1zM246.6 369h1.1v21.1h-1.1zM250.6 278.2h1.1v6.3h-1.1zM251.6 308.9h1.1v19.7h-1.1zM252.6 395.1h1.1v23.5h-1.1zM257.6 255.1h1.1v13.8h-1.1zM260.6 329.6h1.1v11.4h-1.1zM261.6 405.8h1.1v9.7h-1.1zM271.6 268.1h1.1v23.1h-1.1zM272.6 366h1.1v20.1h-1.1zM274.6 404h1.1v22.8h-1.1zM278.6 243.2h1.1v17.7h-1.1zM282.6 306.2h1.1v22.4h-1.1zM282.6 328.6h1.1v13.6h-1.1zM283.6 339.5h1.1v20.1h-1.1zM285.6 400.3h1.1v23h-1.1zM287.6 285.2h1.1v8.3h-1.1zM288.6 255.6h1.1v23h-1.1zM288.6 332h1.1v20.9h-1.1zM290.6 276.8h1.1v15.6h-1.1zM291.6 328.1h1.1v20.3h-1.1zM291.6 348.4h1.1v12.2h-1.1zM291.6 360.6h1.1v16.7h-1.1zM291.6 395.3h1.1v23.2h-1.1zM292.6 271.2h1.1v14.4h-1.1zM292.6 344.7h1.1v8.9h-1.1zM293.6 233.3h1.1v22.7h-1.1zM293.6 373.3h1.1v19.2h-1.1zM295.6 233.3h1.1v26.6h-1.1zM295.6 283.4h1.1v23.1h-1.1z"/>
<path fill="#412ebd" d="M190.6 364.8h1.1v15.3h-1.1zM191.6 337.4h1.1v15.5h-1.1zM200.6 292.9h1.1v12.9h-1.1zM220.6 317.6h1.1v8.5h-1.1zM234.6 233.3h1.1v15.5h-1.1zM241.6 233.3h1.1v13.9h-1.1zM248.6 396.7h1.1v13.8h-1.1zM254.6 360h1.1v27.5h-1.1zM263.6 242.6h1.1v25.9h-1.1zM266.6 267.4h1.1v27.1h-1.1zM272.6 300.2h1.1v6.6h-1.1zM296.6 320.3h1.1v17h-1.1zM296.6 362.6h1.1v15.7h-1.1z"/>
<path fill="#412ebe" d="M177.6 336.9h1.1v17.6h-1.1zM182.6 394.8h1.1v13.4h-1.1zM187.6 282.4h1.1v25.3h-1.1zM192.6 337.9h1.1v10.2h-1.1zM198.6 282h1.1v14.9h-1.1zM202.6 274h1.1v7.4h-1.1zM204.6 360.1h1.1v8.4h-1.1zM210.6 256h1.1v13.7h-1.1zM210.6 398.8h1.1v9.8h-1.1zM215.6 372.6h1.1v18.4h-1.1zM216.6 269.3h1.1v25.7h-1.1zM217.6 393.2h1.1v15.3h-1.1zM220.6 233.3h1.1v10.3h-1.1zM220.6 349.1h1.1v14.8h-1.1zM222.6 309.6h1.1v23.3h-1.1zM226.6 315h1.1v14.6h-1.1zM229.6 316.2h1.1v7.8h-1.1zM235.6 366h1.1v17.3h-1.1zM239.6 381.8h1.1v7.2h-1.1zM247.6 249.5h1.1v12.6h-1.1zM265.6 362h1.1v26.5h-1.1zM268.6 281.9h1.1v14.3h-1.1zM271.6 357.8h1.1v9.8h-1.1zM274.6 252.3h1.1v10.6h-1.1zM290.6 342.4h1.1v25.4h-1.1zM293.6 256h1.1v6.6h-1.1zM293.6 392.5h1.1v22.9h-1.1zM294.6 340.9h1.1v22.7h-1.1zM295.6 306.4h1.1v8.4h-1.1zM296.6 287.1h1.1v6h-1.1zM297.6 405.5h1.1v20h-1.1zM298.6 233.3h1.1v18.3h-1.1zM298.6 278.4h1.1v26.5h-1.1zM298.6 327h1.1v25.4h-1.1z"/>
<path fill="#416bfe" d="M351.6 388.9h1.1v19.8h-1.1zM362.6 280.1h1.1v21.4h-1.1zM370.6 284.3h1.1v9.4h-1.1z"/>
<path fill="#422ebe" d="M178.6 253.2h1.1v21h-1.1zM178.6 328.2h1.1v19.4h-1.1zM181.6 286.6h1.1v9.8h-1.1zM191.6 352.9h1.1v19.5h-1.1zM195.6 365.7h1.1v20.4h-1.1zM220.6 305.7h1.1v11.9h-1.1zM225.6 343.3h1.1v26.6h-1.1zM230.6 331.6h1.1v6.7h-1.1zM239.6 273.4h1.1v20.5h-1.1zM245.6 278.4h1.1v20.7h-1.1zM248.6 250.9h1.1v15.3h-1.1zM248.6 315.8h1.1v12h-1.1zM252.6 294.7h1.1v8.2h-1.1zM262.6 380h1.1v6.5h-1.1zM274.6 337.7h1.1v8.6h-1.1zM293.6 316.8h1.1v13.2h-1.1zM296.6 293.1h1.1v27.2h-1.1zM296.6 387.3h1.1v10h-1.1zM300.6 353h1.1v7.9h-1.1zM301.6 407.2h1.1v9.4h-1.1z"/>
<path fill="#422ebf" d="M183.6 351h1.1v8.8h-1.1zM193.6 406h1.1v17.9h-1.1zM197.6 285.6h1.1v15.5h-1.1zM198.6 269h1.1v13h-1.1zM201.6 306.1h1.1v15.8h-1.1zM205.6 389.7h1.1v23.6h-1.1zM211.6 317.2h1.1v19.2h-1.1zM216.6 294.9h1.1v11.5h-1.1zM222.6 249.3h1.1v17.5h-1.1zM224.6 330.8h1.1v20.2h-1.1zM228.6 264.6h1.1v24.6h-1.1zM228.6 375h1.1v25.4h-1.1zM229.6 233.3h1.1v10.1h-1.1zM230.6 233.3h1.1v13.6h-1.1zM231.6 333.1h1.1v27.8h-1.1zM233.6 247h1.1v20.8h-1.1zM235.6 264h1.1v17.9h-1.1zM243.6 275.9h1.1v19.1h-1.1zM248.6 327.8h1.1v21.8h-1.1zM249.6 233.3h1.1v14.9h-1.1zM259.6 348.4h1.1v15.8h-1.1zM268.6 296.2h1.1v22.4h-1.1zM269.6 315h1.1v13.8h-1.1zM270.6 256.8h1.1v7.4h-1.1zM270.6 312.6h1.1v14.7h-1.1zM277.6 242.8h1.1v27.7h-1.1zM282.6 282.3h1.1v8.6h-1.1zM282.6 360.4h1.1v11.7h-1.1zM282.6 395.2h1.1v13h-1.1zM283.6 299.1h1.1v20.2h-1.1zM288.6 278.6h1.1v20.2h-1.1zM292.6 233.3h1.1v20h-1.1zM294.6 233.3h1.1v6.1h-1.1zM294.6 239.4h1.1v24.9h-1.1zM296.6 268.9h1.1v6.5h-1.1zM296.6 275.4h1.1v11.6h-1.1zM297.6 344.6h1.1v17.5h-1.1zM299.6 373.2h1.1v23.2h-1.1zM301.6 233.3h1.1v8.4h-1.1zM301.6 278.2h1.1v10.1h-1.1zM301.6 353.4h1.1v21.1h-1.1zM301.6 374.5h1.1v17.2h-1.1zM302.6 233.3h1.1v16.8h-1.1zM302.6 373.5h1.1v16.7h-1.1zM303.6 318.4h1.1v10.2h-1.1zM303.6 351.3h1.1v25h-1.1zM305.6 242.7h1.1v23.2h-1.1zM305.6 309.9h1.1v27.9h-1.1zM306.6 302.8h1.1v8.4h-1.1z"/>
<path fill="#422ec0" d="M187.6 241.3h1.1v8.9h-1.1zM209.6 358h1.1v27.5h-1.1zM218.6 259.4h1.1v18.1h-1.1zM223.6 372.9h1.1v6.7h-1.1zM241.6 270.2h1.1v27.1h-1.1zM255.6 297.7h1.1v8.8h-1.1zM272.6 405.7h1.1v10.3h-1.1zM273.6 388.4h1.1v21.3h-1.1zM292.6 389.4h1.1v15.5h-1.1zM300.6 278.5h1.1v23.1h-1.1zM305.6 274.8h1.1v14.8h-1.1zM305.6 289.6h1.1v20.3h-1.1zM307.6 393.3h1.1v13.1h-1.1zM308.6 233.3h1.1v23.5h-1.1z"/>
<path fill="#422fc0" d="M193.6 324.6h1.1v10.8h-1.1zM196.6 233.3h1.1v10.4h-1.1zM199.6 327.8h1.1v17.9h-1.1zM217.6 281.1h1.1v20.7h-1.1zM220.6 243.6h1.1v27h-1.1zM226.6 354.2h1.1v19.6h-1.1zM230.6 355.8h1.1v13h-1.1zM235.6 297.8h1.1v14.1h-1.1zM237.6 233.3h1.1v9.3h-1.1zM247.6 311.7h1.1v18.4h-1.1zM261.6 246.7h1.1v20.3h-1.1zM264.6 332.3h1.1v19.5h-1.1zM271.6 337.5h1.1v20.3h-1.1zM272.6 306.8h1.1v11.7h-1.1zM279.6 299.5h1.1v20.5h-1.1zM286.6 318.9h1.1v21.4h-1.1zM291.6 249.9h1.1v15.5h-1.1zM291.6 304.7h1.1v23.4h-1.1zM294.6 277.6h1.1v23.5h-1.1zM296.6 252.5h1.1v16.4h-1.1zM299.6 249.3h1.1v11.1h-1.1zM304.6 333.4h1.1v20.8h-1.1zM304.6 368.2h1.1v13.2h-1.1zM307.6 233.3h1.1v9.1h-1.1zM307.6 346.2h1.1v9.1h-1.1zM309.6 233.3h1.1v25.6h-1.1zM309.6 284.9h1.1v17.2h-1.1zM311.6 370.3h1.1v17.3h-1.1zM311.6 403.7h1.1v18.3h-1.1z"/>
<path fill="#422fc1" d="M177.6 256.3h1.1v15.1h-1.1zM181.6 233.3h1.1v18.1h-1.1zM184.6 241.3h1.1v25.2h-1.1zM195.6 338.3h1.1v13.2h-1.1zM199.6 248.4h1.1v6.2h-1.1zM200.6 273.2h1.1v19.6h-1.1zM205.6 233.3h1.1v6.9h-1.1zM216.6 392h1.1v6.8h-1.1zM221.6 271.4h1.1v9.9h-1.1zM225.6 401h1.1v14.6h-1.1zM235.6 311.9h1.1v20.7h-1.1zM237.6 269.1h1.1v25.4h-1.1zM240.6 260.9h1.1v21.2h-1.1zM243.6 295.1h1.1v25.8h-1.1zM243.6 393.7h1.1v14.3h-1.1zM245.6 299.1h1.1v27.9h-1.1zM247.6 354.5h1.1v26.5h-1.1zM248.6 349.5h1.1v25.6h-1.1zM251.6 266.7h1.1v25.3h-1.1zM252.6 233.3h1.1v10.3h-1.1zM253.6 332.5h1.1v6.1h-1.1zM266.6 306.6h1.1v19.6h-1.1zM273.6 271.7h1.1v13.4h-1.1zM282.6 342.3h1.1v18.2h-1.1zM285.6 343.8h1.1v8.6h-1.1zM289.6 310.8h1.1v19.2h-1.1zM291.6 265.4h1.1v23.3h-1.1zM292.6 253.3h1.1v17.9h-1.1zM294.6 301.1h1.1v25h-1.1zM297.6 304.8h1.1v22h-1.1zM302.6 319.2h1.1v24h-1.1zM304.6 260h1.1v25h-1.1zM304.6 316.8h1.1v16.6h-1.1zM306.6 311.2h1.1v22.9h-1.1zM308.6 256.8h1.1v23.6h-1.1zM308.6 396.4h1.1v20h-1.1zM312.6 352.7h1.1v11h-1.1zM312.6 363.7h1.1v19.1h-1.1zM313.6 233.3h1.1v17.3h-1.1zM313.6 324.7h1.1v18h-1.1zM315.6 271.9h1.1v10.7h-1.1zM316.6 233.3h1.1v20.1h-1.1zM316.6 268.3h1.1v25.4h-1.1zM316.6 364h1.1v19h-1.1z"/>
<path fill="#422fc2" d="M178.6 378.6h1.1v26.5h-1.1zM179.6 259.7h1.1v18.4h-1.1zM189.6 333.9h1.1v8.8h-1.1zM193.6 380.8h1.1v25.2h-1.1zM195.6 272h1.1v12.8h-1.1zM198.6 296.9h1.1v10.4h-1.1zM204.6 266.4h1.1v15.1h-1.1zM205.6 284h1.1v27h-1.1zM205.6 336.3h1.1v13.7h-1.1zM206.6 348.8h1.1v17.1h-1.1zM208.6 362.5h1.1v24.7h-1.1zM208.6 387.2h1.1v26h-1.1zM219.6 282.8h1.1v19.1h-1.1zM223.6 233.3h1.1v15.8h-1.1zM231.6 259.4h1.1v11.5h-1.1zM232.6 241.4h1.1v20.8h-1.1zM233.6 267.9h1.1v21.4h-1.1zM234.6 308.5h1.1v21.1h-1.1zM245.6 399.5h1.1v25.9h-1.1zM246.6 254.4h1.1v19.9h-1.1zM249.6 257.3h1.1v12.3h-1.1zM253.6 257.3h1.1v26.9h-1.1zM270.6 276.7h1.1v11.7h-1.1zM274.6 376.4h1.1v6.6h-1.1zM280.6 233.3h1.1v26h-1.1zM283.6 359.6h1.1v24.5h-1.1zM287.6 253.4h1.1v8.7h-1.1zM289.6 296.1h1.1v14.7h-1.1zM295.6 386.5h1.1v23.6h-1.1zM298.6 398.8h1.1v20.7h-1.1zM305.6 380.9h1.1v25.5h-1.1zM310.6 373h1.1v10.9h-1.1zM312.6 286.1h1.1v24.3h-1.1zM313.6 299.4h1.1v17.7h-1.1zM314.6 278.6h1.1v19.5h-1.1zM316.6 344.1h1.1v12.9h-1.1zM317.6 260h1.1v16.3h-1.1zM317.6 371.6h1.1v24.8h-1.1zM318.6 324.3h1.1v20.4h-1.1z"/>
<path fill="#422fc3" d="M239.6 389h1.1v20.4h-1.1zM246.6 294.1h1.1v13h-1.1zM266.6 233.3h1.1v10h-1.1zM272.6 274.7h1.1v25.5h-1.1zM303.6 376.3h1.1v21.1h-1.1zM308.6 352.6h1.1v17.5h-1.1zM320.6 314.5h1.1v24.1h-1.1zM322.6 304.3h1.1v11.9h-1.1z"/>
<path fill="#4230c3" d="M180.6 377.5h1.1v13.2h-1.1zM192.6 316.2h1.1v21.7h-1.1zM194.6 392.1h1.1v23.5h-1.1zM199.6 345.7h1.1v20.6h-1.1zM203.6 254.9h1.1v25.7h-1.1zM203.6 362.3h1.1v13.6h-1.1zM204.6 233.3h1.1v21.4h-1.1zM204.6 380h1.1v7.9h-1.1zM219.6 233.3h1.1v11.9h-1.1zM228.6 233.3h1.1v14.4h-1.1zM228.6 400.4h1.1v21.1h-1.1zM230.6 280.3h1.1v26.7h-1.1zM247.6 233.3h1.1v16.2h-1.1zM266.6 345.7h1.1v25.2h-1.1zM266.6 379.7h1.1v19.3h-1.1zM275.6 280.1h1.1v23.7h-1.1zM280.6 346.4h1.1v25.5h-1.1zM281.6 305.1h1.1v12.9h-1.1zM288.6 233.3h1.1v8.8h-1.1zM294.6 264.3h1.1v13.3h-1.1zM294.6 326.1h1.1v14.8h-1.1zM295.6 328.4h1.1v20.2h-1.1zM307.6 406.4h1.1v23.8h-1.1zM308.6 307.6h1.1v8.9h-1.1zM313.6 250.6h1.1v16.5h-1.1zM314.6 259.7h1.1v18.9h-1.1zM316.6 357h1.1v7.1h-1.1zM317.6 396.4h1.1v13h-1.1zM318.6 253.8h1.1v24.9h-1.1zM319.6 377.1h1.1v23.1h-1.1zM320.6 288.6h1.1v25.9h-1.1zM322.6 404.2h1.1v24.5h-1.1zM324.6 247.7h1.1v24.1h-1.1z"/>
<path fill="#4230c4" d="M177.6 291.4h1.1v19.3h-1.1zM179.6 313.6h1.1v25.4h-1.1zM183.6 274.4h1.1v14.2h-1.1zM188.6 339.4h1.1v21.2h-1.1zM190.6 311.6h1.1v9.2h-1.1zM195.6 310.5h1.1v27.8h-1.1zM197.6 378.3h1.1v18.2h-1.1zM201.6 281.4h1.1v24.7h-1.1zM201.6 321.9h1.1v10.7h-1.1zM204.6 287.9h1.1v27.6h-1.1zM211.6 241.9h1.1v14.6h-1.1zM226.6 269.4h1.1v18.6h-1.1zM226.6 407.1h1.1v16h-1.1zM229.6 380.4h1.1v26.4h-1.1zM230.6 368.9h1.1v13.7h-1.1zM238.6 376.8h1.1v18h-1.1zM249.6 291.8h1.1v20.2h-1.1zM249.6 370.4h1.1v26.2h-1.1zM252.6 348.9h1.1v10.8h-1.1zM255.6 249.6h1.1v21.9h-1.1zM258.6 375.5h1.1v15.9h-1.1zM264.6 262.5h1.1v27.7h-1.1zM271.6 244.2h1.1v23.9h-1.1zM274.6 370h1.1v6.4h-1.1zM278.6 303.2h1.1v14.4h-1.1zM279.6 399.4h1.1v11.6h-1.1zM280.6 289.4h1.1v7.6h-1.1zM281.6 249.3h1.1v23.1h-1.1zM295.6 259.9h1.1v23.4h-1.1zM298.6 259.2h1.1v19.2h-1.1zM314.6 359.5h1.1v12.4h-1.1zM315.6 233.3h1.1v17.8h-1.1zM319.6 233.3h1.1v8.4h-1.1zM321.6 372.2h1.1v13.3h-1.1zM322.6 316.2h1.1v6.9h-1.1zM324.6 297h1.1v16.9h-1.1zM325.6 388.2h1.1v25.8h-1.1zM327.6 262.3h1.1v9h-1.1zM327.6 372.7h1.1v23.5h-1.1zM328.6 298.2h1.1v10.8h-1.1zM328.6 330.4h1.1v13h-1.1zM329.6 287.7h1.1v21.3h-1.1zM329.6 316.4h1.1v6.7h-1.1z"/>
<path fill="#4269fe" d="M352.6 386.1h1.1v25.9h-1.1z"/>
<path fill="#426afe" d="M341.6 400.1h1.1v7.9h-1.1zM353.6 249.4h1.1v25.6h-1.1zM370.6 396h1.1v7.7h-1.1z"/>
<path fill="#4330c4" d="M185.6 266h1.1v27.6h-1.1zM206.6 321.4h1.1v27.3h-1.1zM221.6 295h1.1v14.8h-1.1zM331.6 342h1.1v6.8h-1.1z"/>
<path fill="#4330c5" d="M177.6 354.5h1.1v24.9h-1.1zM191.6 303.9h1.1v7.1h-1.1zM194.6 365.6h1.1v15.9h-1.1zM195.6 233.3h1.1v26.8h-1.1zM196.6 300.5h1.1v21h-1.1zM196.6 375h1.1v16.4h-1.1zM197.6 233.3h1.1v21.1h-1.1zM199.6 317.6h1.1v10.2h-1.1zM200.6 395.7h1.1v6.4h-1.1zM206.6 300.8h1.1v14.1h-1.1zM206.6 392.4h1.1v8h-1.1zM218.6 300.8h1.1v27.2h-1.1zM223.6 264.5h1.1v14.2h-1.1zM228.6 343.1h1.1v15.9h-1.1zM229.6 250.1h1.1v22.6h-1.1zM232.6 329.1h1.1v15.6h-1.1zM240.6 297.8h1.1v9.2h-1.1zM243.6 369.4h1.1v24.4h-1.1zM244.6 304.8h1.1v24.4h-1.1zM247.6 330h1.1v11.8h-1.1zM252.6 303h1.1v21.8h-1.1zM256.6 260.7h1.1v18.8h-1.1zM278.6 346.3h1.1v18.9h-1.1zM283.6 330.1h1.1v9.4h-1.1zM285.6 265.9h1.1v24.4h-1.1zM289.6 233.3h1.1v17h-1.1zM289.6 330h1.1v11.7h-1.1zM297.6 396.6h1.1v8.9h-1.1zM299.6 283.6h1.1v21.9h-1.1zM303.6 284.3h1.1v22.5h-1.1zM311.6 300.4h1.1v6.5h-1.1zM324.6 313.9h1.1v9.3h-1.1zM326.6 386h1.1v7.5h-1.1zM327.6 233.3h1.1v11.3h-1.1zM329.6 233.3h1.1v10.1h-1.1zM330.6 316.8h1.1v14.5h-1.1zM330.6 331.3h1.1v26.9h-1.1zM331.6 285.5h1.1v22.4h-1.1zM332.6 317.5h1.1v19.3h-1.1z"/>
<path fill="#4331c5" d="M281.6 324.7h1.1v24.9h-1.1zM310.6 283.5h1.1v18.9h-1.1z"/>
<path fill="#4331c6" d="M184.6 233.3h1.1v8h-1.1zM185.6 319.7h1.1v22.1h-1.1zM190.6 266.5h1.1v21.2h-1.1zM192.6 284.7h1.1v14.7h-1.1zM192.6 371.1h1.1v13.9h-1.1zM193.6 250.2h1.1v24.6h-1.1zM194.6 252.4h1.1v23.4h-1.1zM199.6 406.5h1.1v12.5h-1.1zM200.6 246.3h1.1v26.9h-1.1zM207.6 357.7h1.1v12.4h-1.1zM211.6 376.2h1.1v26.5h-1.1zM231.6 382.1h1.1v13.2h-1.1zM237.6 368.4h1.1v11.7h-1.1zM238.6 341.9h1.1v25h-1.1zM245.6 340.1h1.1v23.2h-1.1zM255.6 327h1.1v17.6h-1.1zM265.6 233.3h1.1v23.7h-1.1zM279.6 277.2h1.1v22.3h-1.1zM287.6 262.1h1.1v23.1h-1.1zM288.6 305.9h1.1v26.1h-1.1zM300.6 301.6h1.1v21.9h-1.1zM306.6 233.3h1.1v18.2h-1.1zM315.6 368.5h1.1v12.6h-1.1zM319.6 365.5h1.1v11.6h-1.1zM323.6 299.2h1.1v9.9h-1.1zM324.6 336.7h1.1v17.9h-1.1zM331.6 379.8h1.1v18.6h-1.1zM332.6 253.4h1.1v19.5h-1.1zM334.6 271.7h1.1v7.5h-1.1zM335.6 399.1h1.1v27.3h-1.1zM336.6 329.5h1.1v10.9h-1.1zM336.6 393.3h1.1v27.9h-1.1zM337.6 248.9h1.1v17.1h-1.1zM337.6 266h1.1v11.5h-1.1zM337.6 319.7h1.1v12.1h-1.1zM337.6 331.8h1.1v15.2h-1.1zM337.6 372.5h1.1v24.6h-1.1zM338.6 250.2h1.1v6.4h-1.1zM338.6 256.6h1.1v10h-1.1zM338.6 324.8h1.1v20.9h-1.1zM339.6 265.8h1.1v20.9h-1.1z"/>
<path fill="#4331c7" d="M179.6 397.2h1.1v15.4h-1.1zM185.6 384.2h1.1v17.2h-1.1zM189.6 282.1h1.1v22.7h-1.1zM194.6 314.1h1.1v26h-1.1zM202.6 367.4h1.1v6.5h-1.1zM203.6 233.3h1.1v21.6h-1.1zM207.6 370.2h1.1v27.5h-1.1zM209.6 252.8h1.1v27.2h-1.1zM223.6 366.7h1.1v6.1h-1.1zM235.6 383.3h1.1v10.3h-1.1zM250.6 304.4h1.1v22.4h-1.1zM251.6 241.2h1.1v25.5h-1.1zM261.6 233.3h1.1v13.4h-1.1zM268.6 318.6h1.1v20.7h-1.1zM268.6 380.9h1.1v15.7h-1.1zM274.6 262.8h1.1v10.2h-1.1zM274.6 383h1.1v21h-1.1zM276.6 250.7h1.1v27.4h-1.1zM276.6 294.9h1.1v27h-1.1zM287.6 233.3h1.1v20.1h-1.1zM293.6 293.2h1.1v23.7h-1.1zM297.6 233.3h1.1v27.9h-1.1zM297.6 261.2h1.1v26.7h-1.1zM306.6 334.1h1.1v11.1h-1.1zM307.6 242.4h1.1v13.5h-1.1zM310.6 248.1h1.1v17.3h-1.1zM310.6 302.5h1.1v26.2h-1.1zM313.6 342.8h1.1v11h-1.1zM319.6 311.3h1.1v26.9h-1.1zM320.6 233.3h1.1v23.1h-1.1zM322.6 375.7h1.1v18.5h-1.1zM323.6 258.7h1.1v10.6h-1.1zM328.6 270.5h1.1v27.6h-1.1zM329.6 337h1.1v20.1h-1.1zM336.6 233.3h1.1v11.8h-1.1zM339.6 396.5h1.1v25.7h-1.1zM340.6 268.8h1.1v24.3h-1.1zM341.6 265.1h1.1v17.7h-1.1zM342.6 383.7h1.1v8.3h-1.1zM343.6 285.9h1.1v18.1h-1.1zM343.6 304h1.1v23.4h-1.1zM344.6 401.3h1.1v19.4h-1.1zM345.6 233.3h1.1v15.7h-1.1zM346.6 244.8h1.1v8.3h-1.1z"/>
<path fill="#4331c8" d="M181.6 296.4h1.1v21.1h-1.1zM185.6 341.9h1.1v28h-1.1zM188.6 383.5h1.1v12.4h-1.1zM206.6 400.4h1.1v17.6h-1.1zM208.6 339.6h1.1v22.9h-1.1zM212.6 283.9h1.1v10.1h-1.1zM216.6 233.3h1.1v15.5h-1.1zM220.6 326.1h1.1v23h-1.1zM233.6 322.7h1.1v21.4h-1.1zM237.6 346.4h1.1v9h-1.1zM238.6 253.7h1.1v9.3h-1.1zM252.6 324.8h1.1v24.1h-1.1zM262.6 233.3h1.1v27.5h-1.1zM269.6 287.6h1.1v27.4h-1.1zM281.6 318h1.1v6.6h-1.1zM289.6 288h1.1v8h-1.1zM297.6 386.1h1.1v10.5h-1.1zM308.6 370.1h1.1v26.3h-1.1zM332.6 291.7h1.1v25.9h-1.1zM334.6 325.9h1.1v26h-1.1zM338.6 396.2h1.1v17h-1.1zM347.6 260.9h1.1v7.9h-1.1zM347.6 352.2h1.1v19.4h-1.1zM347.6 381.6h1.1v8.6h-1.1zM348.6 385.5h1.1v23.9h-1.1z"/>
<path fill="#4332c8" d="M195.6 351.5h1.1v14.2h-1.1zM238.6 263h1.1v17.6h-1.1zM252.6 272.6h1.1v22.2h-1.1zM257.6 394.9h1.1v20h-1.1zM269.6 398.1h1.1v15h-1.1zM305.6 233.3h1.1v9.4h-1.1zM317.6 276.3h1.1v14.4h-1.1zM333.6 291.9h1.1v20.8h-1.1zM335.6 314.8h1.1v19h-1.1zM336.6 319.1h1.1v10.3h-1.1zM343.6 377.2h1.1v23.6h-1.1zM350.6 334.8h1.1v14.6h-1.1z"/>
<path fill="#4332c9" d="M180.6 405.6h1.1v11.7h-1.1zM183.6 233.3h1.1v19.3h-1.1zM193.6 363.7h1.1v17.1h-1.1zM195.6 404.7h1.1v19.7h-1.1zM207.6 327.9h1.1v9.7h-1.1zM208.6 281.6h1.1v19.6h-1.1zM212.6 319.2h1.1v27.2h-1.1zM213.6 360.4h1.1v25.3h-1.1zM217.6 370h1.1v23.1h-1.1zM238.6 366.9h1.1v9.9h-1.1zM254.6 233.3h1.1v23h-1.1zM258.6 402.5h1.1v9.2h-1.1zM263.6 341.1h1.1v9.7h-1.1zM276.6 397.1h1.1v21.8h-1.1zM279.6 249.6h1.1v27.5h-1.1zM281.6 293.2h1.1v11.9h-1.1zM281.6 384.1h1.1v13.1h-1.1zM284.6 328.1h1.1v11.1h-1.1zM309.6 365.3h1.1v13.6h-1.1zM311.6 318.9h1.1v17.7h-1.1zM313.6 317.1h1.1v7.7h-1.1zM318.6 379.9h1.1v11.4h-1.1zM333.6 359.2h1.1v24h-1.1zM335.6 333.8h1.1v15.8h-1.1zM336.6 340.4h1.1v10.4h-1.1zM345.6 249h1.1v9.2h-1.1zM347.6 268.8h1.1v21.3h-1.1zM352.6 271.7h1.1v9.6h-1.1zM353.6 312h1.1v15.8h-1.1zM353.6 340.7h1.1v16.4h-1.1zM353.6 357.1h1.1v7.7h-1.1zM354.6 271h1.1v12.5h-1.1zM354.6 300.9h1.1v13.9h-1.1zM354.6 389.6h1.1v6h-1.1z"/>
<path fill="#4332ca" d="M179.6 374.2h1.1v23h-1.1zM182.6 316.3h1.1v13.8h-1.1zM184.6 266.5h1.1v27.9h-1.1zM188.6 318.5h1.1v20.9h-1.1zM190.6 320.8h1.1v12.8h-1.1zM192.6 257h1.1v27.7h-1.1zM199.6 290.7h1.1v26.9h-1.1zM214.6 360.2h1.1v24.1h-1.1zM218.6 328.1h1.1v27.9h-1.1zM227.6 310.9h1.1v17.7h-1.1zM243.6 233.3h1.1v18.3h-1.1zM247.6 289.7h1.1v21.9h-1.1zM248.6 266.2h1.1v22h-1.1zM253.6 395.8h1.1v14.3h-1.1zM261.6 282.7h1.1v18.7h-1.1zM262.6 340.2h1.1v16h-1.1zM267.6 396.9h1.1v26.5h-1.1zM276.6 360.1h1.1v13.6h-1.1zM277.6 403.1h1.1v13.9h-1.1zM280.6 372h1.1v25.5h-1.1zM281.6 349.5h1.1v19.8h-1.1zM283.6 252h1.1v26.4h-1.1zM285.6 328.7h1.1v15.1h-1.1zM289.6 250.3h1.1v24.8h-1.1zM291.6 288.8h1.1v15.9h-1.1zM305.6 359.1h1.1v21.9h-1.1zM309.6 378.9h1.1v24.8h-1.1zM310.6 233.3h1.1v7.3h-1.1zM311.6 272.6h1.1v27.8h-1.1zM329.6 243.4h1.1v26.1h-1.1zM329.6 280.8h1.1v6.9h-1.1zM337.6 277.5h1.1v10.1h-1.1zM338.6 345.7h1.1v22.1h-1.1zM339.6 233.3h1.1v19.5h-1.1zM341.6 240h1.1v25h-1.1zM345.6 258.2h1.1v17.9h-1.1zM346.6 341.5h1.1v8.1h-1.1zM348.6 318h1.1v22.3h-1.1zM353.6 374.2h1.1v18.1h-1.1zM360.6 256.2h1.1v14.5h-1.1zM361.6 243.3h1.1v12.3h-1.1z"/>
<path fill="#4332cb" d="M177.6 404.9h1.1v14.6h-1.1zM184.6 366.8h1.1v23.8h-1.1zM194.6 340.2h1.1v9.7h-1.1zM213.6 400.3h1.1v21.4h-1.1zM243.6 320.8h1.1v28h-1.1zM260.6 367.5h1.1v14.2h-1.1zM261.6 389.6h1.1v16.2h-1.1zM279.6 339.3h1.1v18.8h-1.1zM327.6 321.4h1.1v17.7h-1.1zM332.6 387.5h1.1v16.1h-1.1zM347.6 253.1h1.1v7.7h-1.1z"/>
<path fill="#4367fd" d="M309.6 313.8h1.1v18.5h-1.1zM352.6 318.8h1.1v8.1h-1.1zM363.6 245.8h1.1v6.2h-1.1z"/>
<path fill="#4368fe" d="M341.6 372.7h1.1v8.7h-1.1zM342.6 233.3h1.1v26.9h-1.1zM343.6 344h1.1v26.9h-1.1zM350.6 272.5h1.1v8h-1.1zM365.6 307.6h1.1v8.1h-1.1zM368.6 385.4h1.1v8.6h-1.1z"/>
<path fill="#4432cb" d="M210.6 278.4h1.1v23.9h-1.1zM212.6 233.3h1.1v11.6h-1.1zM232.6 286h1.1v8.6h-1.1zM256.6 330.1h1.1v16.3h-1.1zM294.6 398.8h1.1v14.4h-1.1zM352.6 379.4h1.1v6.6h-1.1zM358.6 233.3h1.1v16.7h-1.1zM358.6 300.1h1.1v11.2h-1.1zM361.6 351.1h1.1v14.3h-1.1z"/>
<path fill="#4433cb" d="M178.6 233.3h1.1v19.9h-1.1zM196.6 279.2h1.1v12.4h-1.1zM200.6 344.9h1.1v10.3h-1.1zM202.6 233.3h1.1v17.4h-1.1zM239.6 329.8h1.1v12h-1.1zM244.6 361.2h1.1v22h-1.1zM257.6 318.6h1.1v13.8h-1.1zM264.6 401h1.1v8.4h-1.1zM269.6 338h1.1v24.6h-1.1zM271.6 291.2h1.1v16.2h-1.1zM276.6 373.7h1.1v23.3h-1.1zM300.6 399.6h1.1v13.4h-1.1zM304.6 381.4h1.1v19.4h-1.1zM343.6 269.7h1.1v16.3h-1.1zM360.6 345.2h1.1v25.1h-1.1zM361.6 233.3h1.1v10h-1.1zM361.6 335.4h1.1v15.6h-1.1zM364.6 255.5h1.1v11.8h-1.1zM364.6 376.9h1.1v15.4h-1.1z"/>
<path fill="#4433cc" d="M178.6 296.7h1.1v21.6h-1.1zM183.6 332.5h1.1v6.5h-1.1zM186.6 233.3h1.1v21.5h-1.1zM186.6 377.8h1.1v6.1h-1.1zM194.6 233.3h1.1v19.1h-1.1zM196.6 328.8h1.1v25.4h-1.1zM198.6 333.4h1.1v17h-1.1zM199.6 273.9h1.1v16.7h-1.1zM204.6 281.4h1.1v6.5h-1.1zM219.6 245.2h1.1v21.4h-1.1zM223.6 249.1h1.1v15.4h-1.1zM231.6 270.9h1.1v27.9h-1.1zM238.6 233.3h1.1v20.4h-1.1zM239.6 246.6h1.1v11.8h-1.1zM240.6 282.1h1.1v6.8h-1.1zM240.6 350.4h1.1v10.3h-1.1zM248.6 233.3h1.1v17.6h-1.1zM250.6 373.3h1.1v27.6h-1.1zM251.6 292h1.1v16.9h-1.1zM255.6 405.1h1.1v10.5h-1.1zM257.6 332.4h1.1v14h-1.1zM259.6 386.3h1.1v16.3h-1.1zM260.6 275.1h1.1v14.5h-1.1zM306.6 289.1h1.1v13.7h-1.1zM310.6 328.6h1.1v20.5h-1.1zM323.6 344.9h1.1v25.4h-1.1zM335.6 349.6h1.1v7.4h-1.1zM341.6 310.3h1.1v22.7h-1.1zM345.6 370.6h1.1v27.2h-1.1zM349.6 256.8h1.1v12.3h-1.1zM351.6 300h1.1v24.2h-1.1zM352.6 233.3h1.1v20.8h-1.1zM354.6 243.8h1.1v27.2h-1.1zM356.6 324.1h1.1v8.4h-1.1zM356.6 370.6h1.1v10.4h-1.1zM357.6 272.3h1.1v15.4h-1.1zM358.6 323.2h1.1v7.4h-1.1zM359.6 279.3h1.1v13.4h-1.1zM359.6 365.7h1.1v13.2h-1.1zM360.6 337.3h1.1v7.9h-1.1zM363.6 353.4h1.1v24h-1.1zM364.6 351.7h1.1v25.2h-1.1zM364.6 392.3h1.1v21.7h-1.1zM366.6 292.9h1.1v21.3h-1.1zM368.6 319.4h1.1v14.9h-1.1zM370.6 403.7h1.1v25.5h-1.1zM371.6 258.6h1.1v14.2h-1.1z"/>
<path fill="#4433cd" d="M180.6 343.8h1.1v17h-1.1zM181.6 317.5h1.1v21.7h-1.1zM188.6 233.3h1.1v13.1h-1.1zM190.6 233.3h1.1v23.4h-1.1zM197.6 278.5h1.1v7.1h-1.1zM207.6 337.7h1.1v20.1h-1.1zM223.6 318h1.1v17.3h-1.1zM225.6 271.4h1.1v12.5h-1.1zM233.6 387.9h1.1v7.9h-1.1zM237.6 318h1.1v13.6h-1.1zM242.6 368.4h1.1v9h-1.1zM251.6 392.5h1.1v15.2h-1.1zM266.6 399.1h1.1v25.4h-1.1zM269.6 328.7h1.1v9.2h-1.1zM272.6 386.1h1.1v19.6h-1.1zM275.6 350h1.1v11.5h-1.1zM285.6 259.7h1.1v6.3h-1.1zM292.6 285.5h1.1v20.5h-1.1zM294.6 363.6h1.1v12.7h-1.1zM295.6 314.8h1.1v13.6h-1.1zM301.6 265.8h1.1v12.4h-1.1zM303.6 337.2h1.1v14.1h-1.1zM316.6 303.9h1.1v20.6h-1.1zM318.6 354.6h1.1v25.2h-1.1zM338.6 278.5h1.1v22.8h-1.1zM349.6 347.4h1.1v17h-1.1zM355.6 389.6h1.1v8.8h-1.1zM356.6 251.6h1.1v8.8h-1.1zM362.6 301.5h1.1v25.6h-1.1zM362.6 375.6h1.1v25.7h-1.1zM365.6 273.1h1.1v18.5h-1.1zM366.6 252h1.1v26.2h-1.1zM371.6 233.3h1.1v25.3h-1.1z"/>
<path fill="#4434cd" d="M208.6 272.9h1.1v8.7h-1.1zM217.6 345.6h1.1v24.4h-1.1zM354.6 395.6h1.1v20h-1.1zM357.6 365.4h1.1v26.7h-1.1z"/>
<path fill="#4434ce" d="M177.6 239.6h1.1v16.7h-1.1zM177.6 379.4h1.1v25.4h-1.1zM185.6 369.8h1.1v14.3h-1.1zM192.6 243.2h1.1v13.8h-1.1zM202.6 373.9h1.1v23.8h-1.1zM206.6 251.5h1.1v11.5h-1.1zM208.6 315.4h1.1v24.2h-1.1zM212.6 346.4h1.1v8.6h-1.1zM224.6 313.8h1.1v17h-1.1zM225.6 250.1h1.1v21.3h-1.1zM232.6 262.2h1.1v23.8h-1.1zM235.6 332.6h1.1v14.5h-1.1zM251.6 347.8h1.1v8h-1.1zM253.6 304.8h1.1v9.3h-1.1zM254.6 320.4h1.1v12.8h-1.1zM256.6 233.3h1.1v27.4h-1.1zM257.6 286.3h1.1v25.7h-1.1zM259.6 322.7h1.1v7h-1.1zM260.6 308h1.1v6.5h-1.1zM263.6 302.3h1.1v24.4h-1.1zM271.6 315.4h1.1v22.1h-1.1zM275.6 374.2h1.1v7h-1.1zM276.6 278.1h1.1v16.8h-1.1zM277.6 367.7h1.1v17.3h-1.1zM297.6 362.1h1.1v24h-1.1zM319.6 301.1h1.1v10.3h-1.1zM323.6 233.3h1.1v25.4h-1.1zM323.6 309.1h1.1v19.5h-1.1zM327.6 362.1h1.1v10.6h-1.1zM327.6 396.2h1.1v15.1h-1.1zM330.6 243.7h1.1v16.8h-1.1zM331.6 259.9h1.1v25.6h-1.1zM350.6 233.3h1.1v20.7h-1.1zM363.6 252h1.1v15.9h-1.1zM366.6 278.2h1.1v7.7h-1.1z"/>
<path fill="#4434cf" d="M181.6 390.2h1.1v27.4h-1.1zM183.6 264.6h1.1v9.8h-1.1zM187.6 320.8h1.1v15.6h-1.1zM191.6 372.3h1.1v27.8h-1.1zM201.6 246.1h1.1v19.3h-1.1zM210.6 320.1h1.1v22.4h-1.1zM212.6 244.9h1.1v20.1h-1.1zM214.6 330.9h1.1v10.9h-1.1zM218.6 356h1.1v17.8h-1.1zM221.6 372.6h1.1v21h-1.1zM224.6 259.4h1.1v26.8h-1.1zM230.6 246.9h1.1v26.4h-1.1zM232.6 370.1h1.1v13.5h-1.1zM239.6 233.3h1.1v13.3h-1.1zM253.6 385.3h1.1v10.5h-1.1zM258.6 275.5h1.1v10.5h-1.1zM262.6 260.8h1.1v17.9h-1.1zM284.6 339.3h1.1v6.9h-1.1zM289.6 341.7h1.1v26.3h-1.1zM295.6 348.6h1.1v21.4h-1.1zM305.6 337.8h1.1v21.3h-1.1zM315.6 251.1h1.1v20.8h-1.1zM327.6 244.6h1.1v17.7h-1.1zM333.6 406h1.1v19.7h-1.1zM336.6 252h1.1v11.7h-1.1zM338.6 233.3h1.1v16.9h-1.1zM339.6 321.7h1.1v24.2h-1.1zM346.6 319.7h1.1v21.8h-1.1zM347.6 241.3h1.1v11.9h-1.1z"/>
<path fill="#4434d0" d="M215.6 233.3h1.1v15.3h-1.1zM224.6 388.6h1.1v21.5h-1.1zM225.6 369.8h1.1v20h-1.1zM267.6 320.9h1.1v27.3h-1.1zM348.6 247.9h1.1v11.8h-1.1zM350.6 349.4h1.1v22.9h-1.1z"/>
<path fill="#4435d0" d="M269.6 383.8h1.1v14.4h-1.1zM273.6 311.2h1.1v10.9h-1.1zM278.6 332.5h1.1v13.8h-1.1zM284.6 387.5h1.1v24h-1.1zM286.6 340.4h1.1v14.6h-1.1zM292.6 353.5h1.1v14.2h-1.1zM304.6 354.2h1.1v14h-1.1zM311.6 336.5h1.1v13h-1.1zM328.6 343.4h1.1v7h-1.1zM349.6 233.3h1.1v23.5h-1.1zM350.6 372.3h1.1v10.3h-1.1zM357.6 249.9h1.1v22.3h-1.1zM365.6 348.7h1.1v6.2h-1.1zM369.6 367.9h1.1v6.9h-1.1z"/>
<path fill="#4435d1" d="M266.6 294.5h1.1v12.1h-1.1zM270.6 353.8h1.1v25.2h-1.1zM302.6 269.9h1.1v23.1h-1.1zM309.6 302h1.1v11.8h-1.1zM344.6 251.5h1.1v16.1h-1.1zM353.6 305.2h1.1v6.8h-1.1zM359.6 250.7h1.1v9.1h-1.1zM363.6 317.7h1.1v23h-1.1zM364.6 293.5h1.1v24.7h-1.1zM370.6 314.2h1.1v22.4h-1.1z"/>
<path fill="#4435d2" d="M308.6 316.5h1.1v12.9h-1.1zM320.6 338.6h1.1v27.8h-1.1z"/>
<path fill="#4464fd" d="M365.6 258.9h1.1v14.2h-1.1z"/>
<path fill="#4465fd" d="M337.6 309.8h1.1v9.9h-1.1zM364.6 267.3h1.1v26.2h-1.1zM366.6 403.7h1.1v26.3h-1.1z"/>
<path fill="#4466fd" d="M325.6 341.1h1.1v22.8h-1.1zM330.6 358.2h1.1v12.4h-1.1zM348.6 269h1.1v27.2h-1.1zM359.6 358.3h1.1v7.4h-1.1zM360.6 392.5h1.1v25.4h-1.1z"/>
<path fill="#4535d2" d="M268.6 246.3h1.1v26.6h-1.1zM284.6 249.4h1.1v20.8h-1.1zM344.6 377h1.1v8.1h-1.1zM367.6 326.3h1.1v17.9h-1.1z"/>
<path fill="#4536d2" d="M358.6 402.2h1.1v25.3h-1.1z"/>
<path fill="#4536d3" d="M271.6 393.8h1.1v21.2h-1.1zM282.6 372.1h1.1v23h-1.1zM287.6 312.7h1.1v24.9h-1.1zM292.6 367.7h1.1v21.7h-1.1zM297.6 287.9h1.1v16.9h-1.1zM307.6 306.7h1.1v8.9h-1.1zM312.6 310.4h1.1v6.9h-1.1zM335.6 388.1h1.1v10.9h-1.1zM336.6 295.1h1.1v24.1h-1.1zM356.6 274h1.1v17.2h-1.1zM356.6 291.1h1.1v15.1h-1.1zM362.6 273.2h1.1v6.8h-1.1zM365.6 291.6h1.1v16h-1.1z"/>
<path fill="#4536d4" d="M281.6 272.5h1.1v20.7h-1.1zM285.6 375.8h1.1v9.4h-1.1zM321.6 405h1.1v27h-1.1zM330.6 303.8h1.1v13h-1.1zM334.6 260.9h1.1v10.7h-1.1zM335.6 233.3h1.1v22.7h-1.1zM346.6 385.5h1.1v22.8h-1.1zM350.6 307.5h1.1v27.3h-1.1zM360.6 285.3h1.1v20.2h-1.1zM362.6 233.3h1.1v27.5h-1.1zM367.6 240.3h1.1v16.7h-1.1zM367.6 404.5h1.1v26.4h-1.1z"/>
<path fill="#4536d5" d="M332.6 233.3h1.1v20.1h-1.1z"/>
<path fill="#4537d5" d="M273.6 285.1h1.1v26.2h-1.1zM273.6 363.6h1.1v24.7h-1.1zM306.6 277.7h1.1v11.4h-1.1zM319.6 286h1.1v8.6h-1.1zM329.6 357.1h1.1v26.7h-1.1zM336.6 384.7h1.1v8.5h-1.1zM341.6 381.4h1.1v18.7h-1.1zM352.6 298.6h1.1v20.2h-1.1zM371.6 357.7h1.1v16.3h-1.1z"/>
<path fill="#4537d6" d="M270.6 264.2h1.1v6.4h-1.1zM270.6 327.3h1.1v12.6h-1.1zM278.6 260.9h1.1v18.8h-1.1zM279.6 358h1.1v17.7h-1.1zM280.6 319.6h1.1v26.8h-1.1zM287.6 293.5h1.1v13.2h-1.1zM293.6 262.7h1.1v15.5h-1.1zM293.6 363.2h1.1v10.1h-1.1zM323.6 370.3h1.1v11.6h-1.1zM334.6 298.6h1.1v27.2h-1.1zM339.6 370.6h1.1v13h-1.1zM346.6 289.6h1.1v12h-1.1zM351.6 361.8h1.1v27.1h-1.1zM370.6 265.6h1.1v18.7h-1.1zM370.6 336.5h1.1v19.1h-1.1z"/>
<path fill="#4538d7" d="M274.6 346.2h1.1v9.7h-1.1zM280.6 259.3h1.1v9.8h-1.1zM309.6 403.7h1.1v20.2h-1.1zM315.6 326.1h1.1v24.1h-1.1zM316.6 261h1.1v7.4h-1.1zM316.6 324.6h1.1v19.5h-1.1zM317.6 347.3h1.1v15.6h-1.1zM318.6 299.9h1.1v24.4h-1.1zM325.6 316.8h1.1v24.3h-1.1zM351.6 233.3h1.1v26.2h-1.1z"/>
<path fill="#4538d8" d="M286.6 233.3h1.1v26.8h-1.1zM286.6 307.3h1.1v11.7h-1.1zM289.6 391h1.1v22.4h-1.1zM298.6 304.8h1.1v22.2h-1.1zM306.6 359h1.1v8h-1.1zM308.6 329.4h1.1v16.6h-1.1zM321.6 345.1h1.1v27.2h-1.1zM330.6 370.6h1.1v18.1h-1.1zM357.6 345.5h1.1v20h-1.1zM358.6 281.8h1.1v11.5h-1.1zM363.6 377.4h1.1v20.1h-1.1zM368.6 373.1h1.1v12.2h-1.1z"/>
<path fill="#4539d8" d="M286.6 260.1h1.1v21.8h-1.1zM357.6 399.7h1.1v19.3h-1.1zM366.6 285.8h1.1v7.1h-1.1z"/>
<path fill="#4539d9" d="M275.6 361.5h1.1v12.7h-1.1zM296.6 378.3h1.1v8.9h-1.1zM299.6 260.4h1.1v23.2h-1.1zM307.6 282.4h1.1v24.2h-1.1zM309.6 258.9h1.1v11.3h-1.1zM326.6 265.6h1.1v27.8h-1.1zM328.6 402.5h1.1v7.9h-1.1zM360.6 313.5h1.1v23.8h-1.1z"/>
<path fill="#4561fc" d="M345.6 353.4h1.1v8h-1.1z"/>
<path fill="#4562fc" d="M304.6 285h1.1v14.6h-1.1zM337.6 397.1h1.1v11.3h-1.1zM347.6 345.2h1.1v6.9h-1.1zM359.6 302.7h1.1v23h-1.1z"/>
<path fill="#4563fc" d="M303.6 274.2h1.1v10.1h-1.1z"/>
<path fill="#4564fd" d="M329.6 383.8h1.1v26.2h-1.1zM359.6 233.3h1.1v17.4h-1.1z"/>
<path fill="#4639da" d="M292.6 306h1.1v16h-1.1zM318.6 391.2h1.1v26.8h-1.1zM346.6 270.9h1.1v18.6h-1.1zM356.6 260.4h1.1v13.5h-1.1zM357.6 300.7h1.1v18.5h-1.1z"/>
<path fill="#463ada" d="M317.6 233.3h1.1v26.7h-1.1zM328.6 308.9h1.1v21.5h-1.1zM346.6 301.5h1.1v18.1h-1.1zM370.6 355.6h1.1v19.2h-1.1z"/>
<path fill="#463adb" d="M285.6 233.3h1.1v26.4h-1.1zM285.6 366.5h1.1v9.3h-1.1zM290.6 292.4h1.1v19.6h-1.1zM331.6 326.8h1.1v15.3h-1.1zM353.6 364.8h1.1v9.4h-1.1zM354.6 363.8h1.1v25.8h-1.1zM357.6 319.1h1.1v9.1h-1.1zM367.6 344.2h1.1v10.2h-1.1zM370.6 374.9h1.1v21.1h-1.1z"/>
<path fill="#463adc" d="M274.6 355.9h1.1v14.1h-1.1zM275.6 381.2h1.1v23.1h-1.1zM319.6 400.2h1.1v26.7h-1.1zM347.6 309.7h1.1v11h-1.1zM349.6 321.4h1.1v26h-1.1zM358.6 311.2h1.1v11.9h-1.1z"/>
<path fill="#463bdc" d="M286.6 355h1.1v14h-1.1zM333.6 337.5h1.1v21.7h-1.1zM344.6 286.7h1.1v18.6h-1.1zM355.6 285h1.1v17h-1.1z"/>
<path fill="#463bdd" d="M277.6 344.9h1.1v22.8h-1.1zM280.6 297h1.1v22.7h-1.1zM283.6 392h1.1v27.5h-1.1zM285.6 321.7h1.1v7h-1.1zM287.6 306.7h1.1v6h-1.1zM293.6 348.4h1.1v14.8h-1.1zM318.6 233.3h1.1v20.5h-1.1zM325.6 363.9h1.1v24.3h-1.1zM327.6 289.7h1.1v9.6h-1.1zM330.6 260.5h1.1v19.6h-1.1zM331.6 398.4h1.1v8.7h-1.1zM336.6 376.2h1.1v8.5h-1.1zM339.6 298.5h1.1v23.2h-1.1zM342.6 403.5h1.1v20.2h-1.1zM352.6 355.6h1.1v23.8h-1.1zM355.6 249.8h1.1v23.5h-1.1zM360.6 270.7h1.1v14.6h-1.1zM371.6 382.4h1.1v24h-1.1z"/>
<path fill="#463bde" d="M291.6 377.3h1.1v17.9h-1.1zM351.6 267h1.1v8.5h-1.1z"/>
<path fill="#463cde" d="M277.6 270.4h1.1v15h-1.1zM278.6 317.6h1.1v14.9h-1.1zM287.6 362.7h1.1v17.3h-1.1zM290.6 335.5h1.1v6.8h-1.1zM293.6 330h1.1v18.4h-1.1zM298.6 251.6h1.1v7.6h-1.1zM300.6 250.6h1.1v27.9h-1.1zM300.6 323.4h1.1v6.6h-1.1zM307.6 384.1h1.1v9.2h-1.1zM342.6 348.1h1.1v13.3h-1.1zM346.6 349.6h1.1v7.5h-1.1zM349.6 364.4h1.1v27.2h-1.1z"/>
<path fill="#463cdf" d="M287.6 380h1.1v25.5h-1.1zM301.6 288.3h1.1v21.3h-1.1zM315.6 350.2h1.1v18.3h-1.1zM346.6 357.1h1.1v8.7h-1.1zM358.6 355.4h1.1v22.3h-1.1z"/>
<path fill="#463ddf" d="M302.6 343.2h1.1v6.7h-1.1zM306.6 267.6h1.1v10.1h-1.1zM307.6 355.3h1.1v7.3h-1.1zM356.6 381.1h1.1v27.6h-1.1zM357.6 233.3h1.1v16.6h-1.1z"/>
<path fill="#463de0" d="M307.6 362.6h1.1v21.5h-1.1zM309.6 354.8h1.1v10.4h-1.1zM310.6 265.4h1.1v18.2h-1.1zM313.6 267.1h1.1v9.5h-1.1zM322.6 265.4h1.1v7.2h-1.1zM326.6 233.3h1.1v21.1h-1.1zM363.6 267.9h1.1v26h-1.1zM365.6 342.5h1.1v6.2h-1.1zM371.6 331.6h1.1v18.2h-1.1z"/>
<path fill="#463ee0" d="M285.6 352.4h1.1v14.1h-1.1z"/>
<path fill="#463ee1" d="M281.6 233.3h1.1v16h-1.1zM283.6 233.3h1.1v18.7h-1.1zM296.6 233.3h1.1v19.2h-1.1zM304.6 400.8h1.1v12.1h-1.1zM311.6 306.9h1.1v12h-1.1zM320.6 280.4h1.1v8.2h-1.1zM321.6 296.8h1.1v27.2h-1.1zM322.6 233.3h1.1v6.3h-1.1zM327.6 299.3h1.1v22.1h-1.1zM328.6 350.5h1.1v25h-1.1zM335.6 366.5h1.1v21.6h-1.1zM344.6 331.6h1.1v16.2h-1.1zM353.6 284.1h1.1v21.1h-1.1zM359.6 259.8h1.1v19.5h-1.1z"/>
<path fill="#465dfa" d="M318.6 344.7h1.1v9.9h-1.1zM348.6 233.3h1.1v14.6h-1.1zM367.6 233.3h1.1v7h-1.1z"/>
<path fill="#465dfb" d="M341.6 345.7h1.1v16h-1.1z"/>
<path fill="#465efb" d="M306.6 392.8h1.1v15.5h-1.1zM322.6 272.6h1.1v9.2h-1.1zM340.6 393.2h1.1v24h-1.1zM352.6 326.8h1.1v19.4h-1.1zM357.6 392.2h1.1v7.5h-1.1zM361.6 321.9h1.1v13.6h-1.1z"/>
<path fill="#465ffb" d="M321.6 385.6h1.1v19.4h-1.1zM358.6 388h1.1v14.2h-1.1z"/>
<path fill="#4660fb" d="M328.6 375.5h1.1v17.4h-1.1z"/>
<path fill="#4660fc" d="M333.6 256.6h1.1v23.4h-1.1zM340.6 293h1.1v22.3h-1.1zM347.6 371.6h1.1v10.1h-1.1z"/>
<path fill="#4661fc" d="M368.6 394h1.1v24.9h-1.1z"/>
<path fill="#473ee1" d="M300.6 360.9h1.1v6.5h-1.1zM301.6 241.7h1.1v24.1h-1.1zM305.6 265.9h1.1v8.9h-1.1zM322.6 350.8h1.1v24.9h-1.1zM323.6 328.6h1.1v16.3h-1.1zM324.6 405h1.1v9h-1.1zM355.6 398.5h1.1v23h-1.1zM359.6 378.9h1.1v11h-1.1zM371.6 374h1.1v8.4h-1.1z"/>
<path fill="#473ee2" d="M317.6 317.1h1.1v18.3h-1.1zM326.6 293.4h1.1v14.2h-1.1zM326.6 405.2h1.1v11.8h-1.1zM336.6 281.9h1.1v13.1h-1.1z"/>
<path fill="#473fe2" d="M288.6 387h1.1v25.9h-1.1zM297.6 326.9h1.1v17.7h-1.1zM302.6 293.1h1.1v13.4h-1.1zM311.6 349.5h1.1v20.8h-1.1zM323.6 407.6h1.1v18.9h-1.1zM325.6 295.3h1.1v21.5h-1.1zM327.6 271.4h1.1v8h-1.1zM328.6 233.3h1.1v19.4h-1.1zM338.6 301.3h1.1v23.4h-1.1zM348.6 259.6h1.1v9.3h-1.1z"/>
<path fill="#473fe3" d="M300.6 387.1h1.1v12.5h-1.1zM322.6 323.1h1.1v27.7h-1.1zM322.6 394.3h1.1v10h-1.1zM332.6 336.8h1.1v24.4h-1.1zM332.6 403.6h1.1v26.9h-1.1zM333.6 280h1.1v11.9h-1.1zM335.6 262.7h1.1v14.3h-1.1zM369.6 256.4h1.1v19.1h-1.1z"/>
<path fill="#4740e3" d="M292.6 405h1.1v18h-1.1zM314.6 395.1h1.1v15.6h-1.1zM321.6 284.2h1.1v12.6h-1.1zM333.6 233.3h1.1v15.4h-1.1zM333.6 383.2h1.1v22.8h-1.1zM335.6 290.6h1.1v14.2h-1.1zM340.6 257.6h1.1v11.2h-1.1zM340.6 336.1h1.1v27.5h-1.1z"/>
<path fill="#4740e4" d="M282.6 257.1h1.1v25.1h-1.1zM295.6 370h1.1v16.4h-1.1zM301.6 336.7h1.1v16.7h-1.1zM302.6 349.9h1.1v23.6h-1.1zM311.6 249.6h1.1v12.9h-1.1zM324.6 379.7h1.1v11.9h-1.1zM327.6 339.1h1.1v23.1h-1.1zM338.6 385.7h1.1v10.4h-1.1zM345.6 342.6h1.1v10.7h-1.1zM350.6 382.6h1.1v16.9h-1.1zM356.6 332.5h1.1v24.4h-1.1zM360.6 305.6h1.1v7.9h-1.1z"/>
<path fill="#4741e4" d="M312.6 327.9h1.1v24.8h-1.1zM326.6 307.6h1.1v21h-1.1zM344.6 267.6h1.1v19.1h-1.1z"/>
<path fill="#4741e5" d="M288.6 242.1h1.1v13.4h-1.1zM293.6 278.2h1.1v15h-1.1zM294.6 376.3h1.1v22.5h-1.1zM301.6 309.6h1.1v27.1h-1.1zM303.6 247.6h1.1v26.6h-1.1zM315.6 282.6h1.1v25h-1.1zM315.6 307.7h1.1v18.4h-1.1zM321.6 247.7h1.1v17.3h-1.1zM324.6 323.1h1.1v13.6h-1.1zM326.6 361.3h1.1v24.8h-1.1zM327.6 279.3h1.1v10.3h-1.1zM331.6 348.8h1.1v18.9h-1.1zM331.6 407.1h1.1v7.9h-1.1zM339.6 383.6h1.1v12.8h-1.1zM341.6 333h1.1v12.7h-1.1zM343.6 327.5h1.1v16.6h-1.1zM351.6 293.8h1.1v6.2h-1.1zM354.6 314.8h1.1v27.6h-1.1zM365.6 397.1h1.1v10.2h-1.1zM367.6 354.3h1.1v26.7h-1.1zM369.6 374.8h1.1v24.4h-1.1zM371.6 406.5h1.1v26.7h-1.1z"/>
<path fill="#4742e6" d="M296.6 337.2h1.1v25.4h-1.1zM299.6 305.5h1.1v24h-1.1zM300.6 330.1h1.1v15.3h-1.1zM304.6 233.3h1.1v26.7h-1.1zM316.6 253.4h1.1v7.6h-1.1zM319.6 241.7h1.1v18.5h-1.1zM330.6 280.1h1.1v17.3h-1.1zM334.6 242.1h1.1v18.9h-1.1zM344.6 393h1.1v8.3h-1.1zM352.6 281.3h1.1v17.3h-1.1zM353.6 327.9h1.1v12.9h-1.1zM355.6 323.4h1.1v13.7h-1.1zM358.6 250h1.1v19.3h-1.1zM358.6 330.6h1.1v24.9h-1.1zM359.6 344h1.1v14.3h-1.1zM361.6 268.4h1.1v8.5h-1.1z"/>
<path fill="#4742e7" d="M340.6 233.3h1.1v24.3h-1.1z"/>
<path fill="#4743e7" d="M289.6 368.1h1.1v23h-1.1zM292.6 322h1.1v22.7h-1.1zM296.6 397.3h1.1v21.6h-1.1zM300.6 345.4h1.1v7.6h-1.1zM302.6 250.1h1.1v19.8h-1.1zM308.6 280.4h1.1v27.1h-1.1zM315.6 381.1h1.1v21.1h-1.1zM318.6 278.7h1.1v21.1h-1.1zM338.6 266.7h1.1v11.9h-1.1zM343.6 260.3h1.1v9.3h-1.1zM364.6 318.3h1.1v9.8h-1.1zM365.6 372.4h1.1v9h-1.1zM367.6 381h1.1v23.4h-1.1zM369.6 275.5h1.1v21.8h-1.1zM371.6 272.8h1.1v16.6h-1.1zM371.6 349.9h1.1v7.8h-1.1z"/>
<path fill="#4744e8" d="M299.6 335.8h1.1v9.8h-1.1zM300.6 367.4h1.1v19.7h-1.1zM302.6 390.1h1.1v19.5h-1.1zM310.6 349.1h1.1v23.9h-1.1zM311.6 387.6h1.1v16.1h-1.1zM324.6 271.8h1.1v25.1h-1.1zM326.6 254.4h1.1v11.2h-1.1zM326.6 343.5h1.1v17.8h-1.1zM328.6 392.9h1.1v9.5h-1.1zM330.6 233.3h1.1v10.4h-1.1zM336.6 263.7h1.1v18.2h-1.1zM342.6 392h1.1v11.5h-1.1zM346.6 253.1h1.1v17.8h-1.1zM355.6 368.1h1.1v21.6h-1.1zM356.6 306.3h1.1v17.8h-1.1z"/>
<path fill="#4744e9" d="M299.6 396.4h1.1v21.7h-1.1zM365.6 315.7h1.1v6.3h-1.1z"/>
<path fill="#4745e9" d="M299.6 233.3h1.1v16h-1.1zM303.6 397.4h1.1v22.4h-1.1zM311.6 233.3h1.1v6.1h-1.1zM317.6 290.7h1.1v26.4h-1.1zM323.6 381.9h1.1v25.7h-1.1zM335.6 256h1.1v6.8h-1.1zM337.6 347h1.1v25.6h-1.1zM342.6 297.4h1.1v18.1h-1.1zM347.6 320.7h1.1v24.6h-1.1zM353.6 275h1.1v9.1h-1.1zM361.6 255.6h1.1v12.8h-1.1zM364.6 328h1.1v23.7h-1.1zM366.6 242.4h1.1v9.6h-1.1z"/>
<path fill="#4745ea" d="M302.6 306.4h1.1v12.7h-1.1zM334.6 391.9h1.1v26.1h-1.1zM351.6 333.7h1.1v21.5h-1.1z"/>
<path fill="#4746ea" d="M289.6 275.1h1.1v12.9h-1.1zM290.6 367.8h1.1v20.5h-1.1zM303.6 328.6h1.1v8.6h-1.1zM306.6 345.2h1.1v13.9h-1.1zM311.6 262.5h1.1v10h-1.1zM321.6 265h1.1v19.2h-1.1zM331.6 247.4h1.1v12.5h-1.1zM334.6 279.2h1.1v8.3h-1.1zM346.6 365.7h1.1v19.8h-1.1zM347.6 290h1.1v19.6h-1.1zM356.6 356.9h1.1v13.7h-1.1z"/>
<path fill="#4746eb" d="M359.6 389.9h1.1v27.3h-1.1z"/>
<path fill="#4747eb" d="M290.6 233.3h1.1v23.8h-1.1zM291.6 233.3h1.1v16.6h-1.1zM310.6 397.2h1.1v21.3h-1.1zM313.6 394.2h1.1v19.3h-1.1zM317.6 362.9h1.1v8.7h-1.1zM336.6 245.1h1.1v6.9h-1.1zM337.6 287.6h1.1v22.1h-1.1zM341.6 361.7h1.1v11h-1.1zM343.6 400.8h1.1v23.3h-1.1z"/>
<path fill="#4755f6" d="M313.6 276.6h1.1v22.8h-1.1zM329.6 269.5h1.1v11.4h-1.1zM332.6 273h1.1v18.7h-1.1zM340.6 384.2h1.1v9h-1.1zM362.6 339.9h1.1v22.5h-1.1z"/>
<path fill="#4756f7" d="M332.6 371.7h1.1v15.7h-1.1zM357.6 328.2h1.1v17.2h-1.1z"/>
<path fill="#4757f7" d="M301.6 391.7h1.1v15.6h-1.1zM303.6 306.8h1.1v11.6h-1.1zM312.6 382.8h1.1v25.2h-1.1zM322.6 281.8h1.1v22.5h-1.1zM331.6 367.7h1.1v12.1h-1.1zM338.6 367.7h1.1v18h-1.1zM339.6 252.8h1.1v13h-1.1zM360.6 370.2h1.1v22.3h-1.1zM368.6 334.3h1.1v21h-1.1z"/>
<path fill="#4758f8" d="M299.6 345.6h1.1v27.6h-1.1zM314.6 371.9h1.1v7.5h-1.1zM331.6 233.3h1.1v14.1h-1.1zM335.6 304.8h1.1v10h-1.1zM341.6 233.3h1.1v6.7h-1.1zM348.6 296.2h1.1v10.6h-1.1zM355.6 302h1.1v21.4h-1.1zM362.6 401.3h1.1v6.6h-1.1zM370.6 251.7h1.1v14h-1.1zM371.6 306.9h1.1v24.7h-1.1z"/>
<path fill="#4759f8" d="M314.6 298.1h1.1v26.1h-1.1zM319.6 260.2h1.1v25.8h-1.1zM361.6 387.9h1.1v8.7h-1.1zM369.6 343.7h1.1v24.2h-1.1z"/>
<path fill="#4759f9" d="M355.6 273.2h1.1v11.8h-1.1z"/>
<path fill="#475af9" d="M314.6 332.7h1.1v10.6h-1.1zM315.6 402.2h1.1v24.1h-1.1zM330.6 388.7h1.1v24.7h-1.1zM334.6 287.5h1.1v11.2h-1.1zM340.6 363.6h1.1v20.6h-1.1zM345.6 276.2h1.1v20.3h-1.1zM367.6 284.5h1.1v22.9h-1.1z"/>
<path fill="#475bf9" d="M319.6 294.6h1.1v6.5h-1.1zM321.6 233.3h1.1v14.4h-1.1zM326.6 393.6h1.1v11.6h-1.1z"/>
<path fill="#475bfa" d="M368.6 276.3h1.1v19.8h-1.1z"/>
<path fill="#475cfa" d="M298.6 352.4h1.1v21.8h-1.1zM320.6 366.4h1.1v19.1h-1.1zM342.6 315.5h1.1v6h-1.1zM342.6 361.3h1.1v22.4h-1.1z"/>
<path fill="#4847ec" d="M314.6 379.4h1.1v15.7h-1.1z"/>
<path fill="#4848ec" d="M309.6 332.3h1.1v22.5h-1.1zM310.6 383.9h1.1v13.3h-1.1zM333.6 312.7h1.1v24.8h-1.1zM335.6 277h1.1v13.6h-1.1zM335.6 357h1.1v9.5h-1.1zM347.6 390.3h1.1v13h-1.1zM351.6 259.5h1.1v7.5h-1.1zM365.6 407.3h1.1v25.7h-1.1z"/>
<path fill="#4849ed" d="M307.6 329.9h1.1v16.3h-1.1zM313.6 353.8h1.1v21.5h-1.1zM313.6 375.3h1.1v18.9h-1.1zM339.6 286.7h1.1v11.8h-1.1zM339.6 345.9h1.1v17.6h-1.1zM366.6 350.3h1.1v19.9h-1.1z"/>
<path fill="#484aed" d="M336.6 350.8h1.1v25.4h-1.1zM349.6 391.5h1.1v15.1h-1.1zM350.6 399.4h1.1v21.3h-1.1z"/>
<path fill="#484aee" d="M303.6 233.3h1.1v14.3h-1.1zM304.6 299.6h1.1v17.2h-1.1zM305.6 406.5h1.1v20.8h-1.1zM307.6 255.9h1.1v26.5h-1.1zM326.6 328.6h1.1v14.9h-1.1zM345.6 333.4h1.1v9.2h-1.1zM351.6 324.2h1.1v9.5h-1.1zM362.6 260.8h1.1v12.5h-1.1zM368.6 296.1h1.1v23.4h-1.1zM370.6 233.3h1.1v18.4h-1.1z"/>
<path fill="#484bee" d="M309.6 270.2h1.1v14.6h-1.1zM320.6 256.4h1.1v24h-1.1zM324.6 233.3h1.1v14.4h-1.1zM348.6 363.9h1.1v21.6h-1.1zM359.6 325.7h1.1v18.3h-1.1zM365.6 381.4h1.1v15.7h-1.1z"/>
<path fill="#484bef" d="M317.6 335.4h1.1v11.9h-1.1zM342.6 321.5h1.1v26.5h-1.1z"/>
<path fill="#484cef" d="M299.6 329.5h1.1v6.4h-1.1zM306.6 251.5h1.1v16.1h-1.1zM306.6 367h1.1v25.8h-1.1zM312.6 317.3h1.1v10.6h-1.1zM314.6 233.3h1.1v26.4h-1.1zM345.6 296.5h1.1v14.6h-1.1zM361.6 294.6h1.1v10.6h-1.1zM361.6 365.3h1.1v22.6h-1.1zM366.6 370.1h1.1v6.3h-1.1zM369.6 399.2h1.1v14.8h-1.1z"/>
<path fill="#484cf0" d="M316.6 293.7h1.1v10.2h-1.1zM350.6 280.5h1.1v27.1h-1.1zM354.6 233.3h1.1v10.5h-1.1zM366.6 233.3h1.1v9.1h-1.1zM366.6 314.3h1.1v11.6h-1.1z"/>
<path fill="#484df0" d="M334.6 351.8h1.1v12.5h-1.1zM347.6 233.3h1.1v8h-1.1zM347.6 403.3h1.1v20.9h-1.1zM348.6 340.3h1.1v23.6h-1.1z"/>
<path fill="#484df1" d="M325.6 233.3h1.1v24.1h-1.1z"/>
<path fill="#484ef1" d="M323.6 269.3h1.1v10h-1.1zM334.6 364.4h1.1v27.6h-1.1zM337.6 233.3h1.1v15.6h-1.1zM343.6 242.8h1.1v17.5h-1.1zM344.6 347.8h1.1v23.1h-1.1zM352.6 254.1h1.1v17.6h-1.1zM356.6 233.3h1.1v18.3h-1.1zM361.6 276.9h1.1v17.7h-1.1zM362.6 327.1h1.1v12.8h-1.1zM364.6 233.3h1.1v22.2h-1.1zM366.6 376.4h1.1v10.8h-1.1zM370.6 293.7h1.1v20.5h-1.1z"/>
<path fill="#484ff1" d="M307.6 315.6h1.1v7.5h-1.1z"/>
<path fill="#484ff2" d="M300.6 233.3h1.1v17.3h-1.1zM314.6 343.3h1.1v16.2h-1.1zM324.6 354.7h1.1v25h-1.1zM333.6 248.7h1.1v7.9h-1.1zM343.6 371h1.1v6.2h-1.1zM349.6 406.6h1.1v24h-1.1zM350.6 254h1.1v18.5h-1.1zM358.6 293.2h1.1v6.8h-1.1zM361.6 396.6h1.1v23.7h-1.1zM363.6 340.7h1.1v12.7h-1.1zM367.6 257h1.1v27.6h-1.1zM369.6 324.6h1.1v19.1h-1.1z"/>
<path fill="#4850f2" d="M328.6 252.7h1.1v17.8h-1.1z"/>
<path fill="#4850f3" d="M319.6 338.2h1.1v27.3h-1.1zM351.6 275.5h1.1v18.3h-1.1zM357.6 287.7h1.1v12.9h-1.1z"/>
<path fill="#4851f3" d="M311.6 239.4h1.1v10.2h-1.1zM312.6 233.3h1.1v27.8h-1.1zM312.6 261.1h1.1v25h-1.1zM322.6 239.6h1.1v25.8h-1.1zM324.6 391.5h1.1v13.5h-1.1zM325.6 257.4h1.1v16h-1.1z"/>
<path fill="#4851f4" d="M365.6 321.9h1.1v20.6h-1.1z"/>
<path fill="#4852f4" d="M307.6 323.1h1.1v6.8h-1.1zM323.6 279.4h1.1v19.9h-1.1zM325.6 273.5h1.1v21.9h-1.1zM330.6 297.3h1.1v6.4h-1.1zM344.6 233.3h1.1v18.2h-1.1zM354.6 342.4h1.1v21.4h-1.1zM355.6 337.1h1.1v9.4h-1.1zM358.6 377.8h1.1v10.2h-1.1zM363.6 397.4h1.1v25.8h-1.1z"/>
<path fill="#4853f5" d="M298.6 374.2h1.1v24.6h-1.1zM314.6 324.2h1.1v8.5h-1.1zM329.6 309.1h1.1v7.3h-1.1zM339.6 363.6h1.1v7.1h-1.1zM340.6 315.4h1.1v20.7h-1.1zM341.6 282.7h1.1v27.6h-1.1zM342.6 286.8h1.1v10.6h-1.1zM354.6 283.5h1.1v17.4h-1.1z"/>
<path fill="#4854f5" d="M308.6 346.1h1.1v6.5h-1.1zM316.6 383.1h1.1v27.2h-1.1zM329.6 323.1h1.1v14h-1.1zM332.6 361.2h1.1v10.5h-1.1zM353.6 233.3h1.1v16.1h-1.1zM362.6 362.4h1.1v13.2h-1.1z"/>
<path fill="#4854f6" d="M310.6 240.6h1.1v7.5h-1.1z"/>
</g>
<g filter="url(#blc)">
<rect x="235.9" y="394" width="2.2" height="14" fill="url(#gt0)"/>
<g mask="url(#mk3)"><g clip-path="url(#cc0)"><g transform="translate(177.6,0) skewY(66.98)"><rect x="44.6" y="227.5" width="20" height="48" fill="url(#gu0_0)"/></g></g></g>
<g mask="url(#mk2)"><g clip-path="url(#cc0)"><g transform="translate(177.6,0) skewY(66.98)"><rect x="44.6" y="227.5" width="20" height="48" fill="url(#gu0_1)"/></g></g></g>
<g mask="url(#mk1)"><g clip-path="url(#cc0)"><g transform="translate(177.6,0) skewY(66.98)"><rect x="-2" y="227.5" width="64.6" height="48" fill="url(#gc0)"/></g></g></g>
<rect x="261.62" y="394" width="2.2" height="14" fill="url(#gt1)"/>
<g mask="url(#mk3)"><g clip-path="url(#cc1)"><g transform="translate(203.32,0) skewY(66.98)"><rect x="44.6" y="235.4" width="20" height="36" fill="url(#gu1_0)"/></g></g></g>
<g mask="url(#mk2)"><g clip-path="url(#cc1)"><g transform="translate(203.32,0) skewY(66.98)"><rect x="44.6" y="235.4" width="20" height="36" fill="url(#gu1_1)"/></g></g></g>
<g mask="url(#mk1)"><g clip-path="url(#cc1)"><g transform="translate(203.32,0) skewY(66.98)"><rect x="-2" y="235.4" width="64.6" height="36" fill="url(#gc1)"/><rect x="-2" y="235.4" width="24" height="36" fill="url(#fadeh)"/></g></g></g>
<rect x="287.34" y="394" width="2.2" height="14" fill="url(#gt2)"/>
<g mask="url(#mk3)"><g clip-path="url(#cc2)"><g transform="translate(229.04,0) skewY(66.98)"><rect x="44.6" y="227.5" width="20" height="48" fill="url(#gu2_0)"/></g></g></g>
<g mask="url(#mk2)"><g clip-path="url(#cc2)"><g transform="translate(229.04,0) skewY(66.98)"><rect x="44.6" y="227.5" width="20" height="48" fill="url(#gu2_1)"/></g></g></g>
<g mask="url(#mk1)"><g clip-path="url(#cc2)"><g transform="translate(229.04,0) skewY(66.98)"><rect x="-2" y="227.5" width="64.6" height="48" fill="url(#gc2)"/></g></g></g>
<rect x="313.06" y="394" width="2.2" height="14" fill="url(#gt3)"/>
<g mask="url(#mk3)"><g clip-path="url(#cc3)"><g transform="translate(254.76,0) skewY(66.98)"><rect x="44.6" y="235.4" width="20" height="36" fill="url(#gu3_0)"/></g></g></g>
<g mask="url(#mk2)"><g clip-path="url(#cc3)"><g transform="translate(254.76,0) skewY(66.98)"><rect x="44.6" y="235.4" width="20" height="36" fill="url(#gu3_1)"/></g></g></g>
<g mask="url(#mk1)"><g clip-path="url(#cc3)"><g transform="translate(254.76,0) skewY(66.98)"><rect x="-2" y="235.4" width="64.6" height="36" fill="url(#gc3)"/><rect x="-2" y="235.4" width="24" height="36" fill="url(#fadeh)"/></g></g></g>
<rect x="337.78" y="394" width="2.2" height="14" fill="url(#gt4)"/>
<g mask="url(#mk3)"><g clip-path="url(#cc4)"><g transform="translate(280.48,0) skewY(66.98)"><rect x="43.6" y="230.4" width="20" height="44" fill="url(#gu4_0)"/></g></g></g>
<g mask="url(#mk2)"><g clip-path="url(#cc4)"><g transform="translate(280.48,0) skewY(66.98)"><rect x="43.6" y="230.4" width="20" height="44" fill="url(#gu4_1)"/></g></g></g>
<g mask="url(#mk1)"><g clip-path="url(#cc4)"><g transform="translate(280.48,0) skewY(66.98)"><rect x="-2" y="230.4" width="63.6" height="44" fill="url(#gc4)"/></g></g></g>
<rect x="287.8" y="263.6" width="1.5" height="8.1" fill="#40ca8d" opacity="0.5"/>
<rect x="297.8" y="288.9" width="1.5" height="8.9" fill="#46cb87" opacity="0.5"/>
<rect x="303.8" y="301.3" width="1.5" height="12.4" fill="#2797eb" opacity="0.5"/>
<rect x="306.7" y="308.5" width="1.5" height="10.2" fill="#249fe5" opacity="0.5"/>
<rect x="308.7" y="313.3" width="1.5" height="10.5" fill="#1aacdd" opacity="0.5"/>
<rect x="314.9" y="326.8" width="1.5" height="12" fill="#269ae8" opacity="0.5"/>
<rect x="317" y="333.7" width="1.5" height="6.9" fill="#a2c83f" opacity="0.5"/>
<rect x="318.7" y="335.7" width="1.5" height="11.1" fill="#58cc79" opacity="0.5"/>
<rect x="320.5" y="342.6" width="1.5" height="7.8" fill="#48cb86" opacity="0.5"/>
<rect x="322.8" y="347.1" width="1.5" height="9.3" fill="#44cb89" opacity="0.5"/>
<rect x="324" y="351.9" width="1.5" height="6.2" fill="#2b91ef" opacity="0.5"/>
<rect x="326" y="355.3" width="1.5" height="9.1" fill="#1da8e0" opacity="0.5"/>
<rect x="332" y="365.9" width="1.5" height="12.9" fill="#91ca4c" opacity="0.5"/>
<rect x="334" y="372.5" width="1.5" height="8.2" fill="#3ac994" opacity="0.5"/>
<rect x="335.5" y="375.7" width="1.5" height="11.4" fill="#56cc7b" opacity="0.5"/>
<rect x="363.5" y="394" width="2.2" height="14" fill="url(#gt5)"/>
<g mask="url(#mk3)"><g clip-path="url(#cc5)"><g transform="translate(306.2,0) skewY(66.98)"><rect x="43.6" y="231.4" width="20" height="44" fill="url(#gu5_0)"/></g></g></g>
<g mask="url(#mk2)"><g clip-path="url(#cc5)"><g transform="translate(306.2,0) skewY(66.98)"><rect x="43.6" y="231.4" width="20" height="44" fill="url(#gu5_1)"/></g></g></g>
<g mask="url(#mk1)"><g clip-path="url(#cc5)"><g transform="translate(306.2,0) skewY(66.98)"><rect x="-2" y="231.4" width="63.6" height="44" fill="url(#gc5)"/></g></g></g>
<rect x="307.2" y="248.2" width="1.5" height="11" fill="#1aabdd" opacity="0.5"/>
<rect x="311" y="256.1" width="1.5" height="11.6" fill="#7ccc5c" opacity="0.5"/>
<rect x="314" y="263.4" width="1.5" height="11.5" fill="#3dc990" opacity="0.5"/>
<rect x="316" y="272.4" width="1.5" height="8.6" fill="#18addb" opacity="0.5"/>
<rect x="317.7" y="275.4" width="1.5" height="8.5" fill="#67cd6c" opacity="0.5"/>
<rect x="322" y="284.1" width="1.5" height="10.8" fill="#5bcc77" opacity="0.5"/>
<rect x="323.9" y="289.2" width="1.5" height="8.3" fill="#2995ec" opacity="0.5"/>
<rect x="325.4" y="294.4" width="1.5" height="9.4" fill="#a0c841" opacity="0.5"/>
<rect x="327.7" y="299.4" width="1.5" height="8.4" fill="#1ea7e1" opacity="0.5"/>
<rect x="329.9" y="303.3" width="1.5" height="11.6" fill="#6acd6a" opacity="0.5"/>
<rect x="331.4" y="305.3" width="1.5" height="8.9" fill="#68cd6b" opacity="0.5"/>
<rect x="332.7" y="310.4" width="1.5" height="8.6" fill="#35c799" opacity="0.5"/>
<rect x="334.6" y="312.3" width="1.5" height="11" fill="#20a5e2" opacity="0.5"/>
<rect x="336.5" y="320.8" width="1.5" height="7.2" fill="#259ce7" opacity="0.5"/>
<rect x="338.3" y="322.6" width="1.5" height="9" fill="#4dcb82" opacity="0.5"/>
<rect x="340.5" y="328.1" width="1.5" height="9.3" fill="#62cd70" opacity="0.5"/>
<rect x="342.3" y="330.7" width="1.5" height="11.6" fill="#aac739" opacity="0.5"/>
<rect x="344.5" y="339.1" width="1.5" height="10" fill="#2b92ef" opacity="0.5"/>
<rect x="347.5" y="344.9" width="1.5" height="7.9" fill="#73cd63" opacity="0.5"/>
<rect x="348.5" y="348.6" width="1.5" height="6.5" fill="#46cb88" opacity="0.5"/>
<rect x="350.4" y="352.6" width="1.5" height="7.1" fill="#19acdc" opacity="0.5"/>
<rect x="356.9" y="366.1" width="1.5" height="13" fill="#22a2e4" opacity="0.5"/>
<rect x="363.3" y="381" width="1.5" height="12" fill="#2d8cf3" opacity="0.5"/>
</g>
</g>
</g>
<rect x="177.6" y="236.3" width="194.6" height="171.5" fill="none" stroke="#1c1060" stroke-opacity="0.55" stroke-width="0.5"/>
<text x="175" y="380.7" font-size="6.8" text-anchor="end" fill="#262626">150</text>
<text x="175" y="346.12" font-size="6.8" text-anchor="end" fill="#262626">200</text>
<text x="175" y="311.55" font-size="6.8" text-anchor="end" fill="#262626">250</text>
<text x="175" y="276.97" font-size="6.8" text-anchor="end" fill="#262626">300</text>
<text x="175" y="242.4" font-size="6.8" text-anchor="end" fill="#262626">350</text>
<text x="202.72" y="417.7" font-size="6.7" text-anchor="middle" fill="#262626">1000</text>
<text x="228.44" y="417.7" font-size="6.7" text-anchor="middle" fill="#262626">2000</text>
<text x="254.16" y="417.7" font-size="6.7" text-anchor="middle" fill="#262626">3000</text>
<text x="279.88" y="417.7" font-size="6.7" text-anchor="middle" fill="#262626">4000</text>
<text x="305.6" y="417.7" font-size="6.7" text-anchor="middle" fill="#262626">5000</text>
<text x="331.32" y="417.7" font-size="6.7" text-anchor="middle" fill="#262626">6000</text>
<text x="357.04" y="417.7" font-size="6.7" text-anchor="middle" fill="#262626">7000</text>
<text x="274.7" y="427.2" font-size="7.4" text-anchor="middle" fill="#262626">Time samples</text>
<text transform="translate(158.8,322) rotate(-90)" font-size="7.3" text-anchor="middle" fill="#262626">Frequency bins</text>
<rect x="378.4" y="236.3" width="10.6" height="171.8" fill="url(#cbc)" stroke="#3a3a3a" stroke-width="0.4"/>
<line x1="387.5" x2="389" y1="389.61" y2="389.61" stroke="#262626" stroke-width="0.4"/>
<text x="391.2" y="391.65" font-size="6.2" fill="#262626">10</text>
<line x1="387.5" x2="389" y1="371.11" y2="371.11" stroke="#262626" stroke-width="0.4"/>
<text x="391.2" y="373.16" font-size="6.2" fill="#262626">20</text>
<line x1="387.5" x2="389" y1="352.62" y2="352.62" stroke="#262626" stroke-width="0.4"/>
<text x="391.2" y="354.67" font-size="6.2" fill="#262626">30</text>
<line x1="387.5" x2="389" y1="334.13" y2="334.13" stroke="#262626" stroke-width="0.4"/>
<text x="391.2" y="336.17" font-size="6.2" fill="#262626">40</text>
<line x1="387.5" x2="389" y1="315.63" y2="315.63" stroke="#262626" stroke-width="0.4"/>
<text x="391.2" y="317.68" font-size="6.2" fill="#262626">50</text>
<line x1="387.5" x2="389" y1="297.14" y2="297.14" stroke="#262626" stroke-width="0.4"/>
<text x="391.2" y="299.19" font-size="6.2" fill="#262626">60</text>
<line x1="387.5" x2="389" y1="278.65" y2="278.65" stroke="#262626" stroke-width="0.4"/>
<text x="391.2" y="280.69" font-size="6.2" fill="#262626">70</text>
<line x1="387.5" x2="389" y1="260.16" y2="260.16" stroke="#262626" stroke-width="0.4"/>
<text x="391.2" y="262.2" font-size="6.2" fill="#262626">80</text>
<line x1="387.5" x2="389" y1="241.66" y2="241.66" stroke="#262626" stroke-width="0.4"/>
<text x="391.2" y="243.71" font-size="6.2" fill="#262626">90</text>
<text x="284.8" y="446.3" font-size="11.6" font-weight="bold" text-anchor="middle" font-family="Liberation Serif, serif" fill="#222">(c)</text>
</svg></body></html>
